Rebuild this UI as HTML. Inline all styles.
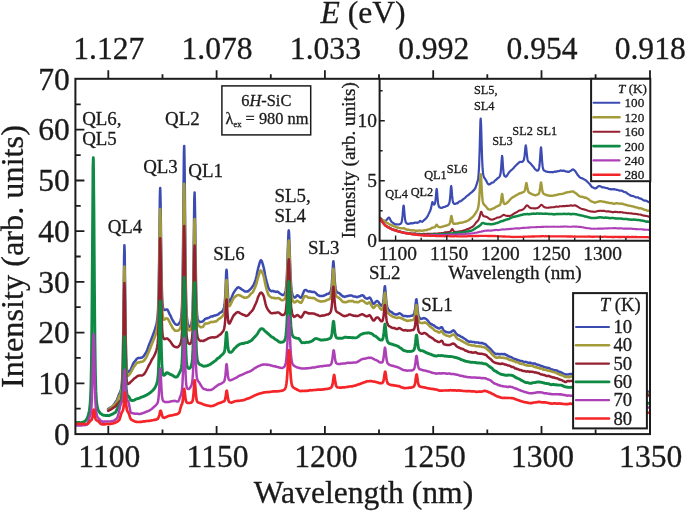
<!DOCTYPE html>
<html lang="en"><head><meta charset="utf-8"><title>6H-SiC photoluminescence spectra</title>
<style>html,body{margin:0;padding:0;background:#fff}body{width:685px;height:512px;overflow:hidden;position:relative}</style></head>
<body>
<svg width="685" height="512" viewBox="0 0 685 512" style="position:absolute;left:0;top:0;font-family:'Liberation Serif',serif" fill="#1a1a1a">
<style>text{stroke:#1a1a1a;stroke-width:.3px;paint-order:stroke}</style>
<rect width="685" height="512" fill="#fff"/>
<defs><clipPath id="cm"><rect x="75.4" y="78.8" width="574.6" height="355.3"/></clipPath><clipPath id="ci"><rect x="379.6" y="78.8" width="270.4" height="162.0"/></clipPath></defs>
<g clip-path="url(#cm)" fill="none" stroke-linejoin="round" stroke-linecap="round">
<path d="M108.1 409.1 L108.6 408.7 L109.1 408.5 L109.6 408.3 L110.1 407.9 L110.6 407.4 L111.1 407.2 L111.6 406.9 L112.1 406.7 L112.6 406.4 L113.1 405.7 L113.6 405.1 L114.1 404.1 L114.6 403.6 L115.1 402.8 L115.6 401.9 L116.1 401.2 L116.6 400.4 L117.1 399.5 L117.6 398.3 L118.1 396.8 L118.6 395.4 L119.1 394.1 L119.6 393.1 L120.1 392.0 L120.6 390.7 L121.1 389.0 L121.6 386.0 L122.1 380.3 L122.6 368.1 L123.1 343.0 L123.6 301.5 L124.1 256.6 L124.2 253.4 L124.4 245.3 L124.6 249.6 L124.7 252.0 L125.1 287.9 L125.6 329.2 L126.1 354.8 L126.6 366.4 L127.1 370.6 L127.6 372.0 L128.1 372.1 L128.6 371.9 L129.1 371.6 L129.6 371.0 L130.1 370.4 L130.6 369.6 L131.1 368.6 L131.6 367.4 L132.1 366.4 L132.6 365.1 L133.1 363.9 L133.6 362.9 L134.1 362.1 L134.6 361.7 L135.1 361.0 L135.6 360.6 L136.1 359.8 L136.6 359.1 L137.1 358.7 L137.6 358.2 L138.1 358.1 L138.6 358.1 L139.1 357.9 L139.6 358.0 L140.1 357.9 L140.6 357.7 L141.1 357.8 L141.6 357.6 L142.1 357.6 L142.6 357.2 L143.1 356.7 L143.6 356.3 L144.1 355.5 L144.6 354.8 L145.1 354.1 L145.6 353.1 L146.1 352.3 L146.6 351.5 L147.1 350.3 L147.6 349.1 L148.1 347.5 L148.6 346.0 L149.1 344.6 L149.6 343.3 L150.1 342.3 L150.6 341.1 L151.1 339.8 L151.6 338.5 L152.1 337.3 L152.6 335.9 L153.1 334.5 L153.6 333.3 L154.1 331.9 L154.6 330.4 L155.1 328.9 L155.6 327.1 L156.1 325.3 L156.6 323.2 L157.1 320.4 L157.6 316.3 L158.1 308.9 L158.6 293.5 L159.1 264.2 L159.6 221.8 L159.9 195.4 L160.1 189.4 L160.2 188.0 L160.4 194.4 L160.6 203.7 L161.1 244.9 L161.6 278.5 L162.1 297.0 L162.6 305.0 L163.1 308.2 L163.6 309.5 L164.1 309.9 L164.6 310.1 L165.1 309.9 L165.6 309.7 L166.1 309.6 L166.6 309.4 L167.1 309.4 L167.6 309.9 L168.1 310.8 L168.6 311.9 L169.1 313.0 L169.6 314.2 L170.1 314.9 L170.6 315.8 L171.1 317.1 L171.6 318.2 L172.1 319.2 L172.6 320.2 L173.1 321.1 L173.6 321.8 L174.1 322.7 L174.6 323.3 L175.1 323.9 L175.6 324.3 L176.1 324.5 L176.6 324.8 L177.1 324.8 L177.6 324.7 L178.1 324.6 L178.6 324.0 L179.1 323.5 L179.6 322.9 L180.1 321.8 L180.6 320.3 L181.1 318.0 L181.6 313.5 L182.1 303.7 L182.6 282.3 L183.1 242.6 L183.6 187.3 L183.9 154.3 L184.1 147.2 L184.2 145.9 L184.4 154.6 L184.6 166.9 L185.1 222.5 L185.6 270.4 L186.1 299.2 L186.6 313.0 L187.1 319.5 L187.6 322.8 L188.1 324.7 L188.6 325.8 L189.1 326.5 L189.6 326.8 L190.1 326.7 L190.6 326.3 L191.1 325.2 L191.6 323.1 L192.1 318.9 L192.6 309.9 L193.1 291.0 L193.6 258.0 L194.1 215.8 L194.3 199.2 L194.6 192.5 L194.8 198.7 L195.1 215.0 L195.6 256.2 L196.1 288.3 L196.6 306.3 L197.1 314.6 L197.6 318.2 L198.1 320.1 L198.6 321.1 L199.1 321.6 L199.6 321.9 L200.1 321.9 L200.6 321.9 L201.1 321.8 L201.6 321.8 L202.1 321.7 L202.6 321.5 L203.1 321.2 L203.6 320.7 L204.1 320.1 L204.6 319.5 L205.1 318.9 L205.6 318.8 L206.1 318.5 L206.6 318.6 L207.1 318.4 L207.6 318.1 L208.1 318.1 L208.6 317.8 L209.1 317.6 L209.6 317.4 L210.1 317.0 L210.6 316.7 L211.1 316.4 L211.6 316.4 L212.1 316.3 L212.6 316.4 L213.1 316.0 L213.6 315.8 L214.1 315.7 L214.6 315.4 L215.1 315.6 L215.6 315.5 L216.1 315.2 L216.6 315.1 L217.1 315.0 L217.6 314.7 L218.1 314.4 L218.6 314.1 L219.1 313.5 L219.6 313.1 L220.1 312.7 L220.6 312.6 L221.1 312.3 L221.6 312.0 L222.1 311.5 L222.6 310.9 L223.1 310.1 L223.6 309.1 L224.1 307.5 L224.6 304.3 L225.1 298.3 L225.6 287.7 L226.1 275.0 L226.2 272.1 L226.5 269.8 L226.6 270.0 L226.8 271.4 L227.1 278.4 L227.6 289.7 L228.1 297.2 L228.6 300.6 L229.1 301.8 L229.6 301.7 L230.1 301.2 L230.6 300.3 L231.1 299.1 L231.6 297.7 L232.1 296.3 L232.6 295.0 L233.1 293.6 L233.6 292.9 L234.1 292.0 L234.6 291.3 L235.1 290.6 L235.6 289.8 L236.1 289.2 L236.6 288.6 L237.1 287.9 L237.6 287.6 L238.1 287.4 L238.6 287.3 L239.1 287.6 L239.6 287.9 L240.1 288.1 L240.6 288.5 L241.1 289.0 L241.6 289.3 L242.1 289.7 L242.6 289.9 L243.1 290.1 L243.6 290.6 L244.1 291.0 L244.6 291.3 L245.1 291.5 L245.6 291.4 L246.1 291.5 L246.6 291.5 L247.1 291.3 L247.6 291.4 L248.1 291.3 L248.6 290.8 L249.1 290.5 L249.6 289.8 L250.1 289.4 L250.6 289.0 L251.1 288.4 L251.6 287.9 L252.1 287.1 L252.6 286.4 L253.1 285.8 L253.6 284.8 L254.1 283.8 L254.6 282.6 L255.1 281.3 L255.6 279.9 L256.1 277.8 L256.6 275.7 L257.1 273.1 L257.6 270.7 L258.1 268.5 L258.6 266.7 L259.1 264.9 L259.6 263.0 L260.1 261.6 L260.6 260.4 L261.1 260.2 L261.6 260.8 L262.1 262.0 L262.6 263.6 L263.1 265.4 L263.6 267.3 L264.1 269.4 L264.6 272.0 L265.1 274.9 L265.6 277.4 L266.1 279.7 L266.6 281.5 L267.1 283.2 L267.6 285.1 L268.1 286.9 L268.6 288.3 L269.1 289.2 L269.6 289.8 L270.1 290.4 L270.6 290.8 L271.1 291.1 L271.6 291.2 L272.1 290.9 L272.6 291.0 L273.1 291.2 L273.6 291.1 L274.1 291.5 L274.6 291.5 L275.1 291.7 L275.6 291.8 L276.1 291.9 L276.6 291.8 L277.1 291.6 L277.6 291.7 L278.1 291.9 L278.6 292.3 L279.1 292.8 L279.6 293.2 L280.1 293.5 L280.6 293.9 L281.1 294.1 L281.6 294.6 L282.1 294.8 L282.6 295.0 L283.1 295.0 L283.6 294.8 L284.1 294.5 L284.6 293.9 L285.1 292.9 L285.6 291.0 L286.1 287.5 L286.6 281.2 L287.1 271.1 L287.6 256.9 L288.1 241.2 L288.5 232.2 L288.6 231.0 L288.8 230.4 L289.0 232.3 L289.1 234.1 L289.6 247.8 L290.1 263.7 L290.6 276.6 L291.1 285.4 L291.6 290.7 L292.1 293.6 L292.6 295.3 L293.1 296.2 L293.6 296.9 L294.1 297.3 L294.6 297.5 L295.1 297.6 L295.6 297.1 L296.1 296.5 L296.6 295.8 L297.1 295.2 L297.6 295.2 L298.1 295.6 L298.6 295.9 L299.1 296.4 L299.6 296.8 L300.1 297.3 L300.6 297.7 L301.1 297.7 L301.6 297.1 L302.1 296.0 L302.6 294.6 L303.1 293.2 L303.6 292.0 L304.1 290.9 L304.6 290.3 L305.1 289.9 L305.6 290.0 L306.1 290.1 L306.6 290.3 L307.1 290.8 L307.6 291.1 L308.1 291.3 L308.6 291.5 L309.1 291.4 L309.6 291.3 L310.1 291.4 L310.6 291.5 L311.1 291.7 L311.6 291.8 L312.1 292.0 L312.6 292.0 L313.1 291.8 L313.6 291.9 L314.1 292.0 L314.6 292.2 L315.1 292.5 L315.6 292.8 L316.1 293.3 L316.6 293.8 L317.1 294.5 L317.6 294.9 L318.1 295.3 L318.6 295.6 L319.1 295.6 L319.6 295.9 L320.1 295.9 L320.6 295.9 L321.1 296.1 L321.6 296.1 L322.1 296.1 L322.6 295.9 L323.1 295.9 L323.6 295.6 L324.1 295.4 L324.6 295.4 L325.1 295.1 L325.6 294.8 L326.1 294.7 L326.6 294.2 L327.1 294.0 L327.6 294.1 L328.1 293.8 L328.6 293.7 L329.1 293.4 L329.6 292.8 L330.1 292.4 L330.6 291.6 L331.1 289.9 L331.6 286.4 L332.1 280.2 L332.6 271.5 L333.1 263.2 L333.1 262.6 L333.4 261.3 L333.6 262.2 L333.6 262.6 L334.1 269.5 L334.6 278.4 L335.1 285.0 L335.6 288.7 L336.1 290.6 L336.6 291.7 L337.1 292.2 L337.6 292.6 L338.1 292.7 L338.6 292.9 L339.1 293.2 L339.6 293.4 L340.1 294.0 L340.6 294.5 L341.1 294.7 L341.6 295.4 L342.1 295.8 L342.6 296.0 L343.1 296.5 L343.6 296.6 L344.1 296.7 L344.6 296.9 L345.1 296.5 L345.6 296.6 L346.1 296.4 L346.6 296.2 L347.1 296.2 L347.6 295.9 L348.1 295.9 L348.6 295.7 L349.1 295.7 L349.6 295.6 L350.1 295.4 L350.6 295.5 L351.1 295.4 L351.6 295.5 L352.1 295.8 L352.6 295.9 L353.1 296.3 L353.6 296.6 L354.1 296.6 L354.6 296.6 L355.1 296.6 L355.6 296.7 L356.1 296.9 L356.6 297.1 L357.1 297.2 L357.6 297.0 L358.1 296.7 L358.6 296.6 L359.1 296.4 L359.6 296.4 L360.1 296.1 L360.6 295.9 L361.1 295.5 L361.6 295.4 L362.1 295.4 L362.6 295.3 L363.1 295.5 L363.6 295.8 L364.1 296.5 L364.6 297.3 L365.1 297.8 L365.6 298.2 L366.1 298.4 L366.6 298.5 L367.1 298.7 L367.6 298.6 L368.1 298.3 L368.6 298.1 L369.1 297.7 L369.6 297.6 L370.1 297.9 L370.6 298.5 L371.1 299.5 L371.6 300.6 L372.1 301.9 L372.6 303.0 L373.1 303.7 L373.6 303.9 L374.1 303.5 L374.6 302.9 L375.1 302.6 L375.6 301.8 L376.1 301.4 L376.6 301.2 L377.1 300.9 L377.6 301.2 L378.1 301.7 L378.6 302.1 L379.1 302.9 L379.6 303.8 L380.1 304.4 L380.6 305.0 L381.1 305.5 L381.6 305.7 L382.1 305.6 L382.6 304.8 L383.1 302.7 L383.6 298.7 L384.1 292.9 L384.6 287.4 L384.6 287.0 L384.9 286.2 L385.1 286.9 L385.1 287.3 L385.6 292.3 L386.1 298.8 L386.6 303.7 L387.1 306.5 L387.6 308.1 L388.1 309.1 L388.6 310.0 L389.1 310.5 L389.6 311.0 L390.1 311.4 L390.6 311.5 L391.1 311.9 L391.6 312.1 L392.1 312.5 L392.6 313.1 L393.1 313.4 L393.6 313.7 L394.1 314.0 L394.6 314.1 L395.1 314.3 L395.6 314.5 L396.1 314.3 L396.6 314.4 L397.1 314.5 L397.6 314.2 L398.1 314.0 L398.6 313.6 L399.1 313.3 L399.6 313.3 L400.1 313.5 L400.6 313.8 L401.1 314.1 L401.6 314.6 L402.1 315.0 L402.6 315.4 L403.1 315.8 L403.6 316.0 L404.1 316.1 L404.6 316.1 L405.1 316.1 L405.6 316.0 L406.1 316.1 L406.6 316.3 L407.1 316.3 L407.6 316.4 L408.1 316.2 L408.6 316.2 L409.1 316.2 L409.6 316.2 L410.1 316.1 L410.6 315.9 L411.1 315.8 L411.6 315.8 L412.1 315.7 L412.6 315.5 L413.1 315.2 L413.6 314.6 L414.1 313.8 L414.6 312.1 L415.1 309.0 L415.6 304.4 L416.1 300.1 L416.1 299.8 L416.4 299.2 L416.6 299.8 L416.6 300.1 L417.1 304.1 L417.6 309.4 L418.1 313.4 L418.6 315.8 L419.1 317.2 L419.6 318.0 L420.1 318.5 L420.6 318.6 L421.1 318.9 L421.6 318.7 L422.1 318.7 L422.6 318.5 L423.1 318.3 L423.6 318.2 L424.1 318.1 L424.6 318.3 L425.1 318.4 L425.6 318.7 L426.1 319.0 L426.6 319.3 L427.1 319.8 L427.6 320.4 L428.1 320.9 L428.6 321.7 L429.1 322.6 L429.6 323.0 L430.1 323.5 L430.6 323.8 L431.1 324.0 L431.6 324.1 L432.1 324.6 L432.6 324.9 L433.1 324.9 L433.6 325.3 L434.1 325.5 L434.6 325.9 L435.1 326.4 L435.6 326.9 L436.1 327.2 L436.6 327.5 L437.1 327.6 L437.6 327.9 L438.1 328.2 L438.6 328.4 L439.1 328.5 L439.6 328.3 L440.1 328.0 L440.6 327.6 L441.1 327.3 L441.6 327.2 L442.1 327.4 L442.6 328.4 L443.1 329.5 L443.6 330.4 L444.1 330.7 L444.6 331.1 L445.1 331.4 L445.6 331.8 L446.1 332.0 L446.6 332.1 L447.1 332.2 L447.6 332.2 L448.1 332.4 L448.6 332.5 L449.1 332.5 L449.6 332.5 L450.1 332.4 L450.6 332.2 L451.1 331.9 L451.6 331.6 L452.1 331.0 L452.6 330.7 L453.1 330.6 L453.6 330.3 L454.1 330.8 L454.6 331.4 L455.1 332.0 L455.6 332.8 L456.1 333.6 L456.6 334.1 L457.1 334.5 L457.6 335.1 L458.1 335.1 L458.6 335.4 L459.1 335.5 L459.6 335.7 L460.1 336.1 L460.6 336.4 L461.1 336.8 L461.6 337.0 L462.1 337.1 L462.6 337.3 L463.1 337.8 L463.6 338.1 L464.1 338.3 L464.6 338.7 L465.1 339.0 L465.6 339.3 L466.1 339.8 L466.6 340.3 L467.1 340.4 L467.6 340.9 L468.1 341.4 L468.6 341.4 L469.1 341.8 L469.6 341.7 L470.1 341.5 L470.6 341.7 L471.1 341.7 L471.6 341.8 L472.1 342.1 L472.6 342.0 L473.1 342.0 L473.6 342.0 L474.1 342.0 L474.6 342.3 L475.1 342.5 L475.6 342.6 L476.1 342.6 L476.6 342.6 L477.1 342.4 L477.6 342.5 L478.1 342.6 L478.6 342.7 L479.1 342.9 L479.6 343.1 L480.1 343.1 L480.6 343.1 L481.1 343.2 L481.6 343.1 L482.1 343.1 L482.6 343.1 L483.1 343.5 L483.6 343.7 L484.1 343.9 L484.6 344.1 L485.1 344.1 L485.6 344.4 L486.1 344.9 L486.6 345.4 L487.1 345.9 L487.6 346.4 L488.1 346.8 L488.6 347.4 L489.1 347.6 L489.6 348.2 L490.1 348.7 L490.6 349.1 L491.1 349.8 L491.6 350.2 L492.1 350.9 L492.6 351.4 L493.1 351.8 L493.6 352.6 L494.1 352.7 L494.6 353.3 L495.1 353.7 L495.6 353.9 L496.1 354.2 L496.6 354.0 L497.1 353.8 L497.6 353.9 L498.1 353.9 L498.6 354.0 L499.1 354.3 L499.6 354.1 L500.1 354.2 L500.6 354.2 L501.1 354.1 L501.6 354.0 L502.1 354.0 L502.6 354.2 L503.1 354.3 L503.6 354.2 L504.1 354.1 L504.6 354.1 L505.1 354.2 L505.6 354.6 L506.1 355.1 L506.6 355.0 L507.1 355.4 L507.6 355.7 L508.1 355.8 L508.6 356.3 L509.1 356.5 L509.6 356.7 L510.1 356.8 L510.6 357.0 L511.1 357.2 L511.6 357.3 L512.1 357.7 L512.6 358.0 L513.1 358.3 L513.6 358.7 L514.1 358.9 L514.6 358.9 L515.1 358.9 L515.6 359.2 L516.1 359.4 L516.6 359.5 L517.1 360.0 L517.6 360.0 L518.1 360.1 L518.6 360.3 L519.1 360.4 L519.6 360.6 L520.1 360.8 L520.6 361.0 L521.1 360.9 L521.6 360.9 L522.1 361.2 L522.6 361.4 L523.1 361.7 L523.6 361.9 L524.1 362.2 L524.6 362.1 L525.1 361.9 L525.6 362.1 L526.1 361.9 L526.6 362.2 L527.1 362.4 L527.6 362.5 L528.1 362.8 L528.6 362.7 L529.1 362.8 L529.6 362.6 L530.1 362.6 L530.6 362.8 L531.1 363.0 L531.6 363.4 L532.1 363.6 L532.6 363.6 L533.1 363.7 L533.6 363.6 L534.1 363.5 L534.6 363.6 L535.1 363.6 L535.6 363.9 L536.1 364.3 L536.6 364.4 L537.1 364.6 L537.6 364.7 L538.1 364.8 L538.6 364.9 L539.1 365.2 L539.6 365.4 L540.1 365.4 L540.6 365.8 L541.1 365.9 L541.6 366.0 L542.1 366.2 L542.6 366.3 L543.1 366.6 L543.6 366.9 L544.1 367.0 L544.6 367.2 L545.1 367.4 L545.6 367.6 L546.1 367.6 L546.6 367.7 L547.1 367.7 L547.6 367.9 L548.1 368.1 L548.6 367.9 L549.1 368.1 L549.6 368.3 L550.1 368.6 L550.6 369.1 L551.1 369.3 L551.6 369.4 L552.1 369.6 L552.6 369.6 L553.1 369.8 L553.6 370.0 L554.1 370.1 L554.6 370.3 L555.1 370.4 L555.6 370.3 L556.1 370.5 L556.6 370.4 L557.1 370.6 L557.6 371.0 L558.1 371.4 L558.6 371.8 L559.1 371.9 L559.6 371.8 L560.1 372.1 L560.6 372.1 L561.1 372.5 L561.6 372.7 L562.1 372.8 L562.6 373.3 L563.1 373.4 L563.6 373.9 L564.1 374.0 L564.6 374.0 L565.1 374.3 L565.6 374.4 L566.1 374.5 L566.6 374.6 L567.1 374.4 L567.6 374.4 L568.1 374.5 L568.6 374.3 L569.1 374.3 L569.6 374.2 L570.1 373.9 L570.6 374.1 L571.1 374.2 L571.6 374.1 L572.1 374.2 L572.6 374.2 L573.1 374.0 L573.6 374.1 L574.1 374.1 L574.6 373.9 L575.1 374.2 L575.6 374.2 L576.1 374.2 L576.6 374.1 L577.1 374.2 L577.6 374.4 L578.1 374.7 L578.6 375.0 L579.1 375.1 L579.6 375.3 L580.1 375.5 L580.6 375.6 L581.1 375.8 L581.6 376.0 L582.1 376.0 L582.6 376.3 L583.1 376.5 L583.6 376.5 L584.1 376.8 L584.6 376.8 L585.1 377.2 L585.6 377.5 L586.1 377.5 L586.6 377.9 L587.1 377.8 L587.6 378.1 L588.1 378.5 L588.6 378.7 L589.1 379.0 L589.6 379.3 L590.1 379.4 L590.6 379.6 L591.1 379.9 L591.6 380.2 L592.1 380.4 L592.6 380.6 L593.1 380.9 L593.6 380.7 L594.1 380.9 L594.6 380.9 L595.1 380.8 L595.6 381.4 L596.1 381.7 L596.6 382.2 L597.1 382.5 L597.6 382.5 L598.1 382.6 L598.6 382.6 L599.1 382.7 L599.6 382.8 L600.1 383.1 L600.6 383.3 L601.1 383.4 L601.6 383.5 L602.1 383.5 L602.6 383.5 L603.1 383.7 L603.6 383.8 L604.1 383.9 L604.6 384.1 L605.1 384.2 L605.6 384.4 L606.1 384.5 L606.6 384.7 L607.1 384.7 L607.6 384.8 L608.1 385.0 L608.6 385.2 L609.1 385.4 L609.6 385.5 L610.1 385.4 L610.6 385.6 L611.1 385.7 L611.6 385.7 L612.1 385.9 L612.6 385.6 L613.1 385.6 L613.6 385.6 L614.1 386.0 L614.6 386.0 L615.1 386.0 L615.6 386.3 L616.1 386.2 L616.6 386.4 L617.1 386.5 L617.6 386.5 L618.1 386.6 L618.6 386.8 L619.1 386.8 L619.6 386.9 L620.1 387.1 L620.6 387.2 L621.1 387.3 L621.6 387.3 L622.1 387.4 L622.6 387.4 L623.1 387.6 L623.6 387.5 L624.1 387.4 L624.6 387.4 L625.1 387.5 L625.6 387.9 L626.1 388.0 L626.6 388.2 L627.1 388.3 L627.6 388.3 L628.1 388.6 L628.6 388.6 L629.1 388.4 L629.6 388.5 L630.1 388.8 L630.6 389.0 L631.1 389.3 L631.6 389.2 L632.1 389.2 L632.6 389.3 L633.1 389.2 L633.6 389.2 L634.1 389.1 L634.6 389.3 L635.1 389.5 L635.6 389.7 L636.1 389.9 L636.6 389.9 L637.1 389.9 L637.6 390.0 L638.1 389.8 L638.6 389.8 L639.1 390.0 L639.6 390.1 L640.1 390.3 L640.6 390.6 L641.1 390.3 L641.6 390.6 L642.1 390.7 L642.6 390.6 L643.1 391.0 L643.6 391.0 L644.1 391.2 L644.6 391.3 L645.1 391.4 L645.6 391.4 L646.1 391.5 L646.6 391.4 L647.1 391.5 L647.6 391.5 L648.1 391.7 L648.6 392.1 L649.1 392.1 L649.6 392.3 L650.1 392.3 L650.6 392.1" stroke="#3c4bb2" stroke-width="2.5"/>
<path d="M108.1 409.6 L108.6 409.4 L109.1 409.2 L109.6 408.9 L110.1 408.6 L110.6 408.1 L111.1 407.7 L111.6 407.2 L112.1 406.8 L112.6 406.6 L113.1 406.0 L113.6 405.5 L114.1 405.1 L114.6 404.5 L115.1 404.1 L115.6 403.5 L116.1 402.8 L116.6 402.0 L117.1 401.1 L117.6 400.1 L118.1 398.9 L118.6 397.6 L119.1 396.4 L119.6 395.5 L120.1 394.5 L120.6 393.4 L121.1 391.7 L121.6 388.9 L122.1 384.0 L122.6 373.4 L123.1 351.6 L123.6 315.5 L124.1 276.3 L124.2 273.6 L124.4 266.5 L124.6 270.1 L124.7 272.2 L125.1 303.2 L125.6 338.9 L126.1 360.9 L126.6 371.1 L127.1 374.8 L127.6 375.7 L128.1 375.8 L128.6 375.3 L129.1 374.8 L129.6 374.3 L130.1 373.6 L130.6 372.8 L131.1 371.9 L131.6 371.1 L132.1 370.1 L132.6 369.1 L133.1 368.1 L133.6 367.3 L134.1 366.6 L134.6 366.0 L135.1 365.3 L135.6 364.5 L136.1 363.8 L136.6 363.2 L137.1 362.9 L137.6 362.6 L138.1 362.4 L138.6 362.4 L139.1 362.5 L139.6 362.3 L140.1 362.1 L140.6 362.0 L141.1 361.8 L141.6 361.8 L142.1 361.8 L142.6 361.6 L143.1 361.3 L143.6 361.0 L144.1 360.5 L144.6 360.0 L145.1 359.3 L145.6 358.6 L146.1 357.8 L146.6 356.7 L147.1 355.6 L147.6 354.5 L148.1 353.3 L148.6 352.2 L149.1 351.0 L149.6 349.7 L150.1 348.6 L150.6 347.2 L151.1 346.0 L151.6 344.7 L152.1 343.5 L152.6 342.3 L153.1 341.1 L153.6 339.8 L154.1 338.5 L154.6 337.3 L155.1 335.9 L155.6 334.5 L156.1 332.8 L156.6 330.9 L157.1 328.4 L157.6 324.8 L158.1 318.2 L158.6 304.3 L159.1 277.9 L159.6 239.6 L159.9 215.7 L160.1 210.3 L160.2 209.1 L160.4 214.9 L160.6 223.3 L161.1 260.6 L161.6 291.0 L162.1 307.6 L162.6 314.8 L163.1 317.7 L163.6 319.0 L164.1 319.7 L164.6 319.6 L165.1 319.2 L165.6 318.8 L166.1 318.3 L166.6 318.4 L167.1 318.5 L167.6 318.7 L168.1 319.3 L168.6 320.0 L169.1 321.1 L169.6 322.0 L170.1 323.1 L170.6 324.1 L171.1 325.0 L171.6 326.0 L172.1 326.9 L172.6 327.9 L173.1 328.5 L173.6 329.1 L174.1 329.8 L174.6 330.1 L175.1 330.8 L175.6 330.8 L176.1 330.8 L176.6 330.8 L177.1 330.6 L177.6 330.8 L178.1 330.6 L178.6 330.3 L179.1 329.9 L179.6 329.2 L180.1 328.3 L180.6 327.1 L181.1 324.9 L181.6 321.1 L182.1 312.9 L182.6 295.4 L183.1 262.9 L183.6 217.8 L183.9 190.8 L184.1 185.0 L184.2 183.8 L184.4 190.9 L184.6 200.8 L185.1 246.0 L185.6 285.0 L186.1 308.3 L186.6 319.5 L187.1 324.7 L187.6 327.5 L188.1 328.8 L188.6 329.8 L189.1 330.4 L189.6 330.4 L190.1 330.2 L190.6 329.6 L191.1 328.6 L191.6 327.0 L192.1 323.6 L192.6 316.3 L193.1 300.7 L193.6 273.4 L194.1 238.5 L194.3 224.6 L194.6 219.1 L194.8 224.3 L195.1 237.8 L195.6 272.0 L196.1 298.7 L196.6 313.7 L197.1 320.4 L197.6 323.3 L198.1 324.7 L198.6 325.6 L199.1 326.2 L199.6 326.6 L200.1 326.8 L200.6 327.1 L201.1 327.1 L201.6 327.1 L202.1 327.1 L202.6 327.0 L203.1 326.7 L203.6 325.9 L204.1 325.0 L204.6 324.1 L205.1 323.5 L205.6 323.4 L206.1 323.5 L206.6 323.6 L207.1 323.5 L207.6 323.4 L208.1 323.2 L208.6 323.2 L209.1 323.0 L209.6 322.7 L210.1 322.4 L210.6 322.1 L211.1 322.0 L211.6 321.9 L212.1 322.1 L212.6 322.0 L213.1 321.9 L213.6 321.9 L214.1 321.6 L214.6 321.6 L215.1 321.6 L215.6 321.4 L216.1 321.4 L216.6 321.1 L217.1 320.6 L217.6 320.1 L218.1 319.5 L218.6 319.1 L219.1 318.7 L219.6 318.5 L220.1 318.3 L220.6 317.9 L221.1 317.5 L221.6 317.1 L222.1 316.6 L222.6 316.0 L223.1 315.4 L223.6 314.6 L224.1 313.2 L224.6 310.5 L225.1 305.1 L225.6 295.8 L226.1 284.6 L226.2 282.0 L226.5 280.0 L226.6 280.1 L226.8 281.3 L227.1 287.2 L227.6 296.7 L228.1 302.9 L228.6 305.6 L229.1 306.2 L229.6 306.1 L230.1 305.3 L230.6 304.6 L231.1 303.4 L231.6 302.2 L232.1 301.1 L232.6 299.9 L233.1 299.0 L233.6 298.2 L234.1 297.6 L234.6 297.1 L235.1 296.8 L235.6 296.3 L236.1 295.9 L236.6 295.6 L237.1 295.3 L237.6 295.2 L238.1 295.1 L238.6 295.0 L239.1 295.0 L239.6 295.3 L240.1 295.5 L240.6 295.7 L241.1 296.1 L241.6 296.3 L242.1 296.6 L242.6 296.9 L243.1 297.0 L243.6 297.3 L244.1 297.6 L244.6 297.6 L245.1 297.7 L245.6 297.8 L246.1 297.7 L246.6 297.5 L247.1 297.3 L247.6 297.1 L248.1 296.8 L248.6 296.5 L249.1 296.1 L249.6 295.4 L250.1 294.7 L250.6 294.0 L251.1 293.5 L251.6 293.2 L252.1 292.9 L252.6 292.3 L253.1 291.6 L253.6 290.7 L254.1 289.5 L254.6 288.4 L255.1 287.4 L255.6 286.1 L256.1 284.5 L256.6 283.1 L257.1 281.0 L257.6 279.1 L258.1 277.5 L258.6 275.8 L259.1 274.1 L259.6 272.5 L260.1 271.1 L260.6 270.4 L261.1 270.6 L261.6 271.1 L262.1 272.1 L262.6 273.3 L263.1 274.6 L263.6 276.2 L264.1 278.3 L264.6 280.7 L265.1 283.1 L265.6 285.6 L266.1 287.5 L266.6 289.3 L267.1 290.9 L267.6 292.4 L268.1 294.0 L268.6 294.9 L269.1 295.7 L269.6 296.2 L270.1 296.5 L270.6 296.9 L271.1 297.3 L271.6 297.7 L272.1 297.7 L272.6 297.8 L273.1 297.9 L273.6 297.8 L274.1 298.2 L274.6 298.1 L275.1 298.1 L275.6 298.4 L276.1 298.2 L276.6 298.2 L277.1 298.2 L277.6 298.2 L278.1 298.0 L278.6 298.2 L279.1 298.4 L279.6 298.5 L280.1 299.1 L280.6 299.4 L281.1 299.8 L281.6 300.1 L282.1 300.3 L282.6 300.3 L283.1 300.1 L283.6 299.9 L284.1 299.5 L284.6 299.0 L285.1 298.2 L285.6 296.5 L286.1 293.3 L286.6 287.5 L287.1 278.1 L287.6 265.0 L288.1 250.6 L288.5 242.2 L288.6 241.2 L288.8 240.6 L289.0 242.4 L289.1 244.0 L289.6 256.6 L290.1 271.1 L290.6 283.1 L291.1 291.2 L291.6 296.0 L292.1 298.8 L292.6 300.3 L293.1 301.2 L293.6 301.8 L294.1 302.4 L294.6 302.4 L295.1 302.3 L295.6 301.9 L296.1 301.5 L296.6 301.0 L297.1 300.8 L297.6 300.9 L298.1 301.1 L298.6 301.6 L299.1 301.9 L299.6 302.3 L300.1 302.5 L300.6 302.7 L301.1 302.8 L301.6 302.2 L302.1 301.4 L302.6 300.3 L303.1 299.1 L303.6 297.9 L304.1 296.9 L304.6 296.1 L305.1 296.0 L305.6 296.3 L306.1 296.2 L306.6 296.4 L307.1 296.7 L307.6 297.1 L308.1 297.6 L308.6 297.7 L309.1 297.8 L309.6 297.6 L310.1 297.7 L310.6 297.8 L311.1 297.9 L311.6 298.0 L312.1 298.1 L312.6 298.2 L313.1 298.0 L313.6 298.0 L314.1 298.1 L314.6 298.3 L315.1 298.8 L315.6 299.3 L316.1 299.5 L316.6 299.9 L317.1 300.3 L317.6 300.4 L318.1 300.7 L318.6 301.0 L319.1 301.1 L319.6 301.1 L320.1 301.4 L320.6 301.5 L321.1 301.6 L321.6 301.4 L322.1 301.4 L322.6 301.4 L323.1 301.2 L323.6 301.3 L324.1 301.2 L324.6 301.0 L325.1 300.9 L325.6 300.8 L326.1 300.5 L326.6 300.2 L327.1 300.0 L327.6 299.7 L328.1 299.6 L328.6 299.5 L329.1 299.3 L329.6 299.0 L330.1 298.4 L330.6 297.4 L331.1 295.7 L331.6 292.3 L332.1 286.5 L332.6 278.4 L333.1 270.6 L333.1 270.1 L333.4 268.8 L333.6 269.5 L333.6 269.9 L334.1 276.3 L334.6 284.5 L335.1 290.5 L335.6 293.9 L336.1 295.6 L336.6 296.5 L337.1 296.8 L337.6 297.3 L338.1 297.4 L338.6 297.6 L339.1 298.0 L339.6 298.4 L340.1 299.0 L340.6 299.3 L341.1 300.0 L341.6 300.6 L342.1 301.0 L342.6 301.6 L343.1 301.9 L343.6 302.0 L344.1 302.2 L344.6 302.2 L345.1 302.1 L345.6 302.1 L346.1 302.3 L346.6 302.1 L347.1 301.9 L347.6 301.7 L348.1 301.3 L348.6 301.0 L349.1 301.3 L349.6 301.0 L350.1 301.2 L350.6 301.2 L351.1 301.0 L351.6 301.1 L352.1 300.9 L352.6 301.1 L353.1 301.3 L353.6 301.5 L354.1 301.9 L354.6 302.0 L355.1 302.1 L355.6 302.0 L356.1 302.0 L356.6 302.1 L357.1 302.3 L357.6 302.2 L358.1 302.3 L358.6 302.2 L359.1 301.6 L359.6 301.4 L360.1 301.1 L360.6 300.8 L361.1 300.8 L361.6 300.7 L362.1 300.5 L362.6 300.7 L363.1 300.8 L363.6 301.1 L364.1 301.6 L364.6 302.1 L365.1 302.5 L365.6 302.8 L366.1 303.2 L366.6 303.4 L367.1 303.7 L367.6 303.6 L368.1 303.0 L368.6 302.7 L369.1 302.3 L369.6 302.5 L370.1 303.1 L370.6 303.8 L371.1 304.8 L371.6 305.7 L372.1 306.7 L372.6 307.2 L373.1 307.8 L373.6 307.9 L374.1 307.5 L374.6 307.0 L375.1 306.3 L375.6 305.6 L376.1 305.3 L376.6 305.1 L377.1 305.1 L377.6 305.3 L378.1 305.5 L378.6 306.1 L379.1 306.7 L379.6 307.6 L380.1 308.4 L380.6 308.8 L381.1 309.5 L381.6 309.7 L382.1 309.6 L382.6 309.0 L383.1 307.2 L383.6 303.7 L384.1 298.6 L384.6 293.8 L384.6 293.5 L384.9 292.8 L385.1 293.4 L385.1 293.7 L385.6 298.2 L386.1 304.0 L386.6 308.4 L387.1 311.0 L387.6 312.3 L388.1 313.1 L388.6 313.7 L389.1 314.1 L389.6 314.6 L390.1 315.0 L390.6 315.3 L391.1 315.7 L391.6 316.0 L392.1 316.2 L392.6 316.6 L393.1 316.8 L393.6 316.9 L394.1 317.2 L394.6 317.2 L395.1 317.4 L395.6 317.6 L396.1 317.8 L396.6 317.9 L397.1 317.9 L397.6 317.8 L398.1 317.6 L398.6 317.5 L399.1 317.5 L399.6 317.7 L400.1 317.7 L400.6 318.0 L401.1 318.2 L401.6 318.3 L402.1 318.5 L402.6 318.8 L403.1 319.1 L403.6 319.4 L404.1 319.7 L404.6 319.9 L405.1 320.1 L405.6 320.1 L406.1 320.4 L406.6 320.7 L407.1 320.7 L407.6 321.0 L408.1 320.8 L408.6 320.7 L409.1 320.6 L409.6 320.5 L410.1 320.5 L410.6 320.3 L411.1 320.3 L411.6 320.3 L412.1 320.1 L412.6 320.1 L413.1 320.0 L413.6 319.6 L414.1 318.8 L414.6 317.2 L415.1 314.2 L415.6 309.9 L416.1 305.9 L416.1 305.6 L416.4 305.1 L416.6 305.6 L416.6 305.9 L417.1 309.6 L417.6 314.4 L418.1 318.1 L418.6 320.3 L419.1 321.6 L419.6 322.4 L420.1 322.7 L420.6 322.9 L421.1 323.0 L421.6 323.0 L422.1 323.1 L422.6 322.9 L423.1 323.0 L423.6 322.8 L424.1 322.6 L424.6 322.6 L425.1 322.4 L425.6 322.6 L426.1 323.0 L426.6 323.2 L427.1 323.6 L427.6 324.0 L428.1 324.4 L428.6 325.2 L429.1 325.7 L429.6 326.2 L430.1 326.7 L430.6 326.9 L431.1 327.3 L431.6 327.7 L432.1 328.1 L432.6 328.4 L433.1 328.8 L433.6 329.3 L434.1 329.9 L434.6 330.4 L435.1 330.8 L435.6 330.9 L436.1 331.0 L436.6 331.1 L437.1 331.5 L437.6 331.7 L438.1 332.0 L438.6 332.5 L439.1 332.4 L439.6 332.4 L440.1 332.1 L440.6 331.5 L441.1 331.1 L441.6 331.0 L442.1 331.4 L442.6 332.3 L443.1 333.2 L443.6 334.0 L444.1 334.3 L444.6 334.4 L445.1 334.7 L445.6 335.2 L446.1 335.4 L446.6 335.6 L447.1 335.8 L447.6 335.7 L448.1 335.9 L448.6 336.1 L449.1 336.3 L449.6 336.4 L450.1 336.3 L450.6 336.1 L451.1 335.6 L451.6 335.2 L452.1 335.0 L452.6 334.7 L453.1 334.5 L453.6 334.5 L454.1 334.7 L454.6 335.1 L455.1 335.7 L455.6 336.6 L456.1 337.3 L456.6 337.8 L457.1 338.4 L457.6 338.8 L458.1 339.1 L458.6 339.3 L459.1 339.6 L459.6 339.8 L460.1 339.9 L460.6 340.5 L461.1 340.6 L461.6 340.8 L462.1 341.2 L462.6 341.3 L463.1 341.8 L463.6 342.1 L464.1 342.3 L464.6 342.6 L465.1 342.8 L465.6 343.1 L466.1 343.4 L466.6 343.7 L467.1 344.0 L467.6 344.2 L468.1 344.4 L468.6 344.7 L469.1 344.8 L469.6 344.8 L470.1 344.9 L470.6 345.1 L471.1 345.2 L471.6 345.5 L472.1 345.6 L472.6 345.5 L473.1 345.6 L473.6 345.4 L474.1 345.5 L474.6 345.6 L475.1 345.8 L475.6 346.1 L476.1 346.1 L476.6 346.3 L477.1 346.2 L477.6 346.2 L478.1 346.2 L478.6 346.1 L479.1 346.4 L479.6 346.3 L480.1 346.4 L480.6 346.5 L481.1 346.5 L481.6 346.7 L482.1 346.9 L482.6 347.0 L483.1 347.1 L483.6 347.2 L484.1 347.3 L484.6 347.5 L485.1 347.5 L485.6 347.9 L486.1 348.2 L486.6 348.8 L487.1 349.3 L487.6 349.6 L488.1 350.3 L488.6 350.5 L489.1 350.8 L489.6 351.6 L490.1 351.8 L490.6 352.6 L491.1 353.2 L491.6 353.7 L492.1 354.4 L492.6 354.7 L493.1 355.3 L493.6 355.7 L494.1 356.1 L494.6 356.7 L495.1 357.2 L495.6 357.4 L496.1 357.5 L496.6 357.7 L497.1 357.6 L497.6 357.8 L498.1 357.6 L498.6 357.3 L499.1 357.2 L499.6 357.1 L500.1 357.3 L500.6 357.8 L501.1 357.7 L501.6 357.7 L502.1 357.8 L502.6 357.6 L503.1 357.8 L503.6 357.9 L504.1 357.8 L504.6 358.1 L505.1 358.2 L505.6 358.2 L506.1 358.4 L506.6 358.4 L507.1 358.4 L507.6 358.8 L508.1 359.1 L508.6 359.3 L509.1 359.6 L509.6 359.9 L510.1 360.0 L510.6 360.2 L511.1 360.2 L511.6 360.1 L512.1 360.4 L512.6 360.8 L513.1 361.0 L513.6 361.1 L514.1 361.2 L514.6 361.3 L515.1 361.7 L515.6 362.0 L516.1 362.2 L516.6 362.2 L517.1 362.1 L517.6 362.3 L518.1 362.4 L518.6 362.8 L519.1 363.2 L519.6 363.3 L520.1 363.7 L520.6 363.7 L521.1 363.7 L521.6 364.1 L522.1 363.9 L522.6 363.9 L523.1 364.0 L523.6 364.1 L524.1 364.6 L524.6 364.9 L525.1 365.1 L525.6 365.2 L526.1 365.2 L526.6 365.3 L527.1 365.5 L527.6 365.6 L528.1 365.6 L528.6 365.6 L529.1 365.6 L529.6 365.6 L530.1 365.6 L530.6 365.6 L531.1 365.7 L531.6 365.7 L532.1 365.9 L532.6 366.1 L533.1 366.3 L533.6 366.5 L534.1 366.7 L534.6 366.8 L535.1 367.0 L535.6 367.2 L536.1 367.4 L536.6 367.4 L537.1 367.6 L537.6 367.6 L538.1 367.8 L538.6 367.9 L539.1 368.0 L539.6 368.5 L540.1 368.4 L540.6 368.5 L541.1 368.4 L541.6 368.4 L542.1 368.8 L542.6 369.0 L543.1 369.5 L543.6 369.8 L544.1 369.7 L544.6 369.7 L545.1 369.6 L545.6 369.7 L546.1 369.9 L546.6 370.2 L547.1 370.4 L547.6 370.5 L548.1 370.5 L548.6 370.6 L549.1 370.8 L549.6 370.9 L550.1 371.1 L550.6 371.1 L551.1 371.2 L551.6 371.4 L552.1 371.7 L552.6 371.8 L553.1 372.0 L553.6 372.1 L554.1 372.2 L554.6 372.3 L555.1 372.4 L555.6 372.5 L556.1 372.8 L556.6 373.2 L557.1 373.5 L557.6 373.8 L558.1 373.8 L558.6 374.0 L559.1 374.3 L559.6 374.5 L560.1 374.8 L560.6 374.9 L561.1 375.1 L561.6 375.1 L562.1 375.4 L562.6 375.5 L563.1 375.6 L563.6 376.0 L564.1 376.3 L564.6 376.7 L565.1 377.0 L565.6 377.0 L566.1 377.1 L566.6 377.0 L567.1 376.8 L567.6 377.0 L568.1 377.0 L568.6 377.1 L569.1 377.3 L569.6 377.0 L570.1 376.8 L570.6 376.7 L571.1 376.5 L571.6 376.5 L572.1 376.6 L572.6 376.7 L573.1 377.0 L573.6 377.0 L574.1 376.9 L574.6 377.0 L575.1 377.0 L575.6 377.2 L576.1 377.4 L576.6 377.2 L577.1 377.5 L577.6 377.6 L578.1 377.9 L578.6 378.0 L579.1 378.0 L579.6 378.2 L580.1 378.2 L580.6 378.3 L581.1 378.4 L581.6 378.3 L582.1 378.5 L582.6 378.8 L583.1 378.9 L583.6 379.4 L584.1 379.6 L584.6 379.9 L585.1 380.1 L585.6 380.1 L586.1 380.3 L586.6 380.3 L587.1 380.6 L587.6 380.8 L588.1 380.7 L588.6 381.0 L589.1 381.4 L589.6 381.7 L590.1 382.2 L590.6 382.4 L591.1 382.5 L591.6 382.6 L592.1 382.6 L592.6 382.6 L593.1 382.8 L593.6 383.0 L594.1 383.2 L594.6 383.5 L595.1 383.7 L595.6 384.0 L596.1 384.1 L596.6 384.1 L597.1 384.1 L597.6 384.4 L598.1 384.7 L598.6 385.0 L599.1 385.2 L599.6 385.1 L600.1 385.1 L600.6 385.3 L601.1 385.5 L601.6 385.7 L602.1 385.8 L602.6 385.9 L603.1 385.9 L603.6 385.9 L604.1 386.2 L604.6 386.2 L605.1 386.6 L605.6 386.7 L606.1 386.8 L606.6 386.9 L607.1 386.8 L607.6 386.8 L608.1 386.8 L608.6 386.8 L609.1 386.9 L609.6 386.9 L610.1 387.1 L610.6 387.5 L611.1 387.5 L611.6 387.7 L612.1 387.8 L612.6 387.8 L613.1 387.9 L613.6 388.1 L614.1 388.3 L614.6 388.5 L615.1 388.6 L615.6 388.6 L616.1 388.5 L616.6 388.4 L617.1 388.4 L617.6 388.5 L618.1 388.8 L618.6 389.1 L619.1 389.4 L619.6 389.3 L620.1 389.3 L620.6 389.4 L621.1 389.4 L621.6 389.6 L622.1 389.7 L622.6 389.7 L623.1 389.7 L623.6 389.9 L624.1 390.0 L624.6 390.1 L625.1 390.2 L625.6 390.3 L626.1 390.3 L626.6 390.3 L627.1 390.4 L627.6 390.5 L628.1 390.6 L628.6 390.7 L629.1 390.7 L629.6 390.8 L630.1 390.7 L630.6 391.0 L631.1 391.1 L631.6 391.2 L632.1 391.5 L632.6 391.4 L633.1 391.5 L633.6 391.7 L634.1 391.9 L634.6 392.0 L635.1 392.2 L635.6 392.2 L636.1 392.0 L636.6 392.1 L637.1 392.1 L637.6 392.2 L638.1 392.4 L638.6 392.4 L639.1 392.1 L639.6 392.2 L640.1 392.1 L640.6 392.2 L641.1 392.5 L641.6 392.6 L642.1 392.9 L642.6 392.8 L643.1 392.9 L643.6 393.0 L644.1 393.1 L644.6 393.3 L645.1 393.4 L645.6 393.4 L646.1 393.5 L646.6 393.5 L647.1 393.7 L647.6 393.8 L648.1 393.6 L648.6 393.7 L649.1 393.6 L649.6 393.6 L650.1 393.9 L650.6 394.0" stroke="#a39b3a" stroke-width="2.6"/>
<path d="M108.1 410.9 L108.6 410.7 L109.1 410.4 L109.6 410.0 L110.1 409.8 L110.6 409.7 L111.1 409.4 L111.6 409.2 L112.1 408.7 L112.6 408.2 L113.1 408.0 L113.6 407.6 L114.1 407.4 L114.6 407.2 L115.1 406.7 L115.6 406.3 L116.1 405.8 L116.6 405.0 L117.1 404.5 L117.6 403.9 L118.1 403.3 L118.6 402.7 L119.1 402.0 L119.6 401.4 L120.1 400.8 L120.6 400.0 L121.1 398.7 L121.6 396.5 L122.1 392.2 L122.6 382.4 L123.1 362.3 L123.6 328.7 L124.1 292.2 L124.2 289.6 L124.4 282.9 L124.6 286.2 L124.7 288.2 L125.1 317.0 L125.6 350.1 L126.1 370.6 L126.6 379.7 L127.1 383.0 L127.6 383.8 L128.1 383.9 L128.6 383.8 L129.1 383.4 L129.6 383.1 L130.1 382.5 L130.6 382.0 L131.1 381.6 L131.6 381.1 L132.1 380.7 L132.6 380.2 L133.1 379.6 L133.6 379.1 L134.1 378.6 L134.6 378.2 L135.1 377.9 L135.6 377.6 L136.1 377.2 L136.6 376.9 L137.1 376.4 L137.6 376.0 L138.1 375.8 L138.6 375.7 L139.1 375.6 L139.6 375.6 L140.1 375.5 L140.6 375.4 L141.1 375.4 L141.6 375.4 L142.1 375.4 L142.6 375.3 L143.1 375.0 L143.6 374.6 L144.1 374.0 L144.6 373.5 L145.1 372.7 L145.6 371.9 L146.1 371.0 L146.6 369.9 L147.1 369.0 L147.6 368.0 L148.1 367.0 L148.6 365.8 L149.1 365.0 L149.6 364.2 L150.1 363.2 L150.6 362.3 L151.1 361.1 L151.6 360.1 L152.1 359.2 L152.6 358.5 L153.1 357.6 L153.6 356.8 L154.1 355.9 L154.6 354.8 L155.1 353.9 L155.6 352.5 L156.1 351.1 L156.6 349.4 L157.1 347.2 L157.6 343.9 L158.1 337.9 L158.6 325.3 L159.1 301.1 L159.6 266.1 L159.9 244.2 L160.1 239.3 L160.2 238.3 L160.4 243.6 L160.6 251.3 L161.1 285.4 L161.6 313.2 L162.1 328.5 L162.6 335.0 L163.1 337.5 L163.6 338.6 L164.1 339.0 L164.6 339.2 L165.1 339.0 L165.6 338.8 L166.1 338.5 L166.6 338.4 L167.1 338.4 L167.6 338.7 L168.1 339.2 L168.6 339.6 L169.1 340.2 L169.6 340.7 L170.1 341.2 L170.6 341.8 L171.1 342.8 L171.6 343.4 L172.1 344.1 L172.6 345.0 L173.1 345.5 L173.6 346.0 L174.1 346.4 L174.6 346.7 L175.1 346.8 L175.6 347.0 L176.1 347.2 L176.6 347.3 L177.1 347.3 L177.6 347.2 L178.1 346.8 L178.6 346.4 L179.1 345.9 L179.6 345.2 L180.1 344.4 L180.6 343.2 L181.1 341.4 L181.6 338.2 L182.1 331.5 L182.6 317.1 L183.1 290.6 L183.6 253.8 L183.9 231.8 L184.1 227.0 L184.2 226.1 L184.4 231.7 L184.6 239.7 L185.1 276.3 L185.6 307.7 L186.1 326.4 L186.6 335.3 L187.1 339.3 L187.6 341.4 L188.1 342.7 L188.6 343.4 L189.1 343.9 L189.6 343.9 L190.1 343.8 L190.6 343.3 L191.1 342.2 L191.6 340.7 L192.1 337.5 L192.6 331.0 L193.1 317.2 L193.6 293.1 L194.1 262.4 L194.3 250.2 L194.6 245.4 L194.8 249.9 L195.1 261.7 L195.6 291.8 L196.1 315.2 L196.6 328.4 L197.1 334.3 L197.6 337.0 L198.1 338.4 L198.6 339.2 L199.1 339.9 L199.6 340.4 L200.1 340.8 L200.6 340.9 L201.1 340.8 L201.6 340.8 L202.1 340.8 L202.6 340.9 L203.1 341.0 L203.6 341.0 L204.1 340.6 L204.6 340.3 L205.1 340.2 L205.6 339.8 L206.1 339.7 L206.6 339.4 L207.1 339.1 L207.6 338.7 L208.1 338.4 L208.6 338.3 L209.1 338.2 L209.6 338.0 L210.1 337.7 L210.6 337.6 L211.1 337.6 L211.6 337.5 L212.1 337.4 L212.6 337.3 L213.1 337.3 L213.6 337.4 L214.1 337.5 L214.6 337.4 L215.1 337.3 L215.6 337.2 L216.1 337.0 L216.6 337.0 L217.1 336.7 L217.6 336.4 L218.1 336.0 L218.6 335.5 L219.1 335.2 L219.6 334.8 L220.1 334.7 L220.6 334.2 L221.1 333.8 L221.6 333.1 L222.1 332.4 L222.6 331.9 L223.1 331.1 L223.6 330.3 L224.1 328.9 L224.6 326.3 L225.1 321.6 L225.6 313.4 L226.1 303.5 L226.2 301.3 L226.5 299.5 L226.6 299.6 L226.8 300.7 L227.1 306.0 L227.6 314.6 L228.1 320.3 L228.6 322.9 L229.1 323.6 L229.6 323.5 L230.1 322.7 L230.6 321.7 L231.1 320.6 L231.6 319.5 L232.1 318.4 L232.6 317.3 L233.1 316.3 L233.6 315.5 L234.1 315.0 L234.6 314.5 L235.1 313.9 L235.6 313.5 L236.1 312.9 L236.6 312.5 L237.1 312.3 L237.6 312.1 L238.1 312.2 L238.6 312.3 L239.1 312.4 L239.6 312.9 L240.1 313.2 L240.6 313.5 L241.1 313.8 L241.6 314.0 L242.1 314.2 L242.6 314.6 L243.1 314.8 L243.6 314.8 L244.1 315.1 L244.6 315.2 L245.1 315.4 L245.6 315.8 L246.1 316.0 L246.6 315.8 L247.1 315.8 L247.6 315.5 L248.1 315.1 L248.6 314.8 L249.1 314.1 L249.6 313.4 L250.1 312.8 L250.6 312.3 L251.1 311.8 L251.6 311.2 L252.1 310.9 L252.6 310.1 L253.1 309.4 L253.6 308.4 L254.1 307.3 L254.6 306.0 L255.1 304.9 L255.6 304.0 L256.1 302.8 L256.6 301.5 L257.1 300.1 L257.6 298.5 L258.1 297.0 L258.6 295.9 L259.1 295.0 L259.6 293.9 L260.1 293.2 L260.6 292.8 L261.1 292.5 L261.6 292.8 L262.1 293.2 L262.6 293.9 L263.1 294.9 L263.6 295.9 L264.1 297.6 L264.6 299.7 L265.1 301.9 L265.6 304.1 L266.1 305.9 L266.6 307.1 L267.1 308.1 L267.6 309.1 L268.1 310.0 L268.6 310.6 L269.1 311.2 L269.6 311.7 L270.1 312.4 L270.6 312.9 L271.1 313.1 L271.6 313.3 L272.1 313.2 L272.6 313.2 L273.1 313.2 L273.6 313.0 L274.1 312.8 L274.6 313.1 L275.1 313.0 L275.6 313.0 L276.1 312.8 L276.6 312.4 L277.1 312.5 L277.6 312.4 L278.1 312.4 L278.6 312.5 L279.1 312.8 L279.6 313.1 L280.1 313.6 L280.6 314.1 L281.1 314.4 L281.6 314.8 L282.1 315.0 L282.6 315.1 L283.1 315.0 L283.6 314.8 L284.1 314.7 L284.6 314.2 L285.1 313.4 L285.6 311.8 L286.1 308.6 L286.6 303.1 L287.1 294.3 L287.6 282.1 L288.1 268.6 L288.5 260.9 L288.6 259.9 L288.8 259.3 L289.0 261.0 L289.1 262.5 L289.6 274.3 L290.1 287.8 L290.6 298.9 L291.1 306.4 L291.6 310.8 L292.1 313.3 L292.6 314.9 L293.1 315.8 L293.6 316.5 L294.1 316.9 L294.6 316.7 L295.1 316.5 L295.6 316.1 L296.1 315.7 L296.6 315.4 L297.1 315.2 L297.6 315.1 L298.1 315.4 L298.6 315.8 L299.1 316.2 L299.6 316.6 L300.1 317.1 L300.6 317.3 L301.1 317.4 L301.6 317.0 L302.1 316.3 L302.6 315.5 L303.1 314.5 L303.6 313.7 L304.1 312.8 L304.6 312.1 L305.1 312.0 L305.6 312.2 L306.1 312.3 L306.6 312.4 L307.1 312.8 L307.6 313.0 L308.1 313.1 L308.6 313.4 L309.1 313.3 L309.6 313.4 L310.1 313.6 L310.6 313.6 L311.1 313.6 L311.6 313.4 L312.1 313.3 L312.6 313.5 L313.1 313.5 L313.6 313.7 L314.1 313.9 L314.6 313.8 L315.1 314.0 L315.6 314.2 L316.1 314.6 L316.6 314.8 L317.1 315.0 L317.6 315.2 L318.1 315.1 L318.6 315.5 L319.1 315.8 L319.6 316.0 L320.1 316.0 L320.6 315.9 L321.1 315.8 L321.6 315.7 L322.1 315.6 L322.6 315.7 L323.1 315.5 L323.6 315.5 L324.1 315.5 L324.6 315.2 L325.1 315.2 L325.6 314.9 L326.1 314.8 L326.6 314.7 L327.1 314.5 L327.6 314.5 L328.1 314.4 L328.6 314.0 L329.1 313.8 L329.6 313.3 L330.1 312.9 L330.6 312.0 L331.1 310.5 L331.6 307.6 L332.1 302.5 L332.6 295.2 L333.1 288.2 L333.1 287.8 L333.4 286.7 L333.6 287.3 L333.6 287.6 L334.1 293.3 L334.6 300.7 L335.1 306.1 L335.6 309.3 L336.1 310.9 L336.6 311.7 L337.1 312.0 L337.6 312.4 L338.1 312.6 L338.6 312.8 L339.1 313.1 L339.6 313.5 L340.1 313.8 L340.6 314.1 L341.1 314.5 L341.6 314.8 L342.1 315.2 L342.6 315.5 L343.1 315.7 L343.6 315.9 L344.1 316.0 L344.6 316.2 L345.1 316.0 L345.6 316.0 L346.1 315.8 L346.6 315.6 L347.1 315.5 L347.6 315.3 L348.1 315.1 L348.6 314.7 L349.1 314.6 L349.6 314.6 L350.1 314.5 L350.6 314.7 L351.1 314.9 L351.6 315.0 L352.1 315.3 L352.6 315.4 L353.1 315.4 L353.6 315.7 L354.1 315.7 L354.6 315.7 L355.1 315.9 L355.6 315.8 L356.1 315.9 L356.6 315.9 L357.1 315.9 L357.6 316.1 L358.1 315.8 L358.6 315.8 L359.1 315.5 L359.6 315.2 L360.1 315.1 L360.6 314.8 L361.1 314.5 L361.6 314.2 L362.1 314.2 L362.6 314.2 L363.1 314.5 L363.6 314.9 L364.1 315.2 L364.6 315.4 L365.1 315.8 L365.6 316.0 L366.1 316.2 L366.6 316.4 L367.1 316.2 L367.6 316.3 L368.1 316.0 L368.6 315.5 L369.1 315.3 L369.6 315.1 L370.1 315.6 L370.6 316.3 L371.1 317.2 L371.6 318.1 L372.1 318.8 L372.6 319.8 L373.1 320.4 L373.6 320.6 L374.1 320.5 L374.6 319.9 L375.1 319.2 L375.6 318.5 L376.1 318.0 L376.6 317.6 L377.1 317.4 L377.6 317.5 L378.1 317.7 L378.6 318.2 L379.1 318.6 L379.6 319.4 L380.1 320.1 L380.6 320.7 L381.1 321.2 L381.6 321.3 L382.1 321.2 L382.6 320.6 L383.1 318.9 L383.6 315.6 L384.1 310.7 L384.6 306.0 L384.6 305.7 L384.9 305.0 L385.1 305.6 L385.1 305.9 L385.6 310.3 L386.1 315.9 L386.6 320.2 L387.1 322.7 L387.6 324.1 L388.1 325.0 L388.6 325.6 L389.1 326.1 L389.6 326.4 L390.1 326.6 L390.6 326.8 L391.1 327.3 L391.6 327.6 L392.1 327.7 L392.6 328.1 L393.1 327.9 L393.6 328.0 L394.1 328.1 L394.6 328.1 L395.1 328.5 L395.6 328.6 L396.1 328.9 L396.6 329.1 L397.1 329.1 L397.6 329.1 L398.1 328.6 L398.6 328.2 L399.1 328.1 L399.6 328.1 L400.1 328.4 L400.6 328.7 L401.1 329.0 L401.6 329.4 L402.1 329.7 L402.6 330.0 L403.1 330.3 L403.6 330.3 L404.1 330.4 L404.6 330.3 L405.1 330.2 L405.6 330.1 L406.1 330.3 L406.6 330.4 L407.1 330.6 L407.6 330.7 L408.1 330.6 L408.6 330.6 L409.1 330.5 L409.6 330.5 L410.1 330.4 L410.6 330.4 L411.1 330.3 L411.6 330.2 L412.1 330.1 L412.6 330.1 L413.1 330.0 L413.6 329.8 L414.1 329.2 L414.6 327.7 L415.1 324.9 L415.6 320.9 L416.1 317.0 L416.1 316.7 L416.4 316.2 L416.6 316.7 L416.6 317.0 L417.1 320.6 L417.6 325.3 L418.1 328.9 L418.6 331.1 L419.1 332.2 L419.6 332.7 L420.1 333.1 L420.6 333.4 L421.1 333.6 L421.6 333.8 L422.1 333.7 L422.6 333.7 L423.1 333.5 L423.6 333.2 L424.1 332.9 L424.6 333.0 L425.1 333.2 L425.6 333.4 L426.1 333.9 L426.6 334.0 L427.1 334.4 L427.6 334.9 L428.1 335.3 L428.6 335.8 L429.1 336.3 L429.6 336.5 L430.1 336.9 L430.6 337.2 L431.1 337.4 L431.6 337.9 L432.1 338.0 L432.6 338.3 L433.1 338.6 L433.6 339.1 L434.1 339.7 L434.6 340.0 L435.1 340.5 L435.6 340.6 L436.1 340.8 L436.6 341.1 L437.1 341.4 L437.6 341.7 L438.1 342.0 L438.6 342.0 L439.1 342.1 L439.6 341.8 L440.1 341.6 L440.6 341.3 L441.1 340.9 L441.6 340.7 L442.1 341.1 L442.6 341.8 L443.1 343.0 L443.6 343.9 L444.1 344.3 L444.6 344.5 L445.1 344.5 L445.6 344.7 L446.1 344.8 L446.6 344.9 L447.1 344.9 L447.6 344.9 L448.1 345.0 L448.6 345.0 L449.1 345.0 L449.6 345.0 L450.1 344.8 L450.6 344.5 L451.1 344.4 L451.6 344.2 L452.1 343.8 L452.6 343.8 L453.1 343.6 L453.6 343.6 L454.1 343.8 L454.6 344.1 L455.1 344.6 L455.6 345.1 L456.1 345.8 L456.6 346.3 L457.1 346.6 L457.6 347.0 L458.1 347.2 L458.6 347.4 L459.1 347.7 L459.6 347.8 L460.1 348.1 L460.6 348.4 L461.1 348.5 L461.6 348.7 L462.1 348.9 L462.6 349.0 L463.1 349.1 L463.6 349.4 L464.1 349.6 L464.6 350.1 L465.1 350.5 L465.6 350.7 L466.1 350.7 L466.6 350.8 L467.1 351.0 L467.6 351.3 L468.1 351.8 L468.6 351.8 L469.1 352.1 L469.6 352.1 L470.1 352.1 L470.6 352.3 L471.1 352.1 L471.6 352.4 L472.1 352.5 L472.6 352.7 L473.1 352.8 L473.6 352.5 L474.1 352.5 L474.6 352.4 L475.1 352.3 L475.6 352.3 L476.1 352.6 L476.6 352.7 L477.1 353.0 L477.6 353.4 L478.1 353.4 L478.6 353.5 L479.1 353.7 L479.6 353.7 L480.1 353.8 L480.6 353.8 L481.1 353.7 L481.6 353.8 L482.1 353.8 L482.6 354.0 L483.1 354.2 L483.6 354.2 L484.1 354.4 L484.6 354.4 L485.1 354.7 L485.6 354.7 L486.1 355.0 L486.6 355.5 L487.1 356.0 L487.6 356.6 L488.1 357.1 L488.6 357.5 L489.1 357.9 L489.6 358.4 L490.1 358.7 L490.6 359.1 L491.1 359.5 L491.6 360.1 L492.1 360.8 L492.6 361.2 L493.1 361.5 L493.6 361.9 L494.1 362.3 L494.6 362.5 L495.1 362.8 L495.6 362.9 L496.1 363.0 L496.6 363.0 L497.1 363.3 L497.6 363.5 L498.1 363.5 L498.6 363.7 L499.1 363.6 L499.6 363.8 L500.1 364.0 L500.6 363.9 L501.1 363.9 L501.6 363.6 L502.1 363.6 L502.6 363.7 L503.1 363.9 L503.6 364.0 L504.1 364.2 L504.6 364.4 L505.1 364.5 L505.6 364.7 L506.1 364.7 L506.6 364.8 L507.1 365.1 L507.6 365.3 L508.1 365.5 L508.6 365.5 L509.1 365.6 L509.6 365.7 L510.1 366.0 L510.6 366.3 L511.1 366.5 L511.6 366.9 L512.1 366.9 L512.6 366.9 L513.1 367.0 L513.6 367.2 L514.1 367.5 L514.6 368.0 L515.1 368.4 L515.6 368.5 L516.1 368.7 L516.6 368.9 L517.1 368.8 L517.6 369.0 L518.1 369.3 L518.6 369.4 L519.1 369.7 L519.6 370.0 L520.1 370.0 L520.6 370.0 L521.1 370.2 L521.6 370.3 L522.1 370.5 L522.6 370.9 L523.1 371.1 L523.6 371.0 L524.1 371.1 L524.6 371.1 L525.1 371.2 L525.6 371.4 L526.1 371.4 L526.6 371.5 L527.1 371.4 L527.6 371.3 L528.1 371.5 L528.6 371.6 L529.1 371.6 L529.6 371.9 L530.1 371.8 L530.6 371.8 L531.1 371.8 L531.6 371.8 L532.1 371.8 L532.6 371.8 L533.1 372.0 L533.6 372.1 L534.1 372.2 L534.6 372.5 L535.1 372.5 L535.6 372.3 L536.1 372.5 L536.6 372.7 L537.1 372.9 L537.6 373.0 L538.1 373.1 L538.6 373.1 L539.1 373.4 L539.6 373.7 L540.1 374.0 L540.6 374.3 L541.1 374.4 L541.6 374.5 L542.1 374.6 L542.6 374.6 L543.1 374.8 L543.6 375.0 L544.1 375.0 L544.6 375.2 L545.1 375.4 L545.6 375.5 L546.1 375.9 L546.6 376.1 L547.1 375.9 L547.6 376.0 L548.1 375.9 L548.6 375.8 L549.1 376.0 L549.6 376.3 L550.1 376.6 L550.6 376.6 L551.1 376.9 L551.6 377.0 L552.1 377.2 L552.6 377.5 L553.1 377.3 L553.6 377.4 L554.1 377.5 L554.6 377.7 L555.1 378.1 L555.6 378.1 L556.1 378.2 L556.6 378.2 L557.1 378.2 L557.6 378.5 L558.1 378.8 L558.6 379.1 L559.1 379.4 L559.6 379.5 L560.1 379.7 L560.6 379.8 L561.1 379.9 L561.6 380.2 L562.1 380.4 L562.6 380.6 L563.1 381.0 L563.6 381.2 L564.1 381.4 L564.6 381.8 L565.1 381.9 L565.6 382.0 L566.1 382.0 L566.6 381.6 L567.1 381.2 L567.6 380.9 L568.1 381.0 L568.6 381.1 L569.1 381.2 L569.6 381.2 L570.1 381.0 L570.6 380.9 L571.1 381.0 L571.6 380.9 L572.1 380.8 L572.6 380.7 L573.1 380.4 L573.6 380.4 L574.1 380.5 L574.6 380.6 L575.1 381.0 L575.6 380.9 L576.1 380.9 L576.6 381.0 L577.1 380.8 L577.6 381.0 L578.1 381.2 L578.6 381.3 L579.1 381.5 L579.6 381.6 L580.1 381.6 L580.6 381.7 L581.1 381.9 L581.6 381.9 L582.1 382.2 L582.6 382.3 L583.1 382.4 L583.6 382.5 L584.1 382.5 L584.6 382.6 L585.1 382.9 L585.6 383.0 L586.1 383.2 L586.6 383.2 L587.1 383.3 L587.6 383.6 L588.1 383.7 L588.6 384.0 L589.1 383.9 L589.6 384.2 L590.1 384.2 L590.6 384.4 L591.1 384.7 L591.6 384.8 L592.1 385.0 L592.6 385.1 L593.1 385.1 L593.6 385.3 L594.1 385.3 L594.6 385.6 L595.1 386.0 L595.6 386.2 L596.1 386.4 L596.6 386.3 L597.1 386.3 L597.6 386.4 L598.1 386.5 L598.6 386.8 L599.1 386.8 L599.6 386.9 L600.1 387.1 L600.6 387.1 L601.1 387.3 L601.6 387.4 L602.1 387.3 L602.6 387.5 L603.1 387.5 L603.6 387.5 L604.1 387.7 L604.6 387.8 L605.1 388.0 L605.6 388.0 L606.1 388.1 L606.6 388.3 L607.1 388.4 L607.6 388.5 L608.1 388.7 L608.6 388.7 L609.1 389.0 L609.6 389.1 L610.1 389.4 L610.6 389.5 L611.1 389.3 L611.6 389.2 L612.1 389.0 L612.6 389.0 L613.1 389.3 L613.6 389.4 L614.1 389.8 L614.6 389.8 L615.1 390.0 L615.6 390.2 L616.1 390.2 L616.6 390.4 L617.1 390.3 L617.6 390.4 L618.1 390.4 L618.6 390.4 L619.1 390.5 L619.6 390.4 L620.1 390.5 L620.6 390.7 L621.1 390.6 L621.6 390.9 L622.1 390.8 L622.6 390.7 L623.1 391.1 L623.6 391.1 L624.1 391.3 L624.6 391.7 L625.1 391.6 L625.6 391.6 L626.1 391.8 L626.6 391.8 L627.1 391.9 L627.6 392.0 L628.1 392.0 L628.6 392.1 L629.1 392.2 L629.6 392.4 L630.1 392.6 L630.6 392.7 L631.1 392.6 L631.6 392.6 L632.1 392.8 L632.6 392.8 L633.1 393.1 L633.6 393.1 L634.1 393.2 L634.6 393.3 L635.1 393.3 L635.6 393.6 L636.1 393.2 L636.6 393.4 L637.1 393.5 L637.6 393.5 L638.1 393.8 L638.6 393.9 L639.1 394.0 L639.6 394.3 L640.1 394.2 L640.6 394.4 L641.1 394.3 L641.6 394.0 L642.1 394.2 L642.6 394.3 L643.1 394.5 L643.6 394.7 L644.1 394.6 L644.6 394.6 L645.1 394.4 L645.6 394.5 L646.1 394.9 L646.6 395.0 L647.1 395.3 L647.6 395.3 L648.1 395.4 L648.6 395.5 L649.1 395.6 L649.6 395.6 L650.1 395.8 L650.6 395.8" stroke="#962032" stroke-width="2.5"/>
<path d="M75.4 422.5 L75.9 422.5 L76.4 422.6 L76.9 422.5 L77.4 422.5 L77.9 422.6 L78.4 422.4 L78.9 422.5 L79.4 422.5 L79.9 422.6 L80.4 422.7 L80.9 422.6 L81.4 422.6 L81.9 422.4 L82.4 422.3 L82.9 422.2 L83.4 421.9 L83.9 421.8 L84.4 421.5 L84.9 421.2 L85.4 420.8 L85.9 420.2 L86.4 419.6 L86.9 418.6 L87.4 417.6 L87.9 416.3 L88.4 414.8 L88.9 412.9 L89.4 410.2 L89.9 406.5 L90.4 400.2 L90.9 388.3 L91.4 364.3 L91.9 320.2 L92.4 253.8 L92.9 183.0 L93.0 168.2 L93.3 157.8 L93.4 159.5 L93.5 168.0 L93.9 208.6 L94.4 281.4 L94.9 339.0 L95.4 373.7 L95.9 391.4 L96.4 400.1 L96.9 404.6 L97.4 407.4 L97.9 409.2 L98.4 410.4 L98.9 411.4 L99.4 412.1 L99.9 412.8 L100.4 413.4 L100.9 413.7 L101.4 414.0 L101.9 414.4 L102.4 414.7 L102.9 415.0 L103.4 415.2 L103.9 415.4 L104.4 415.3 L104.9 415.4 L105.4 415.5 L105.9 415.4 L106.4 415.4 L106.9 415.6 L107.4 415.5 L107.9 415.6 L108.4 415.7 L108.9 415.5 L109.4 415.6 L109.9 415.3 L110.4 415.0 L110.9 414.9 L111.4 414.5 L111.9 414.4 L112.4 414.2 L112.9 413.9 L113.4 413.6 L113.9 413.2 L114.4 413.1 L114.9 412.8 L115.4 412.4 L115.9 411.7 L116.4 410.7 L116.9 409.6 L117.4 408.7 L117.9 407.6 L118.4 406.5 L118.9 405.6 L119.4 404.6 L119.9 403.7 L120.4 402.7 L120.9 401.5 L121.4 400.0 L121.9 397.8 L122.4 393.7 L122.9 385.1 L123.4 369.6 L123.9 348.8 L124.2 340.2 L124.4 336.7 L124.7 339.8 L124.9 347.9 L125.4 367.9 L125.9 382.6 L126.4 390.3 L126.9 393.7 L127.4 395.3 L127.9 396.0 L128.4 396.4 L128.9 396.9 L129.4 397.5 L129.9 398.6 L130.4 399.7 L130.9 400.3 L131.4 400.4 L131.9 400.5 L132.4 400.5 L132.9 400.4 L133.4 400.4 L133.9 400.3 L134.4 400.1 L134.9 399.8 L135.4 399.5 L135.9 399.2 L136.4 399.0 L136.9 398.8 L137.4 398.7 L137.9 398.6 L138.4 398.4 L138.9 398.3 L139.4 398.2 L139.9 397.9 L140.4 397.6 L140.9 397.4 L141.4 397.2 L141.9 397.0 L142.4 396.8 L142.9 396.6 L143.4 396.5 L143.9 396.2 L144.4 396.1 L144.9 395.9 L145.4 395.6 L145.9 395.4 L146.4 395.1 L146.9 394.9 L147.4 394.5 L147.9 394.2 L148.4 393.9 L148.9 393.6 L149.4 393.3 L149.9 392.9 L150.4 392.5 L150.9 392.1 L151.4 391.7 L151.9 391.2 L152.4 390.7 L152.9 390.3 L153.4 389.8 L153.9 389.1 L154.4 388.5 L154.9 387.8 L155.4 386.8 L155.9 385.9 L156.4 384.6 L156.9 383.3 L157.4 381.4 L157.9 378.0 L158.4 371.1 L158.9 356.7 L159.4 333.0 L159.9 307.4 L159.9 305.6 L160.2 301.1 L160.4 303.6 L160.4 305.0 L160.9 325.7 L161.4 349.6 L161.9 364.5 L162.4 371.5 L162.9 374.1 L163.4 375.1 L163.9 375.3 L164.4 375.1 L164.9 374.8 L165.4 374.1 L165.9 373.6 L166.4 372.9 L166.9 372.7 L167.4 372.7 L167.9 373.0 L168.4 373.4 L168.9 373.5 L169.4 374.0 L169.9 374.1 L170.4 374.4 L170.9 374.7 L171.4 374.6 L171.9 374.9 L172.4 375.2 L172.9 375.6 L173.4 376.0 L173.9 376.3 L174.4 376.7 L174.9 376.9 L175.4 377.1 L175.9 377.2 L176.4 377.1 L176.9 376.9 L177.4 376.5 L177.9 375.9 L178.4 374.9 L178.9 373.9 L179.4 372.9 L179.9 371.8 L180.4 371.0 L180.9 369.7 L181.4 367.5 L181.9 363.4 L182.4 354.9 L182.9 337.9 L183.4 311.2 L183.9 283.7 L183.9 281.8 L184.2 277.2 L184.4 280.1 L184.4 281.6 L184.9 304.7 L185.4 332.5 L185.9 351.2 L186.4 360.8 L186.9 365.0 L187.4 367.0 L187.9 367.8 L188.4 368.3 L188.9 368.5 L189.4 368.4 L189.9 368.1 L190.4 367.5 L190.9 366.7 L191.4 365.3 L191.9 363.2 L192.4 358.9 L192.9 349.8 L193.4 332.8 L193.9 307.6 L194.3 286.6 L194.4 285.2 L194.6 282.4 L194.8 286.3 L194.9 287.9 L195.4 311.9 L195.9 335.2 L196.4 349.8 L196.9 357.0 L197.4 360.3 L197.9 361.9 L198.4 362.8 L198.9 363.7 L199.4 364.2 L199.9 364.5 L200.4 364.8 L200.9 364.9 L201.4 365.1 L201.9 365.4 L202.4 365.7 L202.9 366.0 L203.4 366.2 L203.9 366.2 L204.4 366.2 L204.9 366.1 L205.4 366.0 L205.9 366.0 L206.4 366.0 L206.9 365.8 L207.4 365.7 L207.9 365.4 L208.4 365.1 L208.9 365.0 L209.4 364.8 L209.9 364.5 L210.4 364.2 L210.9 363.9 L211.4 363.5 L211.9 363.1 L212.4 362.8 L212.9 362.5 L213.4 362.1 L213.9 361.8 L214.4 361.3 L214.9 361.0 L215.4 360.7 L215.9 360.2 L216.4 359.6 L216.9 359.1 L217.4 358.6 L217.9 358.1 L218.4 358.0 L218.9 357.6 L219.4 357.4 L219.9 356.9 L220.4 356.4 L220.9 355.8 L221.4 355.3 L221.9 354.9 L222.4 354.5 L222.9 354.0 L223.4 353.4 L223.9 352.8 L224.4 351.6 L224.9 349.2 L225.4 344.6 L225.9 337.7 L226.2 333.5 L226.4 332.5 L226.5 332.3 L226.8 333.4 L226.9 335.0 L227.4 341.8 L227.9 347.3 L228.4 350.3 L228.9 351.6 L229.4 352.1 L229.9 352.4 L230.4 352.4 L230.9 352.3 L231.4 352.1 L231.9 351.7 L232.4 351.2 L232.9 350.5 L233.4 349.8 L233.9 349.2 L234.4 348.5 L234.9 348.1 L235.4 347.7 L235.9 347.0 L236.4 346.7 L236.9 346.1 L237.4 345.7 L237.9 345.4 L238.4 345.1 L238.9 344.8 L239.4 344.4 L239.9 344.1 L240.4 344.0 L240.9 343.8 L241.4 343.7 L241.9 343.5 L242.4 343.5 L242.9 343.6 L243.4 343.4 L243.9 343.3 L244.4 343.1 L244.9 342.9 L245.4 342.8 L245.9 342.7 L246.4 342.6 L246.9 342.7 L247.4 342.6 L247.9 342.4 L248.4 342.0 L248.9 341.7 L249.4 341.4 L249.9 341.3 L250.4 341.1 L250.9 340.7 L251.4 340.4 L251.9 339.9 L252.4 339.5 L252.9 338.9 L253.4 338.3 L253.9 337.8 L254.4 337.2 L254.9 336.8 L255.4 336.1 L255.9 335.7 L256.4 335.2 L256.9 334.5 L257.4 333.8 L257.9 333.0 L258.4 332.1 L258.9 331.3 L259.4 330.5 L259.9 329.7 L260.4 329.3 L260.9 328.9 L261.4 328.7 L261.9 328.6 L262.4 328.8 L262.9 329.0 L263.4 329.3 L263.9 330.0 L264.4 330.5 L264.9 331.0 L265.4 331.5 L265.9 331.9 L266.4 332.3 L266.9 332.6 L267.4 333.2 L267.9 333.5 L268.4 333.9 L268.9 334.4 L269.4 334.8 L269.9 335.3 L270.4 335.9 L270.9 336.2 L271.4 336.7 L271.9 337.0 L272.4 337.1 L272.9 337.5 L273.4 337.8 L273.9 338.1 L274.4 338.6 L274.9 339.0 L275.4 339.3 L275.9 339.7 L276.4 339.8 L276.9 340.2 L277.4 340.6 L277.9 341.0 L278.4 341.4 L278.9 341.8 L279.4 342.0 L279.9 342.1 L280.4 342.3 L280.9 342.3 L281.4 342.3 L281.9 342.2 L282.4 342.1 L282.9 342.0 L283.4 341.7 L283.9 341.5 L284.4 340.7 L284.9 339.7 L285.4 338.1 L285.9 335.2 L286.4 330.5 L286.9 322.6 L287.4 311.1 L287.9 297.0 L288.4 284.7 L288.5 283.1 L288.8 281.4 L288.9 281.9 L289.0 282.9 L289.4 290.7 L289.9 304.3 L290.4 316.6 L290.9 325.4 L291.4 330.8 L291.9 333.7 L292.4 335.2 L292.9 336.1 L293.4 336.8 L293.9 337.2 L294.4 337.5 L294.9 337.7 L295.4 337.8 L295.9 338.1 L296.4 338.2 L296.9 338.3 L297.4 338.4 L297.9 338.4 L298.4 338.5 L298.9 338.7 L299.4 339.3 L299.9 339.9 L300.4 340.7 L300.9 341.5 L301.4 342.2 L301.9 342.7 L302.4 342.7 L302.9 342.7 L303.4 342.6 L303.9 342.6 L304.4 342.7 L304.9 342.7 L305.4 342.6 L305.9 342.5 L306.4 342.3 L306.9 342.3 L307.4 342.4 L307.9 342.3 L308.4 342.3 L308.9 342.1 L309.4 342.0 L309.9 341.8 L310.4 341.8 L310.9 341.5 L311.4 341.3 L311.9 341.0 L312.4 340.7 L312.9 340.4 L313.4 339.9 L313.9 339.6 L314.4 339.1 L314.9 338.9 L315.4 338.7 L315.9 338.5 L316.4 338.6 L316.9 338.7 L317.4 338.8 L317.9 339.1 L318.4 339.2 L318.9 339.3 L319.4 339.5 L319.9 339.7 L320.4 340.0 L320.9 340.1 L321.4 340.2 L321.9 340.1 L322.4 339.9 L322.9 339.9 L323.4 340.0 L323.9 339.8 L324.4 339.8 L324.9 339.8 L325.4 339.7 L325.9 339.7 L326.4 339.6 L326.9 339.6 L327.4 339.3 L327.9 339.3 L328.4 339.0 L328.9 338.8 L329.4 338.7 L329.9 338.4 L330.4 338.1 L330.9 337.5 L331.4 336.2 L331.9 333.8 L332.4 329.8 L332.9 324.8 L333.2 322.0 L333.4 321.4 L333.5 321.2 L333.8 321.9 L333.9 322.9 L334.4 327.8 L334.9 332.4 L335.4 335.3 L335.9 336.9 L336.4 337.6 L336.9 338.0 L337.4 338.2 L337.9 338.3 L338.4 338.3 L338.9 338.3 L339.4 338.2 L339.9 338.2 L340.4 338.3 L340.9 338.3 L341.4 338.4 L341.9 338.3 L342.4 338.1 L342.9 338.0 L343.4 337.7 L343.9 337.4 L344.4 337.4 L344.9 337.2 L345.4 337.2 L345.9 337.2 L346.4 337.2 L346.9 337.3 L347.4 337.5 L347.9 337.5 L348.4 337.5 L348.9 337.5 L349.4 337.4 L349.9 337.6 L350.4 337.5 L350.9 337.6 L351.4 337.7 L351.9 337.7 L352.4 337.8 L352.9 337.6 L353.4 337.7 L353.9 337.7 L354.4 337.8 L354.9 337.9 L355.4 337.9 L355.9 337.8 L356.4 337.7 L356.9 337.5 L357.4 337.2 L357.9 336.8 L358.4 336.5 L358.9 336.0 L359.4 335.6 L359.9 335.2 L360.4 334.7 L360.9 334.4 L361.4 334.3 L361.9 334.0 L362.4 333.8 L362.9 333.8 L363.4 333.4 L363.9 333.4 L364.4 333.3 L364.9 333.1 L365.4 333.1 L365.9 333.1 L366.4 333.1 L366.9 333.0 L367.4 333.0 L367.9 332.9 L368.4 332.9 L368.9 332.8 L369.4 333.0 L369.9 333.1 L370.4 333.3 L370.9 333.4 L371.4 333.6 L371.9 333.8 L372.4 334.0 L372.9 334.5 L373.4 335.0 L373.9 335.5 L374.4 335.8 L374.9 336.0 L375.4 336.1 L375.9 336.4 L376.4 336.8 L376.9 337.3 L377.4 337.7 L377.9 338.1 L378.4 338.7 L378.9 339.1 L379.4 339.5 L379.9 339.8 L380.4 340.0 L380.9 340.0 L381.4 340.1 L381.9 340.0 L382.4 339.6 L382.9 338.6 L383.4 336.3 L383.9 332.4 L384.4 327.5 L384.8 324.7 L384.9 324.2 L385.0 324.1 L385.2 324.9 L385.4 326.0 L385.9 331.2 L386.4 336.1 L386.9 339.3 L387.4 341.1 L387.9 342.1 L388.4 342.7 L388.9 343.1 L389.4 343.5 L389.9 343.8 L390.4 343.8 L390.9 344.0 L391.4 344.0 L391.9 344.1 L392.4 344.4 L392.9 344.5 L393.4 344.8 L393.9 345.0 L394.4 345.0 L394.9 345.1 L395.4 345.3 L395.9 345.5 L396.4 345.7 L396.9 345.9 L397.4 346.1 L397.9 346.2 L398.4 346.6 L398.9 346.9 L399.4 347.3 L399.9 347.7 L400.4 348.0 L400.9 348.2 L401.4 348.6 L401.9 349.0 L402.4 349.5 L402.9 349.9 L403.4 350.2 L403.9 350.5 L404.4 350.6 L404.9 350.8 L405.4 350.9 L405.9 351.0 L406.4 351.2 L406.9 351.3 L407.4 351.5 L407.9 351.4 L408.4 351.4 L408.9 351.4 L409.4 351.5 L409.9 351.5 L410.4 351.4 L410.9 351.4 L411.4 351.3 L411.9 351.1 L412.4 351.0 L412.9 350.8 L413.4 350.5 L413.9 349.9 L414.4 348.8 L414.9 346.5 L415.4 342.9 L415.9 338.3 L416.2 335.8 L416.4 335.2 L416.5 335.1 L416.8 335.7 L416.9 336.6 L417.4 341.0 L417.9 345.1 L418.4 347.8 L418.9 349.2 L419.4 350.0 L419.9 350.2 L420.4 350.4 L420.9 350.7 L421.4 350.6 L421.9 350.7 L422.4 350.8 L422.9 350.9 L423.4 351.1 L423.9 351.4 L424.4 351.7 L424.9 351.9 L425.4 352.1 L425.9 352.6 L426.4 352.7 L426.9 352.9 L427.4 353.1 L427.9 353.2 L428.4 353.6 L428.9 353.7 L429.4 353.9 L429.9 354.1 L430.4 354.1 L430.9 354.4 L431.4 354.6 L431.9 354.8 L432.4 354.9 L432.9 355.2 L433.4 355.4 L433.9 355.6 L434.4 355.8 L434.9 355.8 L435.4 356.0 L435.9 356.1 L436.4 356.1 L436.9 355.9 L437.4 355.8 L437.9 355.6 L438.4 355.5 L438.9 355.6 L439.4 355.6 L439.9 355.7 L440.4 355.7 L440.9 355.5 L441.4 355.5 L441.9 355.6 L442.4 355.6 L442.9 355.8 L443.4 355.8 L443.9 355.9 L444.4 356.0 L444.9 356.0 L445.4 356.1 L445.9 356.1 L446.4 356.3 L446.9 356.3 L447.4 356.3 L447.9 356.4 L448.4 356.4 L448.9 356.5 L449.4 356.4 L449.9 356.4 L450.4 356.5 L450.9 356.6 L451.4 356.6 L451.9 356.6 L452.4 356.7 L452.9 356.8 L453.4 357.0 L453.9 357.2 L454.4 357.4 L454.9 357.3 L455.4 357.5 L455.9 357.5 L456.4 357.6 L456.9 357.9 L457.4 358.0 L457.9 358.2 L458.4 358.4 L458.9 358.5 L459.4 358.7 L459.9 358.9 L460.4 359.2 L460.9 359.6 L461.4 359.7 L461.9 359.9 L462.4 360.0 L462.9 360.2 L463.4 360.4 L463.9 360.6 L464.4 360.7 L464.9 361.0 L465.4 361.1 L465.9 361.3 L466.4 361.4 L466.9 361.4 L467.4 361.6 L467.9 361.7 L468.4 361.7 L468.9 361.8 L469.4 361.9 L469.9 362.0 L470.4 362.3 L470.9 362.3 L471.4 362.3 L471.9 362.4 L472.4 362.3 L472.9 362.3 L473.4 362.4 L473.9 362.4 L474.4 362.4 L474.9 362.5 L475.4 362.5 L475.9 362.6 L476.4 362.8 L476.9 362.8 L477.4 363.0 L477.9 362.9 L478.4 362.8 L478.9 363.0 L479.4 363.0 L479.9 363.1 L480.4 363.2 L480.9 363.1 L481.4 363.0 L481.9 363.1 L482.4 363.3 L482.9 363.5 L483.4 363.7 L483.9 363.7 L484.4 363.7 L484.9 363.8 L485.4 363.8 L485.9 364.0 L486.4 364.3 L486.9 364.6 L487.4 364.9 L487.9 365.3 L488.4 365.7 L488.9 366.0 L489.4 366.6 L489.9 366.8 L490.4 367.1 L490.9 367.5 L491.4 367.8 L491.9 368.2 L492.4 368.6 L492.9 369.2 L493.4 369.7 L493.9 370.3 L494.4 370.7 L494.9 370.6 L495.4 371.0 L495.9 371.1 L496.4 371.6 L496.9 372.1 L497.4 372.4 L497.9 372.6 L498.4 372.8 L498.9 373.2 L499.4 373.3 L499.9 373.7 L500.4 374.0 L500.9 374.1 L501.4 374.4 L501.9 374.4 L502.4 374.6 L502.9 374.7 L503.4 374.7 L503.9 374.9 L504.4 375.0 L504.9 375.2 L505.4 375.3 L505.9 375.2 L506.4 375.3 L506.9 375.2 L507.4 375.2 L507.9 375.2 L508.4 375.0 L508.9 375.1 L509.4 375.1 L509.9 375.1 L510.4 375.2 L510.9 375.3 L511.4 375.3 L511.9 375.4 L512.4 375.5 L512.9 375.7 L513.4 375.9 L513.9 376.3 L514.4 376.6 L514.9 377.1 L515.4 377.2 L515.9 377.4 L516.4 377.8 L516.9 377.9 L517.4 378.3 L517.9 378.5 L518.4 378.7 L518.9 378.8 L519.4 379.1 L519.9 379.3 L520.4 379.7 L520.9 380.1 L521.4 380.3 L521.9 380.5 L522.4 380.8 L522.9 381.0 L523.4 381.3 L523.9 381.7 L524.4 381.8 L524.9 382.3 L525.4 382.4 L525.9 382.5 L526.4 382.7 L526.9 382.5 L527.4 382.6 L527.9 382.7 L528.4 382.9 L528.9 383.1 L529.4 383.2 L529.9 383.1 L530.4 383.3 L530.9 383.1 L531.4 383.2 L531.9 383.2 L532.4 382.8 L532.9 382.8 L533.4 382.7 L533.9 382.6 L534.4 382.6 L534.9 382.6 L535.4 382.4 L535.9 382.4 L536.4 382.2 L536.9 382.1 L537.4 382.0 L537.9 381.9 L538.4 382.0 L538.9 382.1 L539.4 382.0 L539.9 382.1 L540.4 382.2 L540.9 382.2 L541.4 382.4 L541.9 382.4 L542.4 382.6 L542.9 382.7 L543.4 382.9 L543.9 383.0 L544.4 383.0 L544.9 383.3 L545.4 383.3 L545.9 383.4 L546.4 383.5 L546.9 383.5 L547.4 383.6 L547.9 383.7 L548.4 383.8 L548.9 383.8 L549.4 384.1 L549.9 384.3 L550.4 384.5 L550.9 384.7 L551.4 384.7 L551.9 384.5 L552.4 384.5 L552.9 384.4 L553.4 384.3 L553.9 384.6 L554.4 384.7 L554.9 384.9 L555.4 384.8 L555.9 384.8 L556.4 384.8 L556.9 385.0 L557.4 385.0 L557.9 385.0 L558.4 385.1 L558.9 385.1 L559.4 385.1 L559.9 385.1 L560.4 385.1 L560.9 385.1 L561.4 385.2 L561.9 385.4 L562.4 385.6 L562.9 385.9 L563.4 386.1 L563.9 386.3 L564.4 386.6 L564.9 386.8 L565.4 386.9 L565.9 386.9 L566.4 387.0 L566.9 387.1 L567.4 387.1 L567.9 387.3 L568.4 387.4 L568.9 387.3 L569.4 387.4 L569.9 387.4 L570.4 387.3 L570.9 387.3 L571.4 387.3 L571.9 387.3 L572.4 387.5 L572.9 387.6 L573.4 387.6 L573.9 387.8 L574.4 387.8 L574.9 388.0 L575.4 388.1 L575.9 388.0 L576.4 388.0 L576.9 388.1 L577.4 388.0 L577.9 388.3 L578.4 388.4 L578.9 388.4 L579.4 388.6 L579.9 388.6 L580.4 388.8 L580.9 389.0 L581.4 389.2 L581.9 389.2 L582.4 389.3 L582.9 389.4 L583.4 389.4 L583.9 389.4 L584.4 389.6 L584.9 389.6 L585.4 389.7 L585.9 389.8 L586.4 389.9 L586.9 390.0 L587.4 390.1 L587.9 390.3 L588.4 390.5 L588.9 390.6 L589.4 390.8 L589.9 390.8 L590.4 390.9 L590.9 391.0 L591.4 391.1 L591.9 391.2 L592.4 391.2 L592.9 391.4 L593.4 391.3 L593.9 391.5 L594.4 391.7 L594.9 391.8 L595.4 392.0 L595.9 392.1 L596.4 392.2 L596.9 392.4 L597.4 392.4 L597.9 392.6 L598.4 392.7 L598.9 392.7 L599.4 393.0 L599.9 393.2 L600.4 393.1 L600.9 393.3 L601.4 393.3 L601.9 393.4 L602.4 393.5 L602.9 393.7 L603.4 393.7 L603.9 393.7 L604.4 393.8 L604.9 394.0 L605.4 394.1 L605.9 394.2 L606.4 394.4 L606.9 394.5 L607.4 394.7 L607.9 394.9 L608.4 395.0 L608.9 395.0 L609.4 395.1 L609.9 395.1 L610.4 395.2 L610.9 395.3 L611.4 395.3 L611.9 395.5 L612.4 395.7 L612.9 395.8 L613.4 396.0 L613.9 395.9 L614.4 396.0 L614.9 396.1 L615.4 396.1 L615.9 396.4 L616.4 396.4 L616.9 396.6 L617.4 396.7 L617.9 396.7 L618.4 396.9 L618.9 396.9 L619.4 397.1 L619.9 397.2 L620.4 397.1 L620.9 397.3 L621.4 397.4 L621.9 397.3 L622.4 397.6 L622.9 397.8 L623.4 398.0 L623.9 398.3 L624.4 398.4 L624.9 398.3 L625.4 398.4 L625.9 398.5 L626.4 398.6 L626.9 398.8 L627.4 398.7 L627.9 398.7 L628.4 398.8 L628.9 398.8 L629.4 399.0 L629.9 399.2 L630.4 399.3 L630.9 399.5 L631.4 399.5 L631.9 399.6 L632.4 399.8 L632.9 399.9 L633.4 400.2 L633.9 400.2 L634.4 400.3 L634.9 400.3 L635.4 400.4 L635.9 400.6 L636.4 400.6 L636.9 400.7 L637.4 400.5 L637.9 400.7 L638.4 401.0 L638.9 401.2 L639.4 401.2 L639.9 401.2 L640.4 401.3 L640.9 401.3 L641.4 401.7 L641.9 401.7 L642.4 402.0 L642.9 402.1 L643.4 402.2 L643.9 402.4 L644.4 402.4 L644.9 402.6 L645.4 402.5 L645.9 402.7 L646.4 402.8 L646.9 402.9 L647.4 403.2 L647.9 403.2 L648.4 403.3 L648.9 403.2 L649.4 403.3 L649.9 403.5 L650.4 403.6 L650.9 403.7" stroke="#0e8a44" stroke-width="2.9"/>
<path d="M75.4 425.6 L75.9 425.6 L76.4 425.6 L76.9 425.4 L77.4 425.6 L77.9 425.5 L78.4 425.5 L78.9 425.5 L79.4 425.4 L79.9 425.5 L80.4 425.6 L80.9 425.6 L81.4 425.5 L81.9 425.5 L82.4 425.2 L82.9 425.1 L83.4 425.1 L83.9 425.1 L84.4 425.2 L84.9 425.1 L85.4 425.0 L85.9 424.8 L86.4 424.7 L86.9 424.6 L87.4 424.0 L87.9 422.8 L88.4 421.1 L88.9 419.2 L89.4 417.6 L89.9 416.1 L90.4 415.0 L90.9 412.8 L91.4 408.3 L91.9 398.8 L92.4 381.5 L92.9 357.2 L93.3 337.7 L93.4 336.4 L93.6 334.0 L93.8 337.7 L93.9 339.3 L94.4 362.3 L94.9 385.7 L95.4 401.3 L95.9 409.5 L96.4 413.4 L96.9 415.4 L97.4 416.6 L97.9 417.4 L98.4 418.1 L98.9 418.7 L99.4 419.3 L99.9 419.9 L100.4 420.3 L100.9 420.8 L101.4 421.3 L101.9 421.5 L102.4 421.7 L102.9 421.6 L103.4 421.7 L103.9 421.7 L104.4 421.6 L104.9 421.6 L105.4 421.5 L105.9 421.5 L106.4 421.5 L106.9 421.5 L107.4 421.6 L107.9 421.4 L108.4 421.5 L108.9 421.4 L109.4 421.4 L109.9 421.5 L110.4 421.4 L110.9 421.4 L111.4 421.2 L111.9 421.1 L112.4 421.1 L112.9 421.0 L113.4 420.9 L113.9 420.6 L114.4 420.3 L114.9 419.9 L115.4 419.6 L115.9 419.1 L116.4 418.8 L116.9 418.3 L117.4 417.6 L117.9 416.3 L118.4 414.2 L118.9 412.0 L119.4 409.7 L119.9 407.2 L120.4 405.3 L120.9 403.7 L121.4 402.7 L121.9 401.8 L122.4 400.2 L122.9 396.9 L123.4 390.5 L123.9 380.3 L124.3 371.6 L124.4 370.9 L124.6 369.7 L124.8 371.4 L124.9 372.1 L125.4 382.0 L125.9 391.2 L126.4 396.7 L126.9 399.2 L127.4 400.4 L127.9 400.9 L128.4 401.8 L128.9 403.8 L129.4 406.3 L129.9 409.1 L130.4 411.4 L130.9 412.7 L131.4 413.0 L131.9 413.1 L132.4 413.2 L132.9 413.3 L133.4 413.3 L133.9 413.5 L134.4 413.5 L134.9 413.7 L135.4 413.8 L135.9 413.7 L136.4 413.8 L136.9 413.7 L137.4 413.6 L137.9 413.8 L138.4 413.9 L138.9 414.0 L139.4 414.0 L139.9 414.0 L140.4 413.8 L140.9 413.7 L141.4 413.6 L141.9 413.5 L142.4 413.3 L142.9 413.1 L143.4 412.9 L143.9 412.7 L144.4 412.6 L144.9 412.5 L145.4 412.2 L145.9 412.0 L146.4 411.7 L146.9 411.5 L147.4 411.3 L147.9 411.2 L148.4 411.0 L148.9 410.8 L149.4 410.5 L149.9 410.1 L150.4 409.8 L150.9 409.5 L151.4 409.2 L151.9 408.8 L152.4 408.3 L152.9 407.9 L153.4 407.4 L153.9 407.0 L154.4 406.6 L154.9 406.2 L155.4 405.8 L155.9 405.2 L156.4 404.6 L156.9 403.9 L157.4 403.2 L157.9 402.0 L158.4 399.3 L158.9 394.0 L159.4 384.6 L159.9 373.1 L160.1 370.6 L160.3 368.6 L160.4 368.9 L160.6 370.4 L160.9 377.1 L161.4 387.9 L161.9 395.3 L162.4 398.9 L162.9 400.5 L163.4 401.2 L163.9 401.5 L164.4 401.8 L164.9 401.9 L165.4 402.0 L165.9 402.2 L166.4 402.1 L166.9 402.1 L167.4 402.0 L167.9 401.9 L168.4 401.9 L168.9 401.9 L169.4 401.8 L169.9 401.7 L170.4 401.5 L170.9 401.4 L171.4 401.3 L171.9 401.3 L172.4 401.2 L172.9 401.1 L173.4 401.1 L173.9 401.0 L174.4 400.8 L174.9 400.9 L175.4 401.0 L175.9 401.2 L176.4 401.3 L176.9 401.5 L177.4 401.6 L177.9 401.6 L178.4 401.2 L178.9 400.2 L179.4 398.9 L179.9 397.5 L180.4 396.2 L180.9 394.9 L181.4 393.2 L181.9 390.5 L182.4 385.1 L182.9 374.7 L183.4 358.6 L183.9 342.1 L183.9 340.9 L184.2 338.0 L184.4 339.6 L184.4 340.5 L184.9 353.8 L185.4 369.8 L185.9 380.5 L186.4 385.8 L186.9 387.9 L187.4 388.7 L187.9 389.0 L188.4 389.0 L188.9 389.0 L189.4 388.6 L189.9 388.0 L190.4 387.3 L190.9 386.4 L191.4 385.2 L191.9 383.6 L192.4 380.6 L192.9 374.7 L193.4 363.6 L193.9 347.3 L194.3 333.8 L194.4 332.9 L194.6 331.1 L194.8 333.4 L194.9 334.4 L195.4 349.5 L195.9 364.1 L196.4 373.3 L196.9 377.8 L197.4 379.7 L197.9 380.8 L198.4 381.4 L198.9 382.1 L199.4 382.7 L199.9 383.6 L200.4 384.5 L200.9 385.2 L201.4 386.1 L201.9 386.9 L202.4 387.6 L202.9 388.2 L203.4 388.8 L203.9 388.9 L204.4 389.0 L204.9 389.3 L205.4 389.3 L205.9 389.5 L206.4 389.8 L206.9 389.8 L207.4 390.0 L207.9 389.9 L208.4 389.8 L208.9 390.0 L209.4 390.0 L209.9 390.1 L210.4 390.1 L210.9 389.9 L211.4 389.8 L211.9 389.5 L212.4 389.3 L212.9 389.0 L213.4 388.6 L213.9 388.2 L214.4 387.7 L214.9 387.3 L215.4 387.0 L215.9 386.5 L216.4 386.2 L216.9 385.8 L217.4 385.4 L217.9 385.1 L218.4 384.7 L218.9 384.5 L219.4 384.3 L219.9 384.1 L220.4 384.1 L220.9 383.8 L221.4 383.5 L221.9 383.2 L222.4 382.8 L222.9 382.5 L223.4 382.2 L223.9 381.7 L224.4 380.8 L224.9 378.9 L225.4 375.4 L225.9 369.8 L226.3 365.0 L226.4 364.7 L226.6 364.1 L226.8 364.9 L226.9 365.3 L227.4 370.6 L227.9 375.5 L228.4 378.4 L228.9 379.7 L229.4 380.2 L229.9 380.3 L230.4 380.3 L230.9 380.2 L231.4 380.0 L231.9 379.8 L232.4 379.5 L232.9 379.3 L233.4 379.1 L233.9 378.8 L234.4 378.5 L234.9 378.3 L235.4 378.1 L235.9 377.9 L236.4 377.7 L236.9 377.4 L237.4 377.0 L237.9 376.6 L238.4 376.3 L238.9 375.9 L239.4 375.8 L239.9 375.5 L240.4 375.3 L240.9 375.2 L241.4 375.0 L241.9 374.7 L242.4 374.6 L242.9 374.3 L243.4 374.1 L243.9 373.9 L244.4 373.6 L244.9 373.3 L245.4 373.1 L245.9 372.9 L246.4 372.7 L246.9 372.5 L247.4 372.3 L247.9 372.0 L248.4 371.9 L248.9 371.8 L249.4 371.6 L249.9 371.4 L250.4 371.1 L250.9 370.9 L251.4 370.5 L251.9 370.3 L252.4 369.9 L252.9 369.5 L253.4 369.2 L253.9 368.7 L254.4 368.4 L254.9 368.2 L255.4 367.9 L255.9 367.6 L256.4 367.2 L256.9 366.9 L257.4 366.8 L257.9 366.4 L258.4 366.2 L258.9 366.0 L259.4 365.8 L259.9 365.6 L260.4 365.4 L260.9 365.1 L261.4 364.9 L261.9 364.8 L262.4 364.6 L262.9 364.7 L263.4 364.6 L263.9 364.5 L264.4 364.5 L264.9 364.4 L265.4 364.4 L265.9 364.6 L266.4 364.6 L266.9 364.8 L267.4 364.9 L267.9 364.7 L268.4 364.8 L268.9 364.8 L269.4 364.9 L269.9 365.2 L270.4 365.4 L270.9 365.5 L271.4 365.5 L271.9 365.6 L272.4 365.8 L272.9 366.1 L273.4 366.2 L273.9 366.2 L274.4 366.2 L274.9 366.3 L275.4 366.3 L275.9 366.7 L276.4 366.8 L276.9 366.8 L277.4 367.0 L277.9 367.1 L278.4 367.2 L278.9 367.5 L279.4 367.5 L279.9 367.7 L280.4 367.8 L280.9 367.8 L281.4 368.0 L281.9 367.9 L282.4 367.9 L282.9 367.8 L283.4 367.5 L283.9 367.1 L284.4 366.6 L284.9 365.8 L285.4 364.6 L285.9 362.5 L286.4 358.6 L286.9 352.2 L287.4 342.7 L287.9 330.7 L288.4 319.8 L288.6 317.7 L288.8 316.3 L288.9 316.5 L289.1 317.6 L289.4 323.4 L289.9 335.2 L290.4 346.2 L290.9 354.3 L291.4 359.3 L291.9 362.2 L292.4 363.7 L292.9 364.6 L293.4 365.2 L293.9 365.6 L294.4 366.0 L294.9 366.3 L295.4 366.5 L295.9 366.8 L296.4 367.1 L296.9 367.3 L297.4 367.4 L297.9 367.6 L298.4 367.7 L298.9 367.8 L299.4 368.1 L299.9 368.2 L300.4 368.3 L300.9 368.3 L301.4 368.4 L301.9 368.4 L302.4 368.5 L302.9 368.5 L303.4 368.6 L303.9 368.5 L304.4 368.5 L304.9 368.5 L305.4 368.3 L305.9 368.3 L306.4 368.3 L306.9 368.4 L307.4 368.3 L307.9 368.3 L308.4 368.3 L308.9 368.1 L309.4 368.1 L309.9 367.9 L310.4 367.9 L310.9 367.9 L311.4 367.8 L311.9 367.7 L312.4 367.5 L312.9 367.4 L313.4 367.5 L313.9 367.5 L314.4 367.5 L314.9 367.4 L315.4 367.3 L315.9 367.1 L316.4 366.9 L316.9 366.8 L317.4 366.8 L317.9 366.7 L318.4 366.7 L318.9 366.6 L319.4 366.4 L319.9 366.4 L320.4 366.2 L320.9 366.3 L321.4 366.3 L321.9 366.3 L322.4 366.3 L322.9 366.1 L323.4 366.0 L323.9 365.9 L324.4 365.7 L324.9 365.7 L325.4 365.7 L325.9 365.8 L326.4 365.7 L326.9 365.6 L327.4 365.6 L327.9 365.5 L328.4 365.5 L328.9 365.5 L329.4 365.4 L329.9 365.1 L330.4 364.8 L330.9 364.4 L331.4 363.6 L331.9 361.9 L332.4 359.1 L332.9 355.0 L333.4 351.2 L333.4 350.9 L333.7 350.3 L333.9 350.6 L333.9 350.8 L334.4 353.9 L334.9 357.9 L335.4 360.8 L335.9 362.5 L336.4 363.3 L336.9 363.6 L337.4 363.8 L337.9 363.9 L338.4 364.0 L338.9 364.1 L339.4 364.0 L339.9 364.0 L340.4 363.9 L340.9 363.7 L341.4 363.7 L341.9 363.7 L342.4 363.6 L342.9 363.5 L343.4 363.4 L343.9 363.5 L344.4 363.5 L344.9 363.5 L345.4 363.3 L345.9 363.2 L346.4 363.1 L346.9 363.0 L347.4 362.9 L347.9 362.7 L348.4 362.8 L348.9 362.7 L349.4 362.8 L349.9 362.9 L350.4 362.9 L350.9 362.8 L351.4 362.8 L351.9 362.8 L352.4 362.7 L352.9 362.7 L353.4 362.6 L353.9 362.6 L354.4 362.5 L354.9 362.5 L355.4 362.6 L355.9 362.4 L356.4 362.4 L356.9 362.2 L357.4 361.8 L357.9 361.7 L358.4 361.4 L358.9 361.0 L359.4 360.8 L359.9 360.4 L360.4 360.0 L360.9 359.7 L361.4 359.4 L361.9 359.3 L362.4 359.1 L362.9 359.1 L363.4 358.9 L363.9 358.7 L364.4 358.8 L364.9 358.6 L365.4 358.5 L365.9 358.5 L366.4 358.3 L366.9 358.1 L367.4 358.0 L367.9 357.9 L368.4 357.8 L368.9 357.8 L369.4 357.9 L369.9 357.8 L370.4 357.8 L370.9 357.8 L371.4 357.8 L371.9 358.1 L372.4 358.3 L372.9 358.6 L373.4 358.9 L373.9 359.0 L374.4 359.4 L374.9 359.6 L375.4 359.8 L375.9 360.1 L376.4 360.2 L376.9 360.5 L377.4 360.7 L377.9 361.0 L378.4 361.5 L378.9 361.8 L379.4 362.2 L379.9 362.3 L380.4 362.4 L380.9 362.5 L381.4 362.5 L381.9 362.5 L382.4 362.1 L382.9 361.1 L383.4 358.9 L383.9 355.3 L384.4 350.8 L384.8 348.2 L384.9 347.7 L385.0 347.6 L385.2 348.4 L385.4 349.3 L385.9 353.9 L386.4 358.3 L386.9 361.2 L387.4 362.8 L387.9 363.6 L388.4 364.1 L388.9 364.5 L389.4 364.8 L389.9 365.1 L390.4 365.2 L390.9 365.4 L391.4 365.6 L391.9 365.7 L392.4 365.8 L392.9 365.9 L393.4 365.8 L393.9 366.1 L394.4 366.3 L394.9 366.4 L395.4 366.7 L395.9 366.7 L396.4 366.8 L396.9 367.0 L397.4 367.1 L397.9 367.3 L398.4 367.5 L398.9 367.7 L399.4 368.0 L399.9 368.3 L400.4 368.5 L400.9 368.8 L401.4 369.1 L401.9 369.4 L402.4 369.7 L402.9 369.9 L403.4 370.0 L403.9 370.2 L404.4 370.3 L404.9 370.2 L405.4 370.3 L405.9 370.4 L406.4 370.6 L406.9 370.7 L407.4 370.7 L407.9 370.6 L408.4 370.5 L408.9 370.4 L409.4 370.4 L409.9 370.5 L410.4 370.6 L410.9 370.6 L411.4 370.5 L411.9 370.4 L412.4 370.1 L412.9 370.1 L413.4 369.8 L413.9 369.2 L414.4 368.2 L414.9 366.2 L415.4 362.9 L415.9 358.8 L416.2 356.5 L416.4 356.0 L416.5 355.9 L416.8 356.4 L416.9 357.2 L417.4 361.1 L417.9 364.7 L418.4 367.1 L418.9 368.4 L419.4 369.1 L419.9 369.3 L420.4 369.6 L420.9 369.6 L421.4 369.7 L421.9 369.9 L422.4 370.0 L422.9 370.3 L423.4 370.3 L423.9 370.4 L424.4 370.4 L424.9 370.5 L425.4 370.8 L425.9 370.9 L426.4 371.1 L426.9 371.1 L427.4 371.2 L427.9 371.4 L428.4 371.5 L428.9 371.6 L429.4 371.8 L429.9 371.9 L430.4 372.0 L430.9 372.3 L431.4 372.4 L431.9 372.7 L432.4 372.8 L432.9 372.9 L433.4 373.0 L433.9 373.1 L434.4 373.2 L434.9 373.3 L435.4 373.4 L435.9 373.5 L436.4 373.7 L436.9 373.6 L437.4 373.5 L437.9 373.4 L438.4 373.3 L438.9 373.3 L439.4 373.4 L439.9 373.3 L440.4 373.4 L440.9 373.5 L441.4 373.4 L441.9 373.2 L442.4 373.4 L442.9 373.2 L443.4 373.3 L443.9 373.3 L444.4 373.3 L444.9 373.3 L445.4 373.4 L445.9 373.5 L446.4 373.6 L446.9 373.7 L447.4 373.7 L447.9 373.7 L448.4 373.6 L448.9 373.5 L449.4 373.6 L449.9 373.5 L450.4 373.8 L450.9 374.0 L451.4 374.0 L451.9 374.0 L452.4 373.9 L452.9 373.9 L453.4 374.0 L453.9 374.1 L454.4 374.2 L454.9 374.3 L455.4 374.5 L455.9 374.5 L456.4 374.7 L456.9 374.7 L457.4 374.7 L457.9 374.9 L458.4 375.1 L458.9 375.2 L459.4 375.5 L459.9 375.7 L460.4 375.7 L460.9 375.7 L461.4 375.7 L461.9 375.9 L462.4 376.0 L462.9 376.1 L463.4 376.4 L463.9 376.3 L464.4 376.5 L464.9 376.7 L465.4 376.8 L465.9 376.8 L466.4 376.8 L466.9 377.0 L467.4 377.0 L467.9 377.2 L468.4 377.2 L468.9 377.2 L469.4 377.2 L469.9 377.3 L470.4 377.3 L470.9 377.4 L471.4 377.5 L471.9 377.5 L472.4 377.5 L472.9 377.5 L473.4 377.5 L473.9 377.5 L474.4 377.4 L474.9 377.5 L475.4 377.6 L475.9 377.6 L476.4 377.7 L476.9 377.7 L477.4 377.7 L477.9 377.8 L478.4 377.8 L478.9 377.8 L479.4 377.7 L479.9 377.8 L480.4 377.9 L480.9 378.0 L481.4 378.1 L481.9 378.2 L482.4 378.2 L482.9 378.1 L483.4 378.1 L483.9 378.2 L484.4 378.3 L484.9 378.3 L485.4 378.3 L485.9 378.4 L486.4 378.7 L486.9 379.0 L487.4 379.3 L487.9 379.3 L488.4 379.5 L488.9 379.7 L489.4 379.9 L489.9 380.1 L490.4 380.4 L490.9 380.6 L491.4 381.0 L491.9 381.6 L492.4 381.9 L492.9 382.4 L493.4 382.8 L493.9 383.1 L494.4 383.5 L494.9 383.6 L495.4 383.8 L495.9 383.9 L496.4 384.1 L496.9 384.3 L497.4 384.5 L497.9 384.9 L498.4 384.9 L498.9 385.1 L499.4 385.4 L499.9 385.4 L500.4 385.7 L500.9 385.9 L501.4 385.9 L501.9 386.1 L502.4 386.1 L502.9 386.2 L503.4 386.3 L503.9 386.4 L504.4 386.5 L504.9 386.5 L505.4 386.5 L505.9 386.5 L506.4 386.7 L506.9 386.9 L507.4 386.9 L507.9 387.0 L508.4 386.9 L508.9 386.6 L509.4 386.7 L509.9 386.7 L510.4 386.8 L510.9 386.9 L511.4 386.9 L511.9 387.0 L512.4 387.2 L512.9 387.4 L513.4 387.6 L513.9 387.9 L514.4 388.1 L514.9 388.3 L515.4 388.4 L515.9 388.5 L516.4 388.6 L516.9 388.8 L517.4 389.2 L517.9 389.5 L518.4 389.6 L518.9 389.8 L519.4 390.0 L519.9 390.1 L520.4 390.5 L520.9 390.7 L521.4 390.9 L521.9 391.0 L522.4 391.0 L522.9 391.2 L523.4 391.5 L523.9 391.8 L524.4 391.9 L524.9 392.0 L525.4 392.1 L525.9 392.2 L526.4 392.4 L526.9 392.6 L527.4 392.7 L527.9 392.8 L528.4 392.9 L528.9 393.1 L529.4 393.3 L529.9 393.3 L530.4 393.3 L530.9 393.2 L531.4 393.2 L531.9 393.2 L532.4 393.2 L532.9 393.2 L533.4 393.0 L533.9 393.0 L534.4 392.9 L534.9 392.8 L535.4 392.7 L535.9 392.7 L536.4 392.5 L536.9 392.3 L537.4 392.3 L537.9 392.3 L538.4 392.3 L538.9 392.4 L539.4 392.3 L539.9 392.2 L540.4 392.3 L540.9 392.3 L541.4 392.5 L541.9 392.6 L542.4 392.6 L542.9 392.7 L543.4 393.0 L543.9 393.2 L544.4 393.2 L544.9 393.4 L545.4 393.3 L545.9 393.2 L546.4 393.3 L546.9 393.4 L547.4 393.5 L547.9 393.7 L548.4 393.7 L548.9 393.8 L549.4 393.9 L549.9 393.8 L550.4 393.9 L550.9 394.1 L551.4 394.1 L551.9 394.3 L552.4 394.3 L552.9 394.3 L553.4 394.3 L553.9 394.3 L554.4 394.3 L554.9 394.2 L555.4 394.2 L555.9 394.2 L556.4 394.2 L556.9 394.3 L557.4 394.3 L557.9 394.3 L558.4 394.2 L558.9 394.3 L559.4 394.4 L559.9 394.3 L560.4 394.4 L560.9 394.3 L561.4 394.4 L561.9 394.5 L562.4 394.6 L562.9 394.8 L563.4 394.9 L563.9 395.0 L564.4 395.1 L564.9 395.1 L565.4 395.2 L565.9 395.4 L566.4 395.4 L566.9 395.6 L567.4 395.7 L567.9 395.6 L568.4 395.5 L568.9 395.4 L569.4 395.4 L569.9 395.6 L570.4 395.7 L570.9 395.7 L571.4 395.8 L571.9 395.8 L572.4 395.8 L572.9 395.8 L573.4 396.0 L573.9 396.1 L574.4 396.3 L574.9 396.4 L575.4 396.5 L575.9 396.6 L576.4 396.5 L576.9 396.6 L577.4 396.4 L577.9 396.6 L578.4 396.7 L578.9 396.7 L579.4 396.9 L579.9 396.9 L580.4 396.9 L580.9 397.1 L581.4 397.1 L581.9 397.2 L582.4 397.3 L582.9 397.3 L583.4 397.4 L583.9 397.6 L584.4 397.7 L584.9 397.8 L585.4 397.8 L585.9 397.9 L586.4 398.1 L586.9 398.1 L587.4 398.3 L587.9 398.2 L588.4 398.3 L588.9 398.5 L589.4 398.7 L589.9 398.8 L590.4 398.9 L590.9 399.0 L591.4 399.0 L591.9 399.0 L592.4 399.1 L592.9 399.2 L593.4 399.2 L593.9 399.4 L594.4 399.5 L594.9 399.6 L595.4 399.8 L595.9 399.7 L596.4 399.8 L596.9 399.9 L597.4 400.0 L597.9 400.2 L598.4 400.3 L598.9 400.4 L599.4 400.5 L599.9 400.5 L600.4 400.6 L600.9 400.6 L601.4 400.6 L601.9 400.8 L602.4 400.9 L602.9 401.0 L603.4 401.1 L603.9 401.0 L604.4 401.1 L604.9 401.3 L605.4 401.3 L605.9 401.4 L606.4 401.5 L606.9 401.6 L607.4 401.7 L607.9 401.8 L608.4 401.9 L608.9 401.8 L609.4 401.9 L609.9 401.9 L610.4 402.0 L610.9 402.2 L611.4 402.3 L611.9 402.3 L612.4 402.4 L612.9 402.3 L613.4 402.5 L613.9 402.6 L614.4 402.6 L614.9 402.7 L615.4 402.7 L615.9 402.9 L616.4 403.1 L616.9 403.2 L617.4 403.1 L617.9 403.0 L618.4 403.0 L618.9 403.1 L619.4 403.2 L619.9 403.3 L620.4 403.4 L620.9 403.5 L621.4 403.6 L621.9 403.7 L622.4 403.9 L622.9 404.0 L623.4 404.3 L623.9 404.2 L624.4 404.2 L624.9 404.1 L625.4 404.1 L625.9 404.3 L626.4 404.4 L626.9 404.3 L627.4 404.4 L627.9 404.4 L628.4 404.6 L628.9 404.8 L629.4 404.9 L629.9 405.0 L630.4 405.1 L630.9 405.2 L631.4 405.2 L631.9 405.2 L632.4 405.2 L632.9 405.3 L633.4 405.3 L633.9 405.4 L634.4 405.3 L634.9 405.5 L635.4 405.6 L635.9 405.7 L636.4 405.9 L636.9 405.9 L637.4 405.9 L637.9 405.9 L638.4 406.0 L638.9 406.2 L639.4 406.2 L639.9 406.2 L640.4 406.3 L640.9 406.4 L641.4 406.5 L641.9 406.6 L642.4 406.7 L642.9 406.7 L643.4 406.8 L643.9 406.9 L644.4 406.8 L644.9 406.9 L645.4 406.9 L645.9 407.0 L646.4 407.1 L646.9 407.2 L647.4 407.5 L647.9 407.6 L648.4 407.6 L648.9 407.6 L649.4 407.5 L649.9 407.8 L650.4 407.8 L650.9 408.0" stroke="#ad40b6" stroke-width="2.5"/>
<path d="M75.4 423.6 L75.9 423.5 L76.4 423.6 L76.9 423.7 L77.4 423.8 L77.9 423.9 L78.4 423.9 L78.9 423.8 L79.4 423.9 L79.9 423.9 L80.4 423.8 L80.9 423.8 L81.4 423.9 L81.9 424.0 L82.4 424.1 L82.9 424.2 L83.4 424.2 L83.9 424.1 L84.4 424.2 L84.9 424.2 L85.4 424.2 L85.9 424.2 L86.4 424.1 L86.9 424.1 L87.4 424.0 L87.9 423.7 L88.4 423.1 L88.9 422.6 L89.4 421.9 L89.9 421.3 L90.4 420.8 L90.9 420.4 L91.4 420.0 L91.9 419.2 L92.4 417.6 L92.9 414.6 L93.4 411.0 L93.5 410.2 L93.8 409.6 L93.9 409.7 L94.0 410.2 L94.4 412.4 L94.9 416.0 L95.4 418.4 L95.9 419.6 L96.4 420.2 L96.9 420.4 L97.4 420.7 L97.9 421.0 L98.4 421.4 L98.9 421.9 L99.4 422.5 L99.9 423.1 L100.4 423.5 L100.9 423.9 L101.4 424.2 L101.9 424.3 L102.4 424.3 L102.9 424.3 L103.4 424.3 L103.9 424.3 L104.4 424.4 L104.9 424.2 L105.4 424.2 L105.9 424.1 L106.4 424.0 L106.9 424.0 L107.4 423.9 L107.9 424.0 L108.4 424.0 L108.9 424.1 L109.4 424.1 L109.9 424.0 L110.4 424.0 L110.9 423.7 L111.4 423.7 L111.9 423.6 L112.4 423.5 L112.9 423.5 L113.4 423.3 L113.9 423.2 L114.4 423.0 L114.9 422.8 L115.4 422.6 L115.9 422.3 L116.4 422.2 L116.9 421.9 L117.4 421.5 L117.9 421.2 L118.4 420.7 L118.9 420.3 L119.4 419.7 L119.9 418.3 L120.4 416.6 L120.9 414.8 L121.4 413.2 L121.9 412.1 L122.4 411.5 L122.9 410.5 L123.4 408.3 L123.9 403.9 L124.4 397.5 L124.8 393.5 L124.9 392.6 L125.0 392.4 L125.2 393.5 L125.4 395.0 L125.9 401.5 L126.4 406.8 L126.9 409.8 L127.4 411.2 L127.9 411.8 L128.4 412.7 L128.9 413.9 L129.4 415.4 L129.9 417.0 L130.4 418.4 L130.9 419.3 L131.4 419.6 L131.9 419.9 L132.4 420.2 L132.9 420.5 L133.4 420.7 L133.9 420.9 L134.4 421.2 L134.9 421.4 L135.4 421.7 L135.9 421.8 L136.4 421.9 L136.9 422.0 L137.4 421.9 L137.9 422.0 L138.4 422.0 L138.9 422.0 L139.4 422.0 L139.9 421.9 L140.4 421.8 L140.9 421.9 L141.4 421.9 L141.9 421.8 L142.4 421.7 L142.9 421.5 L143.4 421.4 L143.9 421.5 L144.4 421.4 L144.9 421.4 L145.4 421.2 L145.9 421.1 L146.4 421.0 L146.9 421.0 L147.4 421.0 L147.9 420.9 L148.4 420.9 L148.9 420.8 L149.4 420.8 L149.9 420.8 L150.4 420.7 L150.9 420.6 L151.4 420.5 L151.9 420.4 L152.4 420.3 L152.9 420.2 L153.4 420.1 L153.9 419.9 L154.4 420.0 L154.9 419.8 L155.4 419.8 L155.9 419.6 L156.4 419.5 L156.9 419.3 L157.4 419.0 L157.9 418.6 L158.4 417.8 L158.9 416.6 L159.4 414.8 L159.9 412.5 L160.3 410.9 L160.4 410.8 L160.6 410.6 L160.8 410.8 L160.9 411.0 L161.4 412.7 L161.9 414.8 L162.4 416.3 L162.9 417.3 L163.4 417.7 L163.9 417.8 L164.4 417.8 L164.9 417.6 L165.4 417.4 L165.9 417.2 L166.4 416.9 L166.9 416.7 L167.4 416.4 L167.9 416.2 L168.4 416.0 L168.9 415.9 L169.4 415.8 L169.9 415.6 L170.4 415.6 L170.9 415.5 L171.4 415.5 L171.9 415.4 L172.4 415.2 L172.9 415.1 L173.4 415.0 L173.9 414.9 L174.4 414.8 L174.9 414.6 L175.4 414.5 L175.9 414.4 L176.4 414.4 L176.9 414.3 L177.4 414.0 L177.9 413.8 L178.4 413.4 L178.9 413.1 L179.4 412.3 L179.9 410.6 L180.4 408.5 L180.9 406.6 L181.4 405.2 L181.9 404.3 L182.4 402.7 L182.9 399.8 L183.4 395.2 L183.9 390.2 L183.9 389.8 L184.2 388.9 L184.4 389.4 L184.4 389.6 L184.9 393.5 L185.4 398.0 L185.9 400.8 L186.4 402.1 L186.9 402.6 L187.4 402.9 L187.9 403.0 L188.4 403.0 L188.9 403.0 L189.4 403.0 L189.9 402.9 L190.4 402.8 L190.9 402.7 L191.4 402.5 L191.9 402.0 L192.4 401.3 L192.9 399.4 L193.4 395.5 L193.9 389.0 L194.4 382.0 L194.4 381.5 L194.7 380.3 L194.9 381.1 L194.9 381.5 L195.4 387.5 L195.9 394.5 L196.4 398.9 L196.9 401.0 L197.4 401.9 L197.9 402.3 L198.4 402.6 L198.9 402.8 L199.4 402.9 L199.9 403.1 L200.4 403.3 L200.9 403.4 L201.4 403.6 L201.9 403.8 L202.4 403.9 L202.9 404.2 L203.4 404.4 L203.9 404.7 L204.4 404.8 L204.9 404.9 L205.4 405.2 L205.9 405.2 L206.4 405.3 L206.9 405.5 L207.4 405.5 L207.9 405.6 L208.4 405.7 L208.9 405.8 L209.4 405.9 L209.9 406.1 L210.4 406.1 L210.9 406.1 L211.4 406.0 L211.9 406.0 L212.4 406.0 L212.9 405.9 L213.4 405.7 L213.9 405.5 L214.4 405.3 L214.9 405.1 L215.4 404.9 L215.9 404.6 L216.4 404.3 L216.9 404.0 L217.4 403.8 L217.9 403.6 L218.4 403.4 L218.9 403.3 L219.4 403.0 L219.9 402.9 L220.4 402.8 L220.9 402.5 L221.4 402.4 L221.9 402.1 L222.4 402.0 L222.9 401.8 L223.4 401.6 L223.9 401.4 L224.4 401.0 L224.9 400.1 L225.4 398.2 L225.9 394.9 L226.4 391.4 L226.4 391.1 L226.7 390.6 L226.9 391.0 L226.9 391.2 L227.4 394.3 L227.9 397.9 L228.4 400.3 L228.9 401.5 L229.4 402.0 L229.9 402.3 L230.4 402.5 L230.9 402.5 L231.4 402.6 L231.9 402.5 L232.4 402.3 L232.9 402.1 L233.4 401.9 L233.9 401.7 L234.4 401.4 L234.9 401.2 L235.4 401.1 L235.9 401.0 L236.4 401.0 L236.9 401.0 L237.4 400.9 L237.9 401.0 L238.4 400.9 L238.9 400.9 L239.4 400.8 L239.9 400.7 L240.4 400.5 L240.9 400.5 L241.4 400.5 L241.9 400.4 L242.4 400.4 L242.9 400.3 L243.4 400.1 L243.9 400.1 L244.4 399.9 L244.9 399.7 L245.4 399.4 L245.9 399.2 L246.4 399.0 L246.9 398.8 L247.4 398.7 L247.9 398.5 L248.4 398.4 L248.9 398.2 L249.4 398.2 L249.9 397.9 L250.4 397.6 L250.9 397.3 L251.4 397.1 L251.9 396.9 L252.4 396.6 L252.9 396.4 L253.4 396.1 L253.9 395.8 L254.4 395.6 L254.9 395.4 L255.4 395.1 L255.9 395.0 L256.4 394.8 L256.9 394.6 L257.4 394.4 L257.9 394.1 L258.4 393.9 L258.9 393.7 L259.4 393.6 L259.9 393.5 L260.4 393.4 L260.9 393.3 L261.4 393.2 L261.9 393.0 L262.4 392.9 L262.9 392.8 L263.4 392.6 L263.9 392.4 L264.4 392.4 L264.9 392.3 L265.4 392.3 L265.9 392.2 L266.4 392.1 L266.9 392.1 L267.4 392.0 L267.9 392.0 L268.4 392.1 L268.9 392.0 L269.4 392.0 L269.9 391.9 L270.4 391.8 L270.9 391.8 L271.4 391.7 L271.9 391.6 L272.4 391.6 L272.9 391.4 L273.4 391.4 L273.9 391.5 L274.4 391.4 L274.9 391.5 L275.4 391.5 L275.9 391.3 L276.4 391.3 L276.9 391.3 L277.4 391.3 L277.9 391.3 L278.4 391.2 L278.9 391.1 L279.4 391.1 L279.9 391.0 L280.4 391.0 L280.9 390.9 L281.4 390.8 L281.9 390.7 L282.4 390.5 L282.9 390.4 L283.4 390.2 L283.9 389.9 L284.4 389.6 L284.9 389.0 L285.4 388.1 L285.9 386.6 L286.4 383.9 L286.9 379.4 L287.4 372.5 L287.9 363.5 L288.4 354.6 L288.6 351.5 L288.9 350.4 L289.1 351.4 L289.4 354.3 L289.9 362.9 L290.4 371.6 L290.9 378.3 L291.4 382.5 L291.9 385.0 L292.4 386.3 L292.9 387.1 L293.4 387.5 L293.9 387.9 L294.4 388.2 L294.9 388.4 L295.4 388.7 L295.9 388.9 L296.4 389.2 L296.9 389.5 L297.4 389.9 L297.9 390.1 L298.4 390.3 L298.9 390.5 L299.4 390.7 L299.9 390.9 L300.4 391.1 L300.9 391.1 L301.4 391.0 L301.9 390.9 L302.4 391.0 L302.9 390.9 L303.4 391.0 L303.9 391.0 L304.4 390.9 L304.9 390.8 L305.4 390.8 L305.9 390.8 L306.4 390.8 L306.9 390.9 L307.4 390.8 L307.9 390.6 L308.4 390.6 L308.9 390.5 L309.4 390.3 L309.9 390.3 L310.4 390.1 L310.9 390.2 L311.4 390.3 L311.9 390.3 L312.4 390.2 L312.9 390.1 L313.4 390.1 L313.9 390.0 L314.4 390.0 L314.9 390.0 L315.4 390.0 L315.9 389.9 L316.4 389.9 L316.9 389.8 L317.4 389.7 L317.9 389.7 L318.4 389.7 L318.9 389.6 L319.4 389.7 L319.9 389.6 L320.4 389.7 L320.9 389.7 L321.4 389.6 L321.9 389.6 L322.4 389.5 L322.9 389.4 L323.4 389.4 L323.9 389.4 L324.4 389.2 L324.9 389.2 L325.4 389.1 L325.9 389.0 L326.4 389.0 L326.9 389.0 L327.4 388.8 L327.9 388.8 L328.4 388.7 L328.9 388.5 L329.4 388.4 L329.9 388.2 L330.4 388.0 L330.9 387.7 L331.4 387.3 L331.9 386.5 L332.4 384.9 L332.9 382.2 L333.4 378.4 L333.9 375.6 L333.9 375.4 L334.1 375.0 L334.4 375.5 L334.4 375.8 L334.9 379.1 L335.4 382.6 L335.9 385.0 L336.4 386.4 L336.9 387.0 L337.4 387.3 L337.9 387.5 L338.4 387.5 L338.9 387.5 L339.4 387.6 L339.9 387.5 L340.4 387.6 L340.9 387.6 L341.4 387.6 L341.9 387.5 L342.4 387.4 L342.9 387.4 L343.4 387.3 L343.9 387.3 L344.4 387.3 L344.9 387.3 L345.4 387.2 L345.9 387.1 L346.4 387.0 L346.9 387.0 L347.4 386.9 L347.9 386.9 L348.4 386.8 L348.9 386.6 L349.4 386.5 L349.9 386.5 L350.4 386.5 L350.9 386.4 L351.4 386.3 L351.9 386.4 L352.4 386.2 L352.9 386.1 L353.4 386.0 L353.9 385.8 L354.4 385.7 L354.9 385.7 L355.4 385.6 L355.9 385.4 L356.4 385.1 L356.9 384.9 L357.4 384.8 L357.9 384.6 L358.4 384.5 L358.9 384.4 L359.4 384.1 L359.9 384.0 L360.4 383.8 L360.9 383.5 L361.4 383.4 L361.9 383.2 L362.4 383.0 L362.9 382.8 L363.4 382.6 L363.9 382.5 L364.4 382.3 L364.9 382.2 L365.4 382.0 L365.9 381.8 L366.4 381.5 L366.9 381.4 L367.4 381.3 L367.9 381.2 L368.4 381.3 L368.9 381.2 L369.4 381.1 L369.9 381.1 L370.4 381.0 L370.9 381.1 L371.4 381.2 L371.9 381.2 L372.4 381.3 L372.9 381.5 L373.4 381.6 L373.9 381.6 L374.4 381.6 L374.9 381.7 L375.4 381.8 L375.9 382.0 L376.4 382.2 L376.9 382.3 L377.4 382.4 L377.9 382.6 L378.4 382.8 L378.9 383.0 L379.4 383.1 L379.9 383.2 L380.4 383.2 L380.9 383.2 L381.4 383.2 L381.9 383.2 L382.4 382.9 L382.9 382.4 L383.4 381.1 L383.9 378.8 L384.4 375.4 L384.9 372.3 L384.9 372.1 L385.2 371.6 L385.4 372.0 L385.4 372.2 L385.9 374.9 L386.4 378.5 L386.9 381.1 L387.4 382.7 L387.9 383.5 L388.4 383.9 L388.9 384.2 L389.4 384.4 L389.9 384.6 L390.4 384.7 L390.9 384.9 L391.4 385.1 L391.9 385.1 L392.4 385.2 L392.9 385.1 L393.4 385.2 L393.9 385.5 L394.4 385.5 L394.9 385.6 L395.4 385.6 L395.9 385.6 L396.4 385.8 L396.9 385.9 L397.4 386.0 L397.9 386.1 L398.4 386.0 L398.9 386.1 L399.4 386.3 L399.9 386.5 L400.4 386.8 L400.9 387.2 L401.4 387.3 L401.9 387.3 L402.4 387.6 L402.9 387.6 L403.4 387.9 L403.9 388.0 L404.4 388.1 L404.9 388.1 L405.4 388.0 L405.9 388.0 L406.4 388.0 L406.9 388.0 L407.4 388.0 L407.9 387.9 L408.4 387.8 L408.9 387.8 L409.4 387.6 L409.9 387.7 L410.4 387.7 L410.9 387.5 L411.4 387.6 L411.9 387.4 L412.4 387.3 L412.9 387.1 L413.4 386.8 L413.9 386.4 L414.4 385.6 L414.9 384.1 L415.4 381.4 L415.9 377.8 L416.4 375.1 L416.4 374.9 L416.6 374.5 L416.9 375.0 L416.9 375.2 L417.4 378.5 L417.9 382.0 L418.4 384.3 L418.9 385.6 L419.4 386.2 L419.9 386.5 L420.4 386.6 L420.9 386.8 L421.4 387.0 L421.9 387.0 L422.4 387.1 L422.9 387.2 L423.4 387.3 L423.9 387.4 L424.4 387.5 L424.9 387.6 L425.4 387.6 L425.9 387.8 L426.4 387.9 L426.9 388.1 L427.4 388.2 L427.9 388.3 L428.4 388.4 L428.9 388.4 L429.4 388.5 L429.9 388.6 L430.4 388.7 L430.9 388.8 L431.4 388.9 L431.9 388.9 L432.4 388.9 L432.9 389.0 L433.4 389.1 L433.9 389.1 L434.4 389.3 L434.9 389.3 L435.4 389.5 L435.9 389.5 L436.4 389.6 L436.9 389.8 L437.4 389.9 L437.9 390.1 L438.4 390.3 L438.9 390.5 L439.4 390.6 L439.9 390.6 L440.4 390.6 L440.9 390.5 L441.4 390.6 L441.9 390.6 L442.4 390.6 L442.9 390.5 L443.4 390.5 L443.9 390.5 L444.4 390.5 L444.9 390.5 L445.4 390.5 L445.9 390.4 L446.4 390.5 L446.9 390.5 L447.4 390.5 L447.9 390.5 L448.4 390.4 L448.9 390.4 L449.4 390.3 L449.9 390.3 L450.4 390.2 L450.9 390.2 L451.4 390.3 L451.9 390.3 L452.4 390.4 L452.9 390.4 L453.4 390.3 L453.9 390.4 L454.4 390.4 L454.9 390.4 L455.4 390.4 L455.9 390.5 L456.4 390.5 L456.9 390.7 L457.4 390.6 L457.9 390.4 L458.4 390.4 L458.9 390.4 L459.4 390.5 L459.9 390.6 L460.4 390.6 L460.9 390.7 L461.4 390.7 L461.9 390.8 L462.4 390.9 L462.9 391.0 L463.4 391.0 L463.9 391.0 L464.4 391.0 L464.9 391.0 L465.4 391.1 L465.9 391.1 L466.4 391.2 L466.9 391.2 L467.4 391.2 L467.9 391.2 L468.4 391.1 L468.9 391.1 L469.4 391.2 L469.9 391.2 L470.4 391.2 L470.9 391.3 L471.4 391.3 L471.9 391.3 L472.4 391.3 L472.9 391.3 L473.4 391.3 L473.9 391.4 L474.4 391.5 L474.9 391.5 L475.4 391.6 L475.9 391.8 L476.4 391.8 L476.9 391.8 L477.4 391.8 L477.9 391.7 L478.4 391.6 L478.9 391.6 L479.4 391.7 L479.9 391.7 L480.4 391.7 L480.9 391.7 L481.4 391.6 L481.9 391.5 L482.4 391.4 L482.9 391.2 L483.4 391.1 L483.9 390.9 L484.4 390.9 L484.9 390.9 L485.4 391.0 L485.9 391.1 L486.4 391.2 L486.9 391.4 L487.4 391.6 L487.9 391.8 L488.4 392.0 L488.9 392.2 L489.4 392.4 L489.9 392.6 L490.4 392.7 L490.9 393.0 L491.4 393.2 L491.9 393.7 L492.4 393.9 L492.9 394.1 L493.4 394.3 L493.9 394.5 L494.4 394.9 L494.9 395.2 L495.4 395.6 L495.9 395.8 L496.4 396.0 L496.9 396.2 L497.4 396.4 L497.9 396.6 L498.4 396.8 L498.9 396.9 L499.4 397.0 L499.9 397.2 L500.4 397.4 L500.9 397.5 L501.4 397.7 L501.9 397.8 L502.4 398.0 L502.9 398.0 L503.4 398.0 L503.9 397.9 L504.4 397.8 L504.9 397.9 L505.4 397.9 L505.9 398.0 L506.4 398.0 L506.9 398.0 L507.4 397.9 L507.9 398.0 L508.4 398.0 L508.9 398.0 L509.4 398.0 L509.9 398.0 L510.4 398.0 L510.9 398.0 L511.4 398.1 L511.9 398.2 L512.4 398.2 L512.9 398.3 L513.4 398.4 L513.9 398.6 L514.4 398.8 L514.9 399.0 L515.4 399.2 L515.9 399.3 L516.4 399.6 L516.9 399.8 L517.4 399.9 L517.9 400.1 L518.4 400.2 L518.9 400.4 L519.4 400.5 L519.9 400.7 L520.4 400.9 L520.9 401.1 L521.4 401.4 L521.9 401.5 L522.4 401.5 L522.9 401.7 L523.4 401.8 L523.9 402.0 L524.4 402.2 L524.9 402.2 L525.4 402.3 L525.9 402.3 L526.4 402.4 L526.9 402.5 L527.4 402.6 L527.9 402.7 L528.4 402.9 L528.9 403.0 L529.4 403.0 L529.9 403.1 L530.4 403.0 L530.9 403.2 L531.4 403.1 L531.9 403.0 L532.4 402.9 L532.9 402.7 L533.4 402.6 L533.9 402.5 L534.4 402.5 L534.9 402.5 L535.4 402.4 L535.9 402.4 L536.4 402.3 L536.9 402.2 L537.4 402.2 L537.9 402.0 L538.4 401.9 L538.9 401.9 L539.4 401.9 L539.9 402.0 L540.4 402.2 L540.9 402.2 L541.4 402.2 L541.9 402.3 L542.4 402.3 L542.9 402.3 L543.4 402.3 L543.9 402.3 L544.4 402.3 L544.9 402.4 L545.4 402.4 L545.9 402.5 L546.4 402.6 L546.9 402.7 L547.4 402.8 L547.9 402.8 L548.4 403.0 L548.9 403.1 L549.4 403.2 L549.9 403.4 L550.4 403.4 L550.9 403.5 L551.4 403.6 L551.9 403.5 L552.4 403.6 L552.9 403.5 L553.4 403.5 L553.9 403.4 L554.4 403.4 L554.9 403.4 L555.4 403.4 L555.9 403.5 L556.4 403.6 L556.9 403.7 L557.4 403.7 L557.9 403.6 L558.4 403.5 L558.9 403.4 L559.4 403.5 L559.9 403.6 L560.4 403.6 L560.9 403.6 L561.4 403.6 L561.9 403.8 L562.4 403.9 L562.9 404.0 L563.4 404.0 L563.9 404.0 L564.4 404.0 L564.9 404.1 L565.4 404.0 L565.9 404.0 L566.4 404.1 L566.9 404.0 L567.4 404.1 L567.9 404.1 L568.4 404.0 L568.9 403.9 L569.4 403.7 L569.9 403.7 L570.4 403.7 L570.9 403.7 L571.4 403.8 L571.9 403.7 L572.4 403.9 L572.9 403.9 L573.4 404.0 L573.9 404.1 L574.4 404.0 L574.9 404.1 L575.4 404.0 L575.9 403.9 L576.4 403.9 L576.9 404.0 L577.4 404.1 L577.9 404.3 L578.4 404.4 L578.9 404.5 L579.4 404.4 L579.9 404.4 L580.4 404.5 L580.9 404.6 L581.4 404.7 L581.9 404.8 L582.4 404.8 L582.9 404.9 L583.4 405.2 L583.9 405.2 L584.4 405.4 L584.9 405.5 L585.4 405.5 L585.9 405.7 L586.4 405.8 L586.9 405.9 L587.4 406.1 L587.9 406.0 L588.4 406.1 L588.9 406.2 L589.4 406.3 L589.9 406.5 L590.4 406.6 L590.9 406.6 L591.4 406.7 L591.9 406.6 L592.4 406.7 L592.9 406.8 L593.4 406.8 L593.9 407.0 L594.4 407.0 L594.9 407.1 L595.4 407.3 L595.9 407.4 L596.4 407.5 L596.9 407.5 L597.4 407.6 L597.9 407.7 L598.4 407.6 L598.9 407.8 L599.4 407.9 L599.9 408.0 L600.4 408.1 L600.9 408.2 L601.4 408.2 L601.9 408.4 L602.4 408.5 L602.9 408.5 L603.4 408.5 L603.9 408.5 L604.4 408.5 L604.9 408.5 L605.4 408.7 L605.9 408.8 L606.4 408.9 L606.9 408.9 L607.4 408.9 L607.9 408.9 L608.4 409.0 L608.9 409.1 L609.4 409.1 L609.9 409.1 L610.4 409.2 L610.9 409.3 L611.4 409.4 L611.9 409.5 L612.4 409.5 L612.9 409.5 L613.4 409.6 L613.9 409.5 L614.4 409.5 L614.9 409.7 L615.4 409.6 L615.9 409.8 L616.4 409.9 L616.9 409.8 L617.4 409.9 L617.9 409.8 L618.4 409.9 L618.9 409.9 L619.4 410.0 L619.9 410.1 L620.4 410.1 L620.9 410.2 L621.4 410.3 L621.9 410.3 L622.4 410.3 L622.9 410.3 L623.4 410.3 L623.9 410.4 L624.4 410.4 L624.9 410.6 L625.4 410.6 L625.9 410.6 L626.4 410.6 L626.9 410.6 L627.4 410.7 L627.9 410.8 L628.4 411.0 L628.9 411.1 L629.4 411.1 L629.9 411.1 L630.4 411.0 L630.9 411.0 L631.4 411.1 L631.9 411.2 L632.4 411.2 L632.9 411.2 L633.4 411.3 L633.9 411.3 L634.4 411.4 L634.9 411.5 L635.4 411.6 L635.9 411.6 L636.4 411.6 L636.9 411.7 L637.4 411.8 L637.9 411.8 L638.4 411.9 L638.9 411.8 L639.4 411.9 L639.9 411.9 L640.4 412.0 L640.9 412.2 L641.4 412.1 L641.9 412.1 L642.4 412.1 L642.9 412.1 L643.4 412.1 L643.9 412.3 L644.4 412.3 L644.9 412.4 L645.4 412.6 L645.9 412.6 L646.4 412.6 L646.9 412.6 L647.4 412.6 L647.9 412.7 L648.4 412.7 L648.9 412.8 L649.4 412.9 L649.9 412.9 L650.4 412.9 L650.9 412.9" stroke="#f42428" stroke-width="2.7"/>
</g>
<rect x="379.6" y="78.8" width="270.4" height="162.0" fill="#fff"/>
<g clip-path="url(#ci)" fill="none" stroke-linejoin="round" stroke-linecap="round">
<path d="M379.6 217.7 L380.1 217.9 L380.6 218.3 L381.1 218.7 L381.6 219.2 L382.1 219.8 L382.6 220.1 L383.1 220.4 L383.6 220.5 L384.1 220.6 L384.6 220.9 L385.1 220.9 L385.6 220.8 L386.1 220.5 L386.6 219.9 L387.1 219.4 L387.6 218.8 L388.1 218.0 L388.6 217.7 L389.1 217.7 L389.6 218.1 L390.1 219.2 L390.6 220.3 L391.1 221.2 L391.6 221.9 L392.1 222.3 L392.6 222.6 L393.1 222.9 L393.6 223.4 L394.1 223.7 L394.6 224.0 L395.1 224.3 L395.6 224.3 L396.1 224.3 L396.6 224.3 L397.1 224.3 L397.6 224.5 L398.1 224.5 L398.6 224.5 L399.1 224.3 L399.6 224.2 L400.1 224.0 L400.6 223.7 L401.1 223.3 L401.6 222.2 L402.1 219.8 L402.6 215.2 L403.1 209.0 L403.4 206.5 L403.6 205.5 L403.9 206.4 L404.1 209.0 L404.6 215.1 L405.1 219.5 L405.6 221.9 L406.1 222.8 L406.6 223.3 L407.1 223.7 L407.6 223.7 L408.1 223.9 L408.6 223.9 L409.1 223.7 L409.6 223.7 L410.1 223.4 L410.6 223.2 L411.1 223.2 L411.6 223.3 L412.1 223.4 L412.6 223.4 L413.1 223.2 L413.6 223.1 L414.1 223.0 L414.6 222.7 L415.1 222.6 L415.6 222.6 L416.1 222.6 L416.6 222.7 L417.1 222.8 L417.6 222.7 L418.1 222.6 L418.6 222.4 L419.1 222.0 L419.6 221.4 L420.1 220.9 L420.6 221.3 L421.1 221.5 L421.6 221.6 L422.1 221.8 L422.6 221.4 L423.1 221.1 L423.6 220.5 L424.1 220.0 L424.6 219.7 L425.1 219.1 L425.6 218.7 L426.1 218.4 L426.6 217.7 L427.1 216.9 L427.6 216.2 L428.1 215.1 L428.6 213.9 L429.1 213.1 L429.6 212.1 L430.1 211.0 L430.6 209.7 L431.1 207.9 L431.6 205.4 L432.1 203.0 L432.1 202.8 L432.3 202.2 L432.6 202.2 L432.6 202.3 L433.1 203.5 L433.6 204.4 L434.1 204.6 L434.6 204.2 L435.1 202.9 L435.6 199.6 L436.1 193.9 L436.4 190.0 L436.6 189.1 L436.7 189.0 L436.9 190.2 L437.1 191.8 L437.6 198.5 L438.1 203.4 L438.6 205.8 L439.1 206.9 L439.6 207.4 L440.1 207.6 L440.6 207.7 L441.1 207.9 L441.6 207.8 L442.1 207.8 L442.6 207.6 L443.1 207.3 L443.6 207.1 L444.1 207.0 L444.6 206.9 L445.1 206.7 L445.6 206.4 L446.1 206.3 L446.6 206.1 L447.1 205.9 L447.6 205.7 L448.1 205.1 L448.6 204.5 L449.1 203.6 L449.6 201.8 L450.1 198.0 L450.6 191.7 L450.9 187.4 L451.1 186.3 L451.2 186.1 L451.4 187.3 L451.6 188.9 L452.1 195.4 L452.6 200.2 L453.1 202.4 L453.6 203.3 L454.1 203.8 L454.6 204.0 L455.1 203.9 L455.6 203.7 L456.1 203.4 L456.6 203.2 L457.1 203.2 L457.6 203.3 L458.1 202.6 L458.6 202.1 L459.1 201.8 L459.6 201.3 L460.1 201.4 L460.6 201.2 L461.1 201.0 L461.6 200.6 L462.1 200.0 L462.6 199.8 L463.1 199.2 L463.6 198.9 L464.1 198.6 L464.6 198.2 L465.1 197.8 L465.6 197.2 L466.1 196.7 L466.6 196.2 L467.1 195.9 L467.6 195.6 L468.1 195.3 L468.6 194.8 L469.1 194.4 L469.6 193.9 L470.1 193.4 L470.6 193.1 L471.1 192.7 L471.6 192.3 L472.1 191.9 L472.6 191.4 L473.1 190.9 L473.6 190.4 L474.1 189.9 L474.6 189.1 L475.1 188.5 L475.6 187.5 L476.1 185.8 L476.6 184.3 L477.1 183.0 L477.6 181.4 L478.1 178.9 L478.6 174.3 L479.1 165.7 L479.6 151.2 L480.1 132.3 L480.4 121.5 L480.6 119.1 L480.7 118.5 L480.9 121.1 L481.1 124.8 L481.6 142.6 L482.1 158.7 L482.6 168.7 L483.1 173.8 L483.6 176.2 L484.1 177.5 L484.6 178.2 L485.1 178.9 L485.6 179.7 L486.1 180.6 L486.6 181.6 L487.1 182.6 L487.6 183.3 L488.1 184.0 L488.6 184.4 L489.1 184.4 L489.6 184.4 L490.1 184.1 L490.6 183.6 L491.1 183.3 L491.6 182.8 L492.1 182.6 L492.6 182.6 L493.1 182.4 L493.6 182.2 L494.1 181.6 L494.6 180.9 L495.1 180.5 L495.6 180.0 L496.1 179.7 L496.6 179.4 L497.1 178.7 L497.6 178.3 L498.1 177.9 L498.6 177.5 L499.1 177.2 L499.6 176.6 L500.1 175.6 L500.6 173.3 L501.1 168.2 L501.6 160.7 L501.9 157.3 L502.1 155.9 L502.4 157.3 L502.6 160.6 L503.1 168.1 L503.6 172.9 L504.1 175.1 L504.6 176.1 L505.1 176.5 L505.6 176.6 L506.1 176.6 L506.6 176.2 L507.1 175.4 L507.6 174.7 L508.1 173.8 L508.6 173.0 L509.1 172.3 L509.6 171.7 L510.1 171.2 L510.6 170.7 L511.1 170.3 L511.6 169.9 L512.1 169.5 L512.6 169.0 L513.1 168.5 L513.6 168.1 L514.1 167.4 L514.6 166.8 L515.1 166.3 L515.6 165.7 L516.1 165.2 L516.6 164.7 L517.1 164.2 L517.6 163.8 L518.1 163.4 L518.6 162.9 L519.1 162.4 L519.6 162.1 L520.1 161.8 L520.6 161.9 L521.1 162.1 L521.6 161.9 L522.1 161.8 L522.6 161.5 L523.1 161.2 L523.6 160.5 L524.1 158.9 L524.6 155.7 L525.1 150.7 L525.5 146.3 L525.6 146.0 L525.8 145.4 L526.0 146.3 L526.1 146.7 L526.6 151.9 L527.1 156.8 L527.6 159.8 L528.1 161.2 L528.6 161.9 L529.1 162.2 L529.6 162.7 L530.1 163.1 L530.6 163.5 L531.1 164.2 L531.6 164.8 L532.1 165.4 L532.6 166.0 L533.1 166.5 L533.6 167.2 L534.1 167.9 L534.6 168.6 L535.1 169.2 L535.6 169.6 L536.1 170.0 L536.6 170.4 L537.1 170.7 L537.6 170.7 L538.1 170.5 L538.6 169.7 L539.1 168.0 L539.6 164.5 L540.1 158.1 L540.6 150.3 L540.8 148.6 L541.0 147.3 L541.1 147.5 L541.2 148.5 L541.6 153.3 L542.1 161.0 L542.6 166.2 L543.1 168.9 L543.6 170.0 L544.1 170.6 L544.6 170.8 L545.1 171.0 L545.6 171.4 L546.1 171.4 L546.6 171.6 L547.1 171.8 L547.6 171.9 L548.1 171.9 L548.6 172.0 L549.1 172.0 L549.6 172.2 L550.1 172.2 L550.6 172.2 L551.1 172.1 L551.6 172.1 L552.1 172.1 L552.6 172.3 L553.1 172.2 L553.6 172.0 L554.1 171.8 L554.6 171.7 L555.1 171.6 L555.6 171.7 L556.1 171.8 L556.6 171.5 L557.1 171.4 L557.6 171.1 L558.1 171.1 L558.6 171.2 L559.1 171.1 L559.6 171.0 L560.1 170.6 L560.6 170.4 L561.1 170.5 L561.6 170.7 L562.1 170.8 L562.6 170.8 L563.1 170.7 L563.6 170.6 L564.1 170.8 L564.6 170.9 L565.1 171.2 L565.6 171.4 L566.1 171.4 L566.6 171.6 L567.1 171.7 L567.6 171.7 L568.1 172.0 L568.6 172.0 L569.1 171.7 L569.6 171.4 L570.1 171.1 L570.6 170.9 L571.1 170.6 L571.6 170.2 L572.1 169.8 L572.6 169.5 L573.1 169.4 L573.6 169.8 L574.1 170.0 L574.6 170.6 L575.1 171.0 L575.6 171.6 L576.1 172.6 L576.6 173.2 L577.1 174.0 L577.6 174.9 L578.1 175.4 L578.6 176.0 L579.1 176.6 L579.6 177.1 L580.1 177.5 L580.6 177.9 L581.1 178.1 L581.6 178.2 L582.1 178.3 L582.6 178.5 L583.1 178.8 L583.6 179.0 L584.1 179.4 L584.6 179.6 L585.1 179.9 L585.6 180.3 L586.1 180.6 L586.6 181.0 L587.1 181.5 L587.6 182.1 L588.1 182.5 L588.6 183.0 L589.1 183.6 L589.6 183.9 L590.1 184.5 L590.6 185.4 L591.1 185.9 L591.6 186.7 L592.1 187.2 L592.6 187.3 L593.1 187.6 L593.6 187.8 L594.1 188.1 L594.6 188.4 L595.1 188.4 L595.6 188.5 L596.1 188.1 L596.6 187.9 L597.1 187.4 L597.6 186.8 L598.1 186.6 L598.6 186.2 L599.1 186.2 L599.6 186.1 L600.1 186.3 L600.6 186.4 L601.1 186.6 L601.6 187.0 L602.1 187.3 L602.6 187.3 L603.1 187.3 L603.6 187.4 L604.1 187.4 L604.6 187.6 L605.1 187.9 L605.6 187.9 L606.1 188.1 L606.6 188.0 L607.1 188.1 L607.6 188.3 L608.1 188.5 L608.6 188.8 L609.1 188.9 L609.6 189.1 L610.1 189.1 L610.6 189.3 L611.1 189.2 L611.6 189.3 L612.1 189.3 L612.6 189.2 L613.1 189.2 L613.6 189.3 L614.1 189.3 L614.6 189.2 L615.1 189.5 L615.6 189.5 L616.1 189.7 L616.6 189.8 L617.1 189.8 L617.6 190.0 L618.1 190.1 L618.6 190.3 L619.1 190.5 L619.6 190.7 L620.1 190.6 L620.6 190.5 L621.1 190.7 L621.6 190.6 L622.1 190.8 L622.6 191.2 L623.1 191.2 L623.6 191.7 L624.1 192.0 L624.6 192.0 L625.1 192.2 L625.6 192.3 L626.1 192.4 L626.6 192.8 L627.1 193.4 L627.6 193.7 L628.1 194.0 L628.6 194.3 L629.1 194.5 L629.6 194.9 L630.1 195.3 L630.6 195.4 L631.1 195.7 L631.6 195.8 L632.1 195.9 L632.6 196.1 L633.1 196.0 L633.6 196.3 L634.1 196.5 L634.6 196.5 L635.1 197.0 L635.6 197.2 L636.1 197.4 L636.6 197.5 L637.1 197.3 L637.6 197.3 L638.1 197.4 L638.6 197.8 L639.1 198.3 L639.6 198.4 L640.1 198.5 L640.6 198.7 L641.1 198.7 L641.6 199.1 L642.1 199.3 L642.6 199.7 L643.1 200.0 L643.6 200.2 L644.1 200.6 L644.6 200.5 L645.1 200.6 L645.6 200.7 L646.1 200.7 L646.6 200.8 L647.1 201.3 L647.6 201.6 L648.1 201.8 L648.6 202.1 L649.1 202.2 L649.6 202.2 L650.1 202.6 L650.6 202.9" stroke="#3c4bb2" stroke-width="2.2"/>
<path d="M379.6 217.7 L380.1 218.0 L380.6 218.5 L381.1 218.8 L381.6 219.2 L382.1 219.7 L382.6 220.0 L383.1 220.3 L383.6 220.6 L384.1 221.0 L384.6 221.2 L385.1 221.6 L385.6 221.9 L386.1 222.2 L386.6 222.5 L387.1 222.8 L387.6 223.0 L388.1 223.4 L388.6 223.8 L389.1 224.0 L389.6 224.5 L390.1 224.6 L390.6 224.8 L391.1 225.0 L391.6 225.1 L392.1 225.4 L392.6 225.7 L393.1 226.0 L393.6 226.2 L394.1 226.3 L394.6 226.5 L395.1 226.7 L395.6 226.9 L396.1 227.0 L396.6 227.3 L397.1 227.4 L397.6 227.6 L398.1 227.8 L398.6 227.8 L399.1 227.9 L399.6 228.0 L400.1 228.1 L400.6 228.1 L401.1 228.3 L401.6 228.4 L402.1 228.4 L402.6 228.4 L403.1 228.3 L403.6 228.2 L403.6 228.2 L403.8 228.2 L404.1 228.3 L404.1 228.3 L404.6 228.7 L405.1 228.9 L405.6 229.2 L406.1 229.3 L406.6 229.5 L407.1 229.6 L407.6 229.7 L408.1 229.6 L408.6 229.7 L409.1 229.9 L409.6 230.0 L410.1 230.1 L410.6 230.2 L411.1 230.2 L411.6 230.4 L412.1 230.6 L412.6 230.5 L413.1 230.4 L413.6 230.4 L414.1 230.3 L414.6 230.5 L415.1 230.7 L415.6 230.7 L416.1 230.8 L416.6 230.8 L417.1 230.7 L417.6 230.7 L418.1 230.6 L418.6 230.6 L419.1 230.5 L419.6 230.4 L420.1 230.5 L420.6 230.6 L421.1 230.6 L421.6 230.7 L422.1 230.7 L422.6 230.6 L423.1 230.6 L423.6 230.5 L424.1 230.3 L424.6 230.3 L425.1 230.1 L425.6 230.1 L426.1 230.2 L426.6 230.0 L427.1 230.0 L427.6 229.6 L428.1 229.4 L428.6 229.4 L429.1 229.3 L429.6 229.3 L430.1 229.1 L430.6 228.7 L431.1 228.4 L431.6 228.1 L432.1 227.8 L432.6 227.7 L433.1 227.5 L433.6 227.4 L434.1 227.4 L434.6 227.3 L435.1 226.9 L435.6 226.3 L436.1 225.4 L436.4 224.9 L436.6 224.8 L436.7 224.8 L436.9 224.9 L437.1 225.1 L437.6 225.9 L438.1 226.5 L438.6 226.9 L439.1 227.0 L439.6 227.1 L440.1 227.2 L440.6 227.1 L441.1 227.1 L441.6 226.9 L442.1 226.7 L442.6 226.6 L443.1 226.5 L443.6 226.3 L444.1 226.1 L444.6 226.0 L445.1 225.9 L445.6 225.7 L446.1 225.7 L446.6 225.5 L447.1 225.2 L447.6 225.2 L448.1 224.9 L448.6 224.7 L449.1 224.5 L449.6 223.8 L450.1 222.5 L450.6 219.8 L451.1 216.7 L451.1 216.5 L451.4 215.9 L451.6 216.2 L451.6 216.4 L452.1 219.0 L452.6 221.6 L453.1 223.0 L453.6 223.7 L454.1 223.8 L454.6 223.8 L455.1 223.9 L455.6 223.7 L456.1 223.6 L456.6 223.6 L457.1 223.5 L457.6 223.6 L458.1 223.4 L458.6 223.2 L459.1 223.1 L459.6 222.9 L460.1 222.7 L460.6 222.7 L461.1 222.6 L461.6 222.6 L462.1 222.7 L462.6 222.5 L463.1 222.3 L463.6 222.2 L464.1 222.0 L464.6 221.8 L465.1 221.8 L465.6 221.7 L466.1 221.4 L466.6 221.2 L467.1 221.0 L467.6 220.7 L468.1 220.5 L468.6 220.3 L469.1 219.8 L469.6 219.4 L470.1 219.1 L470.6 218.7 L471.1 218.3 L471.6 217.9 L472.1 217.5 L472.6 216.9 L473.1 216.5 L473.6 215.9 L474.1 215.2 L474.6 214.6 L475.1 213.8 L475.6 213.1 L476.1 212.2 L476.6 211.4 L477.1 210.5 L477.6 209.4 L478.1 207.9 L478.6 205.3 L479.1 200.4 L479.6 192.4 L480.1 181.9 L480.4 175.9 L480.6 174.5 L480.7 174.2 L480.9 175.4 L481.1 177.4 L481.6 186.7 L482.1 195.1 L482.6 200.4 L483.1 202.9 L483.6 204.0 L484.1 204.7 L484.6 205.1 L485.1 205.7 L485.6 206.2 L486.1 206.7 L486.6 207.4 L487.1 208.1 L487.6 208.5 L488.1 209.2 L488.6 209.3 L489.1 209.5 L489.6 209.6 L490.1 209.6 L490.6 209.6 L491.1 209.4 L491.6 209.2 L492.1 208.9 L492.6 208.7 L493.1 208.5 L493.6 208.3 L494.1 208.2 L494.6 207.8 L495.1 207.5 L495.6 207.1 L496.1 206.7 L496.6 206.6 L497.1 206.4 L497.6 206.1 L498.1 205.9 L498.6 205.6 L499.1 205.4 L499.6 205.3 L500.1 204.7 L500.6 203.3 L501.1 200.7 L501.6 196.5 L501.9 194.7 L502.1 194.0 L502.4 194.6 L502.6 196.3 L503.1 200.1 L503.6 202.6 L504.1 203.6 L504.6 204.1 L505.1 204.0 L505.6 203.8 L506.1 203.5 L506.6 203.1 L507.1 202.7 L507.6 202.3 L508.1 201.8 L508.6 201.3 L509.1 200.9 L509.6 200.2 L510.1 199.7 L510.6 199.1 L511.1 198.5 L511.6 198.1 L512.1 197.7 L512.6 197.4 L513.1 197.0 L513.6 196.9 L514.1 196.6 L514.6 196.3 L515.1 195.9 L515.6 195.5 L516.1 195.3 L516.6 195.0 L517.1 194.9 L517.6 194.5 L518.1 194.3 L518.6 193.9 L519.1 193.6 L519.6 193.4 L520.1 193.2 L520.6 193.2 L521.1 192.9 L521.6 192.9 L522.1 192.6 L522.6 192.3 L523.1 192.1 L523.6 191.9 L524.1 191.6 L524.6 190.9 L525.1 189.3 L525.6 186.6 L526.1 183.6 L526.1 183.4 L526.4 183.0 L526.6 183.3 L526.6 183.5 L527.1 186.1 L527.6 189.1 L528.1 191.1 L528.6 192.1 L529.1 192.6 L529.6 192.9 L530.1 193.1 L530.6 193.4 L531.1 193.8 L531.6 194.0 L532.1 194.2 L532.6 194.5 L533.1 194.7 L533.6 194.9 L534.1 195.0 L534.6 195.1 L535.1 195.2 L535.6 195.2 L536.1 195.1 L536.6 194.9 L537.1 194.7 L537.6 194.5 L538.1 194.3 L538.6 194.0 L539.1 193.2 L539.6 191.3 L540.1 188.0 L540.6 184.1 L540.8 183.2 L541.0 182.5 L541.1 182.6 L541.2 183.1 L541.6 185.4 L542.1 189.2 L542.6 191.8 L543.1 193.1 L543.6 193.7 L544.1 194.0 L544.6 194.3 L545.1 194.5 L545.6 194.6 L546.1 194.8 L546.6 195.1 L547.1 195.2 L547.6 195.4 L548.1 195.5 L548.6 195.5 L549.1 195.6 L549.6 195.7 L550.1 195.8 L550.6 195.7 L551.1 195.8 L551.6 195.8 L552.1 195.8 L552.6 195.7 L553.1 195.6 L553.6 195.5 L554.1 195.4 L554.6 195.3 L555.1 195.2 L555.6 195.1 L556.1 194.9 L556.6 195.0 L557.1 194.8 L557.6 194.6 L558.1 194.5 L558.6 194.3 L559.1 194.2 L559.6 194.1 L560.1 194.1 L560.6 194.1 L561.1 194.1 L561.6 193.9 L562.1 193.9 L562.6 193.9 L563.1 193.7 L563.6 193.5 L564.1 193.3 L564.6 193.1 L565.1 192.8 L565.6 192.9 L566.1 192.7 L566.6 192.5 L567.1 192.4 L567.6 192.2 L568.1 192.1 L568.6 192.1 L569.1 192.1 L569.6 191.9 L570.1 191.8 L570.6 191.7 L571.1 191.6 L571.6 191.6 L572.1 191.5 L572.6 191.4 L573.1 191.4 L573.6 191.7 L574.1 192.1 L574.6 192.5 L575.1 192.9 L575.6 193.2 L576.1 193.4 L576.6 193.8 L577.1 194.4 L577.6 194.7 L578.1 195.2 L578.6 195.6 L579.1 195.9 L579.6 196.3 L580.1 196.5 L580.6 196.7 L581.1 196.7 L581.6 196.7 L582.1 196.7 L582.6 196.9 L583.1 197.1 L583.6 197.4 L584.1 197.4 L584.6 197.7 L585.1 197.5 L585.6 197.6 L586.1 197.9 L586.6 198.0 L587.1 198.4 L587.6 198.6 L588.1 199.0 L588.6 199.3 L589.1 199.6 L589.6 200.1 L590.1 200.5 L590.6 200.8 L591.1 201.3 L591.6 201.5 L592.1 201.7 L592.6 201.9 L593.1 202.0 L593.6 202.2 L594.1 202.4 L594.6 202.7 L595.1 202.6 L595.6 202.4 L596.1 202.4 L596.6 202.1 L597.1 202.0 L597.6 201.8 L598.1 201.7 L598.6 201.6 L599.1 201.4 L599.6 201.3 L600.1 201.1 L600.6 201.1 L601.1 201.3 L601.6 201.3 L602.1 201.5 L602.6 201.7 L603.1 201.7 L603.6 201.8 L604.1 201.9 L604.6 201.8 L605.1 202.1 L605.6 202.2 L606.1 202.3 L606.6 202.5 L607.1 202.4 L607.6 202.5 L608.1 202.5 L608.6 202.8 L609.1 203.0 L609.6 203.0 L610.1 203.2 L610.6 203.0 L611.1 203.0 L611.6 203.1 L612.1 203.2 L612.6 203.4 L613.1 203.6 L613.6 203.7 L614.1 203.7 L614.6 203.7 L615.1 203.6 L615.6 203.4 L616.1 203.3 L616.6 203.3 L617.1 203.3 L617.6 203.4 L618.1 203.5 L618.6 203.6 L619.1 203.6 L619.6 203.6 L620.1 203.5 L620.6 203.6 L621.1 203.7 L621.6 203.6 L622.1 203.7 L622.6 203.8 L623.1 203.9 L623.6 204.3 L624.1 204.4 L624.6 204.5 L625.1 204.6 L625.6 204.7 L626.1 204.9 L626.6 205.1 L627.1 205.2 L627.6 205.4 L628.1 205.5 L628.6 205.6 L629.1 205.7 L629.6 205.8 L630.1 205.9 L630.6 205.9 L631.1 206.0 L631.6 206.2 L632.1 206.3 L632.6 206.4 L633.1 206.5 L633.6 206.6 L634.1 206.7 L634.6 206.9 L635.1 207.2 L635.6 207.3 L636.1 207.4 L636.6 207.4 L637.1 207.6 L637.6 207.6 L638.1 207.9 L638.6 208.2 L639.1 208.2 L639.6 208.4 L640.1 208.3 L640.6 208.2 L641.1 208.5 L641.6 208.5 L642.1 208.7 L642.6 208.9 L643.1 209.1 L643.6 209.4 L644.1 209.6 L644.6 209.8 L645.1 209.9 L645.6 209.9 L646.1 210.1 L646.6 210.4 L647.1 210.6 L647.6 210.8 L648.1 210.8 L648.6 210.7 L649.1 210.9 L649.6 211.0 L650.1 211.2 L650.6 211.3" stroke="#a39b3a" stroke-width="2.4"/>
<path d="M379.6 217.6 L380.1 218.2 L380.6 219.0 L381.1 219.7 L381.6 220.4 L382.1 221.2 L382.6 221.9 L383.1 222.6 L383.6 223.3 L384.1 224.0 L384.6 224.5 L385.1 225.2 L385.6 225.6 L386.1 225.9 L386.6 226.3 L387.1 226.6 L387.6 226.9 L388.1 227.2 L388.6 227.3 L389.1 227.5 L389.6 227.7 L390.1 227.9 L390.6 228.3 L391.1 228.6 L391.6 229.0 L392.1 229.4 L392.6 229.4 L393.1 229.7 L393.6 229.9 L394.1 229.8 L394.6 229.9 L395.1 230.0 L395.6 229.8 L396.1 230.1 L396.6 230.3 L397.1 230.7 L397.6 231.0 L398.1 231.2 L398.6 231.4 L399.1 231.3 L399.6 231.5 L400.1 231.6 L400.6 231.9 L401.1 232.1 L401.6 232.1 L402.1 232.1 L402.6 232.2 L403.1 232.4 L403.6 232.7 L404.1 232.9 L404.6 232.9 L405.1 233.1 L405.6 233.1 L406.1 233.2 L406.6 233.2 L407.1 233.2 L407.6 233.1 L408.1 233.1 L408.6 233.2 L409.1 233.2 L409.6 233.3 L410.1 233.3 L410.6 233.4 L411.1 233.5 L411.6 233.7 L412.1 233.7 L412.6 233.6 L413.1 233.6 L413.6 233.5 L414.1 233.5 L414.6 233.4 L415.1 233.5 L415.6 233.5 L416.1 233.7 L416.6 233.9 L417.1 233.8 L417.6 233.9 L418.1 233.8 L418.6 233.7 L419.1 233.7 L419.6 233.8 L420.1 233.9 L420.6 234.0 L421.1 234.0 L421.6 234.1 L422.1 234.0 L422.6 234.0 L423.1 233.9 L423.6 233.9 L424.1 233.8 L424.6 233.9 L425.1 234.1 L425.6 234.1 L426.1 234.2 L426.6 234.0 L427.1 233.7 L427.6 233.7 L428.1 233.8 L428.6 233.8 L429.1 234.0 L429.6 233.9 L430.1 233.7 L430.6 233.8 L431.1 233.7 L431.6 233.8 L432.1 233.9 L432.6 233.8 L433.1 233.8 L433.6 233.6 L434.1 233.7 L434.6 233.6 L435.1 233.6 L435.6 233.7 L436.1 233.6 L436.6 233.7 L437.1 233.7 L437.6 233.5 L438.1 233.5 L438.6 233.4 L439.1 233.4 L439.6 233.4 L440.1 233.4 L440.6 233.3 L441.1 233.1 L441.6 233.1 L442.1 233.1 L442.6 233.2 L443.1 233.1 L443.6 232.9 L444.1 232.7 L444.6 232.4 L445.1 232.3 L445.6 232.4 L446.1 232.4 L446.6 232.4 L447.1 232.4 L447.6 232.1 L448.1 232.1 L448.6 232.0 L449.1 232.0 L449.6 231.9 L450.1 231.7 L450.6 231.3 L451.1 230.6 L451.6 229.7 L451.9 229.2 L452.1 229.0 L452.2 229.0 L452.4 229.1 L452.6 229.3 L453.1 230.2 L453.6 231.0 L454.1 231.4 L454.6 231.7 L455.1 231.8 L455.6 231.8 L456.1 231.9 L456.6 231.9 L457.1 231.8 L457.6 231.8 L458.1 231.7 L458.6 231.6 L459.1 231.6 L459.6 231.4 L460.1 231.3 L460.6 231.2 L461.1 231.2 L461.6 231.1 L462.1 231.0 L462.6 230.9 L463.1 230.7 L463.6 230.6 L464.1 230.3 L464.6 230.2 L465.1 230.1 L465.6 230.0 L466.1 229.7 L466.6 229.4 L467.1 229.3 L467.6 229.0 L468.1 229.1 L468.6 228.8 L469.1 228.5 L469.6 228.3 L470.1 228.0 L470.6 227.8 L471.1 227.4 L471.6 227.2 L472.1 227.0 L472.6 226.6 L473.1 226.3 L473.6 225.8 L474.1 225.2 L474.6 224.6 L475.1 223.8 L475.6 223.2 L476.1 222.5 L476.6 222.0 L477.1 221.6 L477.6 221.0 L478.1 220.4 L478.6 219.5 L479.1 218.4 L479.6 216.9 L480.1 215.0 L480.6 213.0 L480.9 212.2 L481.1 211.8 L481.4 211.9 L481.6 212.2 L482.1 213.6 L482.6 214.8 L483.1 215.7 L483.6 216.1 L484.1 216.3 L484.6 216.5 L485.1 216.5 L485.6 216.6 L486.1 216.7 L486.6 216.8 L487.1 217.1 L487.6 217.4 L488.1 217.9 L488.6 218.3 L489.1 218.7 L489.6 219.0 L490.1 219.3 L490.6 219.4 L491.1 219.5 L491.6 219.6 L492.1 219.6 L492.6 219.5 L493.1 219.5 L493.6 219.3 L494.1 219.0 L494.6 218.9 L495.1 218.6 L495.6 218.4 L496.1 218.2 L496.6 217.9 L497.1 217.6 L497.6 217.5 L498.1 217.5 L498.6 217.5 L499.1 217.4 L499.6 217.2 L500.1 217.0 L500.6 216.7 L501.1 216.5 L501.6 216.1 L502.1 215.8 L502.6 215.4 L503.1 215.1 L503.4 215.0 L503.6 214.9 L503.9 214.9 L504.1 214.9 L504.6 215.1 L505.1 215.4 L505.6 215.6 L506.1 215.7 L506.6 215.8 L507.1 215.9 L507.6 215.9 L508.1 215.9 L508.6 216.0 L509.1 216.0 L509.6 216.0 L510.1 215.8 L510.6 215.7 L511.1 215.5 L511.6 215.2 L512.1 215.0 L512.6 214.5 L513.1 214.2 L513.6 213.9 L514.1 213.5 L514.6 213.3 L515.1 213.0 L515.6 212.7 L516.1 212.5 L516.6 212.3 L517.1 211.9 L517.6 211.7 L518.1 211.3 L518.6 210.9 L519.1 210.6 L519.6 210.5 L520.1 210.4 L520.6 210.3 L521.1 210.2 L521.6 210.0 L522.1 209.8 L522.6 209.6 L523.1 209.3 L523.6 208.9 L524.1 208.5 L524.6 208.0 L525.1 207.3 L525.6 206.6 L526.1 205.9 L526.6 205.4 L526.6 205.4 L526.9 205.3 L527.1 205.3 L527.1 205.3 L527.6 205.6 L528.1 206.1 L528.6 206.6 L529.1 207.1 L529.6 207.5 L530.1 207.8 L530.6 208.0 L531.1 208.1 L531.6 208.2 L532.1 208.3 L532.6 208.3 L533.1 208.3 L533.6 208.3 L534.1 208.4 L534.6 208.5 L535.1 208.4 L535.6 208.4 L536.1 208.3 L536.6 208.2 L537.1 208.1 L537.6 208.0 L538.1 207.7 L538.6 207.4 L539.1 206.9 L539.6 206.4 L540.1 205.9 L540.6 205.3 L541.1 204.9 L541.1 204.9 L541.4 204.8 L541.6 204.8 L541.6 204.8 L542.1 205.1 L542.6 205.6 L543.1 206.2 L543.6 206.7 L544.1 207.0 L544.6 207.3 L545.1 207.5 L545.6 207.5 L546.1 207.6 L546.6 207.7 L547.1 207.7 L547.6 207.7 L548.1 207.7 L548.6 207.6 L549.1 207.6 L549.6 207.5 L550.1 207.5 L550.6 207.4 L551.1 207.4 L551.6 207.3 L552.1 207.3 L552.6 207.2 L553.1 207.2 L553.6 207.2 L554.1 207.1 L554.6 207.1 L555.1 206.9 L555.6 206.7 L556.1 206.6 L556.6 206.5 L557.1 206.6 L557.6 206.7 L558.1 206.7 L558.6 206.7 L559.1 206.5 L559.6 206.2 L560.1 206.2 L560.6 206.2 L561.1 206.3 L561.6 206.4 L562.1 206.2 L562.6 206.1 L563.1 206.1 L563.6 206.1 L564.1 206.1 L564.6 206.1 L565.1 206.1 L565.6 206.0 L566.1 205.9 L566.6 206.0 L567.1 205.8 L567.6 205.8 L568.1 205.9 L568.6 205.8 L569.1 205.8 L569.6 205.6 L570.1 205.6 L570.6 205.5 L571.1 205.3 L571.6 205.5 L572.1 205.6 L572.6 205.7 L573.1 205.8 L573.6 205.6 L574.1 205.4 L574.6 205.3 L575.1 205.4 L575.6 205.5 L576.1 205.8 L576.6 206.0 L577.1 206.3 L577.6 206.6 L578.1 206.9 L578.6 207.3 L579.1 207.6 L579.6 207.8 L580.1 208.1 L580.6 208.4 L581.1 208.6 L581.6 208.9 L582.1 209.1 L582.6 209.1 L583.1 209.1 L583.6 209.3 L584.1 209.4 L584.6 209.6 L585.1 209.7 L585.6 209.8 L586.1 210.0 L586.6 210.2 L587.1 210.4 L587.6 210.7 L588.1 210.7 L588.6 210.9 L589.1 211.1 L589.6 211.2 L590.1 211.4 L590.6 211.4 L591.1 211.5 L591.6 211.5 L592.1 211.6 L592.6 211.6 L593.1 211.6 L593.6 211.7 L594.1 211.8 L594.6 211.9 L595.1 211.8 L595.6 211.7 L596.1 211.5 L596.6 211.4 L597.1 211.2 L597.6 211.0 L598.1 211.1 L598.6 210.8 L599.1 210.8 L599.6 210.9 L600.1 210.8 L600.6 210.8 L601.1 210.9 L601.6 210.9 L602.1 210.9 L602.6 211.0 L603.1 210.9 L603.6 210.9 L604.1 210.9 L604.6 210.9 L605.1 211.1 L605.6 211.3 L606.1 211.5 L606.6 211.5 L607.1 211.5 L607.6 211.3 L608.1 211.4 L608.6 211.4 L609.1 211.5 L609.6 211.7 L610.1 211.6 L610.6 211.7 L611.1 211.8 L611.6 212.0 L612.1 212.1 L612.6 212.1 L613.1 212.1 L613.6 212.1 L614.1 212.0 L614.6 211.9 L615.1 212.0 L615.6 211.9 L616.1 211.9 L616.6 212.0 L617.1 212.0 L617.6 212.1 L618.1 212.3 L618.6 212.3 L619.1 212.2 L619.6 212.1 L620.1 212.1 L620.6 212.0 L621.1 212.2 L621.6 212.3 L622.1 212.2 L622.6 212.5 L623.1 212.5 L623.6 212.6 L624.1 212.7 L624.6 212.7 L625.1 212.8 L625.6 212.8 L626.1 212.9 L626.6 213.0 L627.1 213.1 L627.6 213.3 L628.1 213.2 L628.6 213.1 L629.1 213.3 L629.6 213.2 L630.1 213.4 L630.6 213.4 L631.1 213.3 L631.6 213.4 L632.1 213.5 L632.6 213.6 L633.1 213.7 L633.6 213.9 L634.1 213.8 L634.6 213.8 L635.1 213.9 L635.6 213.9 L636.1 214.0 L636.6 214.0 L637.1 214.1 L637.6 214.1 L638.1 214.4 L638.6 214.5 L639.1 214.5 L639.6 214.5 L640.1 214.5 L640.6 214.6 L641.1 214.8 L641.6 215.0 L642.1 215.2 L642.6 215.3 L643.1 215.5 L643.6 215.6 L644.1 215.5 L644.6 215.7 L645.1 215.8 L645.6 215.9 L646.1 216.1 L646.6 215.9 L647.1 216.1 L647.6 216.3 L648.1 216.4 L648.6 216.6 L649.1 216.5 L649.6 216.5 L650.1 216.7 L650.6 216.8" stroke="#962032" stroke-width="2.1"/>
<path d="M379.6 217.7 L380.1 218.3 L380.6 219.2 L381.1 220.0 L381.6 220.8 L382.1 221.5 L382.6 222.1 L383.1 222.8 L383.6 223.4 L384.1 224.0 L384.6 224.6 L385.1 225.2 L385.6 225.6 L386.1 226.0 L386.6 226.2 L387.1 226.5 L387.6 227.0 L388.1 227.3 L388.6 227.6 L389.1 227.8 L389.6 227.8 L390.1 228.0 L390.6 228.4 L391.1 228.7 L391.6 228.9 L392.1 229.1 L392.6 229.4 L393.1 229.6 L393.6 229.8 L394.1 229.9 L394.6 230.1 L395.1 230.3 L395.6 230.5 L396.1 230.8 L396.6 230.8 L397.1 230.9 L397.6 231.1 L398.1 231.3 L398.6 231.4 L399.1 231.4 L399.6 231.5 L400.1 231.6 L400.6 231.8 L401.1 232.0 L401.6 232.2 L402.1 232.3 L402.6 232.4 L403.1 232.5 L403.6 232.6 L404.1 232.7 L404.6 232.8 L405.1 232.9 L405.6 233.0 L406.1 233.0 L406.6 233.2 L407.1 233.1 L407.6 233.2 L408.1 233.3 L408.6 233.3 L409.1 233.5 L409.6 233.6 L410.1 233.7 L410.6 233.8 L411.1 233.9 L411.6 234.0 L412.1 234.0 L412.6 234.1 L413.1 234.1 L413.6 233.9 L414.1 233.9 L414.6 234.0 L415.1 234.0 L415.6 234.1 L416.1 234.2 L416.6 234.3 L417.1 234.4 L417.6 234.5 L418.1 234.5 L418.6 234.5 L419.1 234.5 L419.6 234.6 L420.1 234.7 L420.6 234.6 L421.1 234.8 L421.6 234.7 L422.1 234.8 L422.6 234.9 L423.1 234.9 L423.6 235.1 L424.1 234.9 L424.6 234.9 L425.1 234.9 L425.6 234.9 L426.1 235.0 L426.6 235.0 L427.1 234.9 L427.6 234.9 L428.1 235.0 L428.6 234.9 L429.1 234.9 L429.6 234.7 L430.1 234.7 L430.6 234.7 L431.1 234.7 L431.6 234.7 L432.1 234.6 L432.6 234.6 L433.1 234.6 L433.6 234.5 L434.1 234.6 L434.6 234.5 L435.1 234.4 L435.6 234.4 L436.1 234.4 L436.6 234.3 L437.1 234.4 L437.6 234.3 L438.1 234.4 L438.6 234.4 L439.1 234.4 L439.6 234.4 L440.1 234.3 L440.6 234.2 L441.1 234.2 L441.6 234.0 L442.1 233.9 L442.6 234.0 L443.1 234.0 L443.6 234.0 L444.1 234.0 L444.6 233.9 L445.1 233.9 L445.6 233.9 L446.1 233.9 L446.6 233.9 L447.1 233.9 L447.6 233.9 L448.1 233.9 L448.6 233.8 L449.1 233.8 L449.6 233.7 L450.1 233.6 L450.6 233.6 L451.1 233.4 L451.6 233.4 L452.1 233.4 L452.6 233.3 L453.1 233.3 L453.6 233.1 L454.1 233.1 L454.6 233.0 L455.1 233.0 L455.6 232.9 L456.1 232.7 L456.6 232.7 L457.1 232.6 L457.6 232.8 L458.1 232.8 L458.6 232.7 L459.1 232.7 L459.6 232.5 L460.1 232.5 L460.6 232.6 L461.1 232.6 L461.6 232.4 L462.1 232.4 L462.6 232.3 L463.1 232.2 L463.6 232.3 L464.1 232.1 L464.6 232.1 L465.1 231.9 L465.6 231.7 L466.1 231.6 L466.6 231.5 L467.1 231.5 L467.6 231.5 L468.1 231.4 L468.6 231.4 L469.1 231.2 L469.6 231.1 L470.1 231.0 L470.6 230.9 L471.1 230.8 L471.6 230.6 L472.1 230.4 L472.6 230.2 L473.1 229.8 L473.6 229.6 L474.1 229.2 L474.6 228.9 L475.1 228.6 L475.6 228.2 L476.1 227.9 L476.6 227.5 L477.1 227.2 L477.6 227.0 L478.1 226.7 L478.6 226.5 L479.1 226.1 L479.6 225.7 L480.1 225.3 L480.6 224.9 L481.1 224.3 L481.6 223.7 L482.1 223.2 L482.1 223.2 L482.4 223.0 L482.6 223.0 L482.6 223.0 L483.1 223.0 L483.6 223.2 L484.1 223.4 L484.6 223.6 L485.1 223.7 L485.6 223.7 L486.1 223.8 L486.6 223.9 L487.1 223.9 L487.6 224.0 L488.1 224.0 L488.6 224.0 L489.1 224.0 L489.6 224.1 L490.1 224.2 L490.6 224.2 L491.1 224.3 L491.6 224.3 L492.1 224.2 L492.6 224.1 L493.1 224.0 L493.6 224.0 L494.1 223.9 L494.6 223.7 L495.1 223.6 L495.6 223.4 L496.1 223.2 L496.6 223.1 L497.1 223.0 L497.6 222.9 L498.1 222.7 L498.6 222.5 L499.1 222.3 L499.6 222.0 L500.1 221.7 L500.6 221.5 L501.1 221.3 L501.6 221.2 L502.1 221.1 L502.6 221.0 L503.1 220.9 L503.6 220.5 L504.1 220.5 L504.6 220.2 L505.1 220.0 L505.6 220.0 L506.1 219.7 L506.6 219.5 L507.1 219.4 L507.6 219.3 L508.1 219.2 L508.6 219.1 L509.1 218.9 L509.6 218.6 L510.1 218.2 L510.6 218.1 L511.1 217.8 L511.6 217.6 L512.1 217.4 L512.6 217.2 L513.1 217.0 L513.6 216.9 L514.1 216.7 L514.6 216.7 L515.1 216.6 L515.6 216.4 L516.1 216.3 L516.6 216.2 L517.1 216.1 L517.6 215.9 L518.1 215.9 L518.6 215.8 L519.1 215.5 L519.6 215.5 L520.1 215.3 L520.6 215.0 L521.1 215.1 L521.6 214.9 L522.1 214.8 L522.6 214.8 L523.1 214.5 L523.6 214.4 L524.1 214.2 L524.6 214.3 L525.1 214.3 L525.6 214.2 L526.1 214.2 L526.6 214.1 L527.1 214.0 L527.6 214.1 L528.1 214.2 L528.6 214.2 L529.1 214.2 L529.6 214.2 L530.1 213.9 L530.6 213.9 L531.1 213.9 L531.6 213.8 L532.1 213.8 L532.6 213.8 L533.1 213.7 L533.6 213.6 L534.1 213.7 L534.6 213.8 L535.1 213.7 L535.6 213.7 L536.1 213.7 L536.6 213.6 L537.1 213.6 L537.6 213.6 L538.1 213.6 L538.6 213.6 L539.1 213.7 L539.6 213.7 L540.1 213.6 L540.6 213.6 L541.1 213.6 L541.6 213.7 L542.1 213.7 L542.6 213.7 L543.1 213.7 L543.6 213.8 L544.1 213.7 L544.6 213.7 L545.1 213.7 L545.6 213.6 L546.1 213.7 L546.6 213.7 L547.1 213.8 L547.6 213.8 L548.1 213.8 L548.6 214.0 L549.1 213.9 L549.6 213.9 L550.1 214.0 L550.6 214.0 L551.1 214.0 L551.6 214.1 L552.1 214.1 L552.6 214.2 L553.1 214.2 L553.6 214.3 L554.1 214.4 L554.6 214.3 L555.1 214.2 L555.6 214.2 L556.1 214.1 L556.6 214.1 L557.1 214.1 L557.6 214.1 L558.1 214.2 L558.6 214.0 L559.1 214.1 L559.6 214.1 L560.1 214.1 L560.6 214.1 L561.1 214.0 L561.6 214.0 L562.1 214.0 L562.6 214.0 L563.1 213.9 L563.6 213.9 L564.1 213.7 L564.6 213.8 L565.1 213.9 L565.6 213.9 L566.1 214.0 L566.6 214.0 L567.1 214.0 L567.6 213.9 L568.1 213.8 L568.6 213.8 L569.1 213.9 L569.6 214.0 L570.1 214.2 L570.6 214.1 L571.1 214.2 L571.6 214.2 L572.1 214.1 L572.6 214.1 L573.1 213.9 L573.6 214.0 L574.1 213.9 L574.6 214.1 L575.1 214.2 L575.6 214.2 L576.1 214.3 L576.6 214.3 L577.1 214.5 L577.6 214.7 L578.1 214.9 L578.6 215.0 L579.1 215.0 L579.6 215.1 L580.1 215.2 L580.6 215.3 L581.1 215.5 L581.6 215.5 L582.1 215.6 L582.6 215.7 L583.1 215.7 L583.6 216.0 L584.1 216.2 L584.6 216.4 L585.1 216.5 L585.6 216.5 L586.1 216.6 L586.6 216.7 L587.1 216.9 L587.6 217.0 L588.1 217.1 L588.6 217.3 L589.1 217.4 L589.6 217.5 L590.1 217.7 L590.6 217.8 L591.1 217.9 L591.6 218.0 L592.1 218.0 L592.6 218.0 L593.1 218.0 L593.6 218.0 L594.1 218.0 L594.6 218.1 L595.1 218.1 L595.6 217.9 L596.1 217.9 L596.6 217.7 L597.1 217.8 L597.6 217.8 L598.1 217.6 L598.6 217.6 L599.1 217.4 L599.6 217.3 L600.1 217.3 L600.6 217.3 L601.1 217.4 L601.6 217.5 L602.1 217.5 L602.6 217.6 L603.1 217.7 L603.6 217.8 L604.1 217.8 L604.6 217.8 L605.1 217.7 L605.6 217.5 L606.1 217.6 L606.6 217.7 L607.1 217.8 L607.6 217.8 L608.1 217.8 L608.6 217.9 L609.1 218.0 L609.6 218.2 L610.1 218.2 L610.6 218.2 L611.1 218.0 L611.6 217.9 L612.1 218.0 L612.6 218.0 L613.1 218.1 L613.6 218.1 L614.1 218.2 L614.6 218.3 L615.1 218.3 L615.6 218.4 L616.1 218.4 L616.6 218.4 L617.1 218.5 L617.6 218.5 L618.1 218.6 L618.6 218.6 L619.1 218.6 L619.6 218.5 L620.1 218.6 L620.6 218.6 L621.1 218.6 L621.6 218.7 L622.1 218.7 L622.6 218.8 L623.1 218.9 L623.6 219.0 L624.1 219.0 L624.6 219.0 L625.1 218.9 L625.6 218.9 L626.1 219.0 L626.6 219.0 L627.1 219.1 L627.6 219.2 L628.1 219.3 L628.6 219.4 L629.1 219.5 L629.6 219.5 L630.1 219.5 L630.6 219.6 L631.1 219.7 L631.6 219.8 L632.1 219.7 L632.6 219.7 L633.1 219.6 L633.6 219.6 L634.1 219.6 L634.6 219.7 L635.1 219.7 L635.6 219.7 L636.1 219.8 L636.6 219.8 L637.1 220.0 L637.6 220.0 L638.1 220.1 L638.6 220.0 L639.1 220.1 L639.6 220.2 L640.1 220.2 L640.6 220.4 L641.1 220.5 L641.6 220.6 L642.1 220.6 L642.6 220.8 L643.1 220.8 L643.6 220.8 L644.1 221.0 L644.6 221.1 L645.1 221.2 L645.6 221.5 L646.1 221.6 L646.6 221.7 L647.1 221.7 L647.6 221.6 L648.1 221.7 L648.6 221.7 L649.1 221.9 L649.6 221.9 L650.1 222.1 L650.6 222.1" stroke="#0e8a44" stroke-width="2.5"/>
<path d="M379.6 217.9 L380.1 218.6 L380.6 219.2 L381.1 220.0 L381.6 220.7 L382.1 221.4 L382.6 222.0 L383.1 222.7 L383.6 223.4 L384.1 224.1 L384.6 224.6 L385.1 225.1 L385.6 225.5 L386.1 225.9 L386.6 226.4 L387.1 226.7 L387.6 227.0 L388.1 227.2 L388.6 227.5 L389.1 227.9 L389.6 228.3 L390.1 228.4 L390.6 228.7 L391.1 228.8 L391.6 229.0 L392.1 229.3 L392.6 229.4 L393.1 229.6 L393.6 229.9 L394.1 230.1 L394.6 230.2 L395.1 230.5 L395.6 230.5 L396.1 230.8 L396.6 230.9 L397.1 231.0 L397.6 231.2 L398.1 231.2 L398.6 231.4 L399.1 231.6 L399.6 231.6 L400.1 231.8 L400.6 232.0 L401.1 232.0 L401.6 232.2 L402.1 232.3 L402.6 232.4 L403.1 232.5 L403.6 232.6 L404.1 232.7 L404.6 232.7 L405.1 232.9 L405.6 232.9 L406.1 233.0 L406.6 233.1 L407.1 233.1 L407.6 233.3 L408.1 233.4 L408.6 233.5 L409.1 233.7 L409.6 233.7 L410.1 233.7 L410.6 233.7 L411.1 233.9 L411.6 233.9 L412.1 234.0 L412.6 234.1 L413.1 234.1 L413.6 234.2 L414.1 234.2 L414.6 234.3 L415.1 234.4 L415.6 234.4 L416.1 234.5 L416.6 234.6 L417.1 234.8 L417.6 234.9 L418.1 235.0 L418.6 234.9 L419.1 234.9 L419.6 234.9 L420.1 235.0 L420.6 235.1 L421.1 235.1 L421.6 235.0 L422.1 235.0 L422.6 235.0 L423.1 235.2 L423.6 235.2 L424.1 235.2 L424.6 235.2 L425.1 235.1 L425.6 235.2 L426.1 235.2 L426.6 235.1 L427.1 235.3 L427.6 235.2 L428.1 235.2 L428.6 235.3 L429.1 235.2 L429.6 235.2 L430.1 235.2 L430.6 235.1 L431.1 235.0 L431.6 235.1 L432.1 235.1 L432.6 235.0 L433.1 235.0 L433.6 235.0 L434.1 235.0 L434.6 235.0 L435.1 235.1 L435.6 235.1 L436.1 235.1 L436.6 235.1 L437.1 235.1 L437.6 235.2 L438.1 235.1 L438.6 235.1 L439.1 235.1 L439.6 235.0 L440.1 235.0 L440.6 235.0 L441.1 235.0 L441.6 234.9 L442.1 234.9 L442.6 234.9 L443.1 234.9 L443.6 234.9 L444.1 235.0 L444.6 235.0 L445.1 235.0 L445.6 235.0 L446.1 235.0 L446.6 235.0 L447.1 234.9 L447.6 234.9 L448.1 234.9 L448.6 234.8 L449.1 234.7 L449.6 234.7 L450.1 234.6 L450.6 234.5 L451.1 234.5 L451.6 234.5 L452.1 234.5 L452.6 234.6 L453.1 234.6 L453.6 234.5 L454.1 234.5 L454.6 234.6 L455.1 234.7 L455.6 234.7 L456.1 234.7 L456.6 234.6 L457.1 234.5 L457.6 234.5 L458.1 234.4 L458.6 234.2 L459.1 234.2 L459.6 234.1 L460.1 234.1 L460.6 234.1 L461.1 234.2 L461.6 234.2 L462.1 234.1 L462.6 234.2 L463.1 234.3 L463.6 234.3 L464.1 234.4 L464.6 234.2 L465.1 234.1 L465.6 234.0 L466.1 233.8 L466.6 233.8 L467.1 233.8 L467.6 233.7 L468.1 233.6 L468.6 233.6 L469.1 233.6 L469.6 233.6 L470.1 233.7 L470.6 233.7 L471.1 233.5 L471.6 233.5 L472.1 233.4 L472.6 233.4 L473.1 233.4 L473.6 233.3 L474.1 233.1 L474.6 232.9 L475.1 232.8 L475.6 232.8 L476.1 232.7 L476.6 232.7 L477.1 232.5 L477.6 232.4 L478.1 232.3 L478.6 232.1 L479.1 232.0 L479.6 231.9 L480.1 231.8 L480.6 231.8 L481.1 231.7 L481.6 231.5 L482.1 231.4 L482.6 231.3 L483.1 231.1 L483.6 231.1 L484.1 231.0 L484.6 230.8 L485.1 230.7 L485.6 230.7 L486.1 230.6 L486.6 230.6 L487.1 230.6 L487.6 230.6 L488.1 230.4 L488.6 230.5 L489.1 230.6 L489.6 230.7 L490.1 230.7 L490.6 230.6 L491.1 230.6 L491.6 230.5 L492.1 230.5 L492.6 230.4 L493.1 230.3 L493.6 230.3 L494.1 230.2 L494.6 230.1 L495.1 230.1 L495.6 229.9 L496.1 229.9 L496.6 230.0 L497.1 230.0 L497.6 230.1 L498.1 230.1 L498.6 230.0 L499.1 230.0 L499.6 229.9 L500.1 229.8 L500.6 229.7 L501.1 229.7 L501.6 229.5 L502.1 229.5 L502.6 229.4 L503.1 229.4 L503.6 229.5 L504.1 229.5 L504.6 229.5 L505.1 229.4 L505.6 229.4 L506.1 229.2 L506.6 229.2 L507.1 229.1 L507.6 229.2 L508.1 229.2 L508.6 229.1 L509.1 229.1 L509.6 229.0 L510.1 228.9 L510.6 228.9 L511.1 228.9 L511.6 228.9 L512.1 228.8 L512.6 228.7 L513.1 228.7 L513.6 228.6 L514.1 228.5 L514.6 228.5 L515.1 228.5 L515.6 228.4 L516.1 228.5 L516.6 228.4 L517.1 228.4 L517.6 228.4 L518.1 228.4 L518.6 228.4 L519.1 228.5 L519.6 228.4 L520.1 228.3 L520.6 228.2 L521.1 228.1 L521.6 228.0 L522.1 228.0 L522.6 227.9 L523.1 227.9 L523.6 228.0 L524.1 227.9 L524.6 227.9 L525.1 227.8 L525.6 227.7 L526.1 227.8 L526.6 227.8 L527.1 227.7 L527.6 227.6 L528.1 227.6 L528.6 227.6 L529.1 227.7 L529.6 227.5 L530.1 227.4 L530.6 227.3 L531.1 227.3 L531.6 227.3 L532.1 227.3 L532.6 227.2 L533.1 227.2 L533.6 227.2 L534.1 227.3 L534.6 227.3 L535.1 227.3 L535.6 227.2 L536.1 227.0 L536.6 227.0 L537.1 227.1 L537.6 227.0 L538.1 227.0 L538.6 227.0 L539.1 227.0 L539.6 227.0 L540.1 227.0 L540.6 227.1 L541.1 226.9 L541.6 227.0 L542.1 226.9 L542.6 226.8 L543.1 226.9 L543.6 226.9 L544.1 226.8 L544.6 226.8 L545.1 226.7 L545.6 226.7 L546.1 226.6 L546.6 226.7 L547.1 226.8 L547.6 226.8 L548.1 226.9 L548.6 226.7 L549.1 226.8 L549.6 226.7 L550.1 226.7 L550.6 226.8 L551.1 226.7 L551.6 226.8 L552.1 226.7 L552.6 226.7 L553.1 226.7 L553.6 226.6 L554.1 226.7 L554.6 226.7 L555.1 226.7 L555.6 226.7 L556.1 226.7 L556.6 226.7 L557.1 226.7 L557.6 226.7 L558.1 226.7 L558.6 226.8 L559.1 226.8 L559.6 226.8 L560.1 226.7 L560.6 226.6 L561.1 226.6 L561.6 226.7 L562.1 226.7 L562.6 226.6 L563.1 226.6 L563.6 226.5 L564.1 226.5 L564.6 226.6 L565.1 226.5 L565.6 226.5 L566.1 226.5 L566.6 226.5 L567.1 226.6 L567.6 226.7 L568.1 226.8 L568.6 226.8 L569.1 226.8 L569.6 226.8 L570.1 226.7 L570.6 226.7 L571.1 226.7 L571.6 226.7 L572.1 226.7 L572.6 226.5 L573.1 226.5 L573.6 226.5 L574.1 226.5 L574.6 226.6 L575.1 226.5 L575.6 226.6 L576.1 226.6 L576.6 226.6 L577.1 226.7 L577.6 226.7 L578.1 226.8 L578.6 226.9 L579.1 226.9 L579.6 226.9 L580.1 226.9 L580.6 227.0 L581.1 227.0 L581.6 227.1 L582.1 227.2 L582.6 227.2 L583.1 227.4 L583.6 227.5 L584.1 227.6 L584.6 227.7 L585.1 227.8 L585.6 227.9 L586.1 228.0 L586.6 228.0 L587.1 228.1 L587.6 228.2 L588.1 228.2 L588.6 228.3 L589.1 228.3 L589.6 228.4 L590.1 228.5 L590.6 228.6 L591.1 228.6 L591.6 228.7 L592.1 228.7 L592.6 228.7 L593.1 228.7 L593.6 228.7 L594.1 228.6 L594.6 228.7 L595.1 228.7 L595.6 228.8 L596.1 228.8 L596.6 228.7 L597.1 228.7 L597.6 228.6 L598.1 228.5 L598.6 228.6 L599.1 228.5 L599.6 228.6 L600.1 228.6 L600.6 228.6 L601.1 228.7 L601.6 228.6 L602.1 228.6 L602.6 228.6 L603.1 228.6 L603.6 228.5 L604.1 228.5 L604.6 228.5 L605.1 228.4 L605.6 228.5 L606.1 228.5 L606.6 228.5 L607.1 228.4 L607.6 228.4 L608.1 228.4 L608.6 228.3 L609.1 228.3 L609.6 228.3 L610.1 228.3 L610.6 228.3 L611.1 228.3 L611.6 228.3 L612.1 228.3 L612.6 228.3 L613.1 228.2 L613.6 228.1 L614.1 228.1 L614.6 228.0 L615.1 228.0 L615.6 228.2 L616.1 228.2 L616.6 228.2 L617.1 228.4 L617.6 228.4 L618.1 228.4 L618.6 228.5 L619.1 228.4 L619.6 228.4 L620.1 228.3 L620.6 228.3 L621.1 228.4 L621.6 228.4 L622.1 228.5 L622.6 228.5 L623.1 228.5 L623.6 228.6 L624.1 228.6 L624.6 228.5 L625.1 228.6 L625.6 228.5 L626.1 228.6 L626.6 228.6 L627.1 228.7 L627.6 228.6 L628.1 228.7 L628.6 228.6 L629.1 228.6 L629.6 228.7 L630.1 228.6 L630.6 228.6 L631.1 228.6 L631.6 228.7 L632.1 228.9 L632.6 228.9 L633.1 229.0 L633.6 229.0 L634.1 228.9 L634.6 229.0 L635.1 229.0 L635.6 229.1 L636.1 229.1 L636.6 229.1 L637.1 229.1 L637.6 229.2 L638.1 229.3 L638.6 229.3 L639.1 229.3 L639.6 229.3 L640.1 229.3 L640.6 229.2 L641.1 229.3 L641.6 229.2 L642.1 229.3 L642.6 229.4 L643.1 229.6 L643.6 229.7 L644.1 229.6 L644.6 229.6 L645.1 229.6 L645.6 229.7 L646.1 229.7 L646.6 229.8 L647.1 229.8 L647.6 229.7 L648.1 229.9 L648.6 229.9 L649.1 230.0 L649.6 230.0 L650.1 230.0 L650.6 230.0" stroke="#ad40b6" stroke-width="2.1"/>
<path d="M379.6 218.0 L380.1 218.7 L380.6 219.3 L381.1 220.1 L381.6 220.8 L382.1 221.5 L382.6 222.3 L383.1 223.0 L383.6 223.7 L384.1 224.3 L384.6 224.8 L385.1 225.3 L385.6 225.8 L386.1 226.1 L386.6 226.4 L387.1 226.8 L387.6 227.0 L388.1 227.3 L388.6 227.6 L389.1 227.8 L389.6 228.1 L390.1 228.4 L390.6 228.7 L391.1 229.0 L391.6 229.2 L392.1 229.4 L392.6 229.5 L393.1 229.7 L393.6 229.9 L394.1 230.1 L394.6 230.3 L395.1 230.4 L395.6 230.6 L396.1 230.7 L396.6 230.9 L397.1 231.1 L397.6 231.2 L398.1 231.3 L398.6 231.4 L399.1 231.6 L399.6 231.7 L400.1 231.9 L400.6 232.1 L401.1 232.2 L401.6 232.2 L402.1 232.3 L402.6 232.3 L403.1 232.5 L403.6 232.7 L404.1 232.8 L404.6 233.0 L405.1 233.1 L405.6 233.1 L406.1 233.1 L406.6 233.2 L407.1 233.3 L407.6 233.4 L408.1 233.5 L408.6 233.6 L409.1 233.7 L409.6 233.8 L410.1 233.8 L410.6 233.9 L411.1 234.0 L411.6 234.1 L412.1 234.2 L412.6 234.3 L413.1 234.3 L413.6 234.4 L414.1 234.5 L414.6 234.5 L415.1 234.6 L415.6 234.7 L416.1 234.7 L416.6 234.8 L417.1 234.8 L417.6 234.9 L418.1 235.0 L418.6 235.0 L419.1 235.1 L419.6 235.1 L420.1 235.1 L420.6 235.2 L421.1 235.3 L421.6 235.3 L422.1 235.4 L422.6 235.4 L423.1 235.4 L423.6 235.5 L424.1 235.4 L424.6 235.5 L425.1 235.5 L425.6 235.5 L426.1 235.6 L426.6 235.6 L427.1 235.6 L427.6 235.6 L428.1 235.6 L428.6 235.7 L429.1 235.7 L429.6 235.8 L430.1 235.8 L430.6 235.9 L431.1 235.9 L431.6 235.9 L432.1 235.9 L432.6 235.9 L433.1 235.9 L433.6 235.9 L434.1 235.9 L434.6 235.9 L435.1 235.9 L435.6 236.0 L436.1 236.0 L436.6 236.1 L437.1 236.0 L437.6 236.1 L438.1 236.1 L438.6 236.1 L439.1 236.2 L439.6 236.1 L440.1 236.1 L440.6 236.1 L441.1 236.0 L441.6 236.1 L442.1 236.1 L442.6 236.1 L443.1 236.1 L443.6 236.1 L444.1 236.2 L444.6 236.3 L445.1 236.3 L445.6 236.2 L446.1 236.2 L446.6 236.2 L447.1 236.1 L447.6 236.1 L448.1 236.1 L448.6 236.1 L449.1 236.2 L449.6 236.2 L450.1 236.2 L450.6 236.3 L451.1 236.3 L451.6 236.3 L452.1 236.3 L452.6 236.3 L453.1 236.3 L453.6 236.3 L454.1 236.4 L454.6 236.3 L455.1 236.2 L455.6 236.2 L456.1 236.2 L456.6 236.3 L457.1 236.4 L457.6 236.3 L458.1 236.3 L458.6 236.3 L459.1 236.3 L459.6 236.3 L460.1 236.3 L460.6 236.3 L461.1 236.3 L461.6 236.3 L462.1 236.3 L462.6 236.3 L463.1 236.3 L463.6 236.3 L464.1 236.3 L464.6 236.3 L465.1 236.3 L465.6 236.3 L466.1 236.3 L466.6 236.3 L467.1 236.3 L467.6 236.2 L468.1 236.2 L468.6 236.2 L469.1 236.2 L469.6 236.2 L470.1 236.2 L470.6 236.2 L471.1 236.2 L471.6 236.2 L472.1 236.2 L472.6 236.2 L473.1 236.2 L473.6 236.1 L474.1 236.1 L474.6 236.0 L475.1 235.9 L475.6 236.0 L476.1 236.0 L476.6 236.0 L477.1 236.0 L477.6 236.0 L478.1 236.0 L478.6 236.0 L479.1 235.9 L479.6 235.9 L480.1 235.9 L480.6 235.9 L481.1 235.8 L481.6 235.8 L482.1 235.8 L482.6 235.9 L483.1 235.8 L483.6 235.9 L484.1 235.9 L484.6 235.9 L485.1 235.9 L485.6 235.9 L486.1 235.9 L486.6 235.9 L487.1 235.9 L487.6 236.0 L488.1 236.0 L488.6 236.0 L489.1 236.0 L489.6 236.0 L490.1 236.0 L490.6 236.0 L491.1 236.0 L491.6 235.9 L492.1 235.9 L492.6 236.0 L493.1 236.1 L493.6 236.1 L494.1 236.0 L494.6 236.0 L495.1 236.0 L495.6 236.1 L496.1 236.1 L496.6 236.1 L497.1 236.1 L497.6 236.2 L498.1 236.3 L498.6 236.3 L499.1 236.4 L499.6 236.3 L500.1 236.3 L500.6 236.3 L501.1 236.3 L501.6 236.4 L502.1 236.4 L502.6 236.5 L503.1 236.6 L503.6 236.5 L504.1 236.5 L504.6 236.5 L505.1 236.5 L505.6 236.6 L506.1 236.7 L506.6 236.7 L507.1 236.7 L507.6 236.7 L508.1 236.6 L508.6 236.7 L509.1 236.7 L509.6 236.7 L510.1 236.8 L510.6 236.8 L511.1 236.8 L511.6 236.9 L512.1 236.9 L512.6 236.9 L513.1 237.0 L513.6 236.9 L514.1 236.9 L514.6 236.9 L515.1 236.9 L515.6 236.9 L516.1 236.9 L516.6 236.8 L517.1 236.8 L517.6 236.9 L518.1 236.8 L518.6 236.9 L519.1 236.8 L519.6 236.8 L520.1 236.8 L520.6 236.8 L521.1 236.8 L521.6 236.8 L522.1 236.8 L522.6 236.8 L523.1 236.8 L523.6 236.7 L524.1 236.8 L524.6 236.7 L525.1 236.7 L525.6 236.7 L526.1 236.7 L526.6 236.7 L527.1 236.7 L527.6 236.7 L528.1 236.6 L528.6 236.6 L529.1 236.5 L529.6 236.6 L530.1 236.6 L530.6 236.6 L531.1 236.6 L531.6 236.5 L532.1 236.5 L532.6 236.5 L533.1 236.5 L533.6 236.5 L534.1 236.5 L534.6 236.5 L535.1 236.4 L535.6 236.4 L536.1 236.4 L536.6 236.4 L537.1 236.4 L537.6 236.4 L538.1 236.4 L538.6 236.4 L539.1 236.4 L539.6 236.3 L540.1 236.3 L540.6 236.3 L541.1 236.2 L541.6 236.3 L542.1 236.2 L542.6 236.2 L543.1 236.2 L543.6 236.2 L544.1 236.3 L544.6 236.3 L545.1 236.3 L545.6 236.2 L546.1 236.2 L546.6 236.3 L547.1 236.3 L547.6 236.3 L548.1 236.2 L548.6 236.2 L549.1 236.3 L549.6 236.3 L550.1 236.4 L550.6 236.4 L551.1 236.4 L551.6 236.4 L552.1 236.4 L552.6 236.3 L553.1 236.4 L553.6 236.4 L554.1 236.3 L554.6 236.3 L555.1 236.3 L555.6 236.3 L556.1 236.4 L556.6 236.4 L557.1 236.4 L557.6 236.4 L558.1 236.4 L558.6 236.3 L559.1 236.3 L559.6 236.3 L560.1 236.3 L560.6 236.3 L561.1 236.3 L561.6 236.3 L562.1 236.4 L562.6 236.4 L563.1 236.4 L563.6 236.4 L564.1 236.4 L564.6 236.3 L565.1 236.4 L565.6 236.4 L566.1 236.4 L566.6 236.4 L567.1 236.5 L567.6 236.4 L568.1 236.5 L568.6 236.5 L569.1 236.5 L569.6 236.5 L570.1 236.5 L570.6 236.5 L571.1 236.4 L571.6 236.5 L572.1 236.5 L572.6 236.6 L573.1 236.6 L573.6 236.6 L574.1 236.6 L574.6 236.5 L575.1 236.5 L575.6 236.6 L576.1 236.6 L576.6 236.6 L577.1 236.6 L577.6 236.6 L578.1 236.6 L578.6 236.6 L579.1 236.6 L579.6 236.6 L580.1 236.6 L580.6 236.6 L581.1 236.6 L581.6 236.6 L582.1 236.6 L582.6 236.6 L583.1 236.6 L583.6 236.7 L584.1 236.7 L584.6 236.7 L585.1 236.7 L585.6 236.7 L586.1 236.7 L586.6 236.7 L587.1 236.6 L587.6 236.6 L588.1 236.6 L588.6 236.5 L589.1 236.5 L589.6 236.6 L590.1 236.7 L590.6 236.7 L591.1 236.8 L591.6 236.7 L592.1 236.7 L592.6 236.8 L593.1 236.7 L593.6 236.8 L594.1 236.7 L594.6 236.7 L595.1 236.7 L595.6 236.7 L596.1 236.7 L596.6 236.7 L597.1 236.7 L597.6 236.6 L598.1 236.7 L598.6 236.7 L599.1 236.8 L599.6 236.8 L600.1 236.9 L600.6 236.9 L601.1 236.9 L601.6 236.9 L602.1 236.9 L602.6 236.9 L603.1 236.9 L603.6 236.8 L604.1 236.7 L604.6 236.7 L605.1 236.6 L605.6 236.7 L606.1 236.8 L606.6 236.8 L607.1 236.8 L607.6 236.8 L608.1 236.8 L608.6 236.9 L609.1 236.9 L609.6 236.9 L610.1 236.9 L610.6 236.9 L611.1 236.9 L611.6 236.9 L612.1 237.0 L612.6 237.0 L613.1 237.0 L613.6 237.0 L614.1 236.9 L614.6 237.0 L615.1 236.9 L615.6 236.9 L616.1 236.9 L616.6 236.8 L617.1 236.8 L617.6 236.9 L618.1 237.0 L618.6 237.0 L619.1 237.0 L619.6 237.0 L620.1 237.0 L620.6 237.0 L621.1 237.0 L621.6 236.9 L622.1 236.9 L622.6 236.9 L623.1 236.9 L623.6 236.9 L624.1 237.0 L624.6 237.0 L625.1 237.1 L625.6 237.1 L626.1 237.0 L626.6 237.0 L627.1 237.0 L627.6 237.0 L628.1 237.0 L628.6 237.0 L629.1 237.0 L629.6 237.0 L630.1 237.1 L630.6 237.1 L631.1 237.1 L631.6 237.0 L632.1 237.0 L632.6 237.0 L633.1 237.0 L633.6 237.0 L634.1 237.0 L634.6 237.1 L635.1 237.1 L635.6 237.0 L636.1 237.0 L636.6 237.0 L637.1 237.1 L637.6 237.1 L638.1 237.1 L638.6 237.1 L639.1 237.1 L639.6 237.1 L640.1 237.1 L640.6 237.1 L641.1 237.2 L641.6 237.2 L642.1 237.2 L642.6 237.2 L643.1 237.2 L643.6 237.1 L644.1 237.1 L644.6 237.1 L645.1 237.1 L645.6 237.2 L646.1 237.1 L646.6 237.1 L647.1 237.2 L647.6 237.2 L648.1 237.3 L648.6 237.3 L649.1 237.2 L649.6 237.2 L650.1 237.2 L650.6 237.2" stroke="#f42428" stroke-width="2.3"/>
</g>
<g stroke="#1c1c1c" stroke-width="2" fill="none" stroke-linecap="butt">
<rect x="75.4" y="78.8" width="574.6" height="355.3"/>
<path d="M108.3 434.1V426.1M162.5 434.1V429.6M216.6 434.1V426.1M270.8 434.1V429.6M324.9 434.1V426.1M379.0 434.1V429.6M433.2 434.1V426.1M487.3 434.1V429.6M541.5 434.1V426.1M595.6 434.1V429.6M108.3 78.8V70.3M162.5 78.8V74.3M216.6 78.8V70.3M270.8 78.8V74.3M324.9 78.8V70.3M379.0 78.8V74.3M433.2 78.8V70.3M487.3 78.8V74.3M541.5 78.8V70.3M595.6 78.8V74.3M650.0 78.8V70.3M75.4 408.6H80.7M75.4 383.3H84.4M75.4 357.9H80.7M75.4 332.6H84.4M75.4 307.2H80.7M75.4 281.9H84.4M75.4 256.5H80.7M75.4 231.2H84.4M75.4 205.8H80.7M75.4 180.5H84.4M75.4 155.1H80.7M75.4 129.7H84.4M75.4 104.4H80.7" stroke-width="1.8"/>
<path d="M379.6 78.8V240.8H650.0" stroke-width="2"/>
<path d="M395.6 240.8V235.6M421.2 240.8V237.8M446.8 240.8V235.6M472.4 240.8V237.8M498.0 240.8V235.6M523.5 240.8V237.8M549.1 240.8V235.6M574.7 240.8V237.8M600.3 240.8V235.6M625.9 240.8V237.8M379.6 210.8H382.6M379.6 180.8H384.8M379.6 150.8H382.6M379.6 120.8H384.8M379.6 90.8H382.6" stroke-width="1.4"/>
</g>
<rect x="573.1" y="293.1" width="73.8" height="135.3" fill="#fff" stroke="#1c1c1c" stroke-width="2"/>
<text x="640.6" y="311.0" font-size="18.6" text-anchor="end"><tspan font-style="italic">T</tspan> (K)</text>
<path d="M576.0 326.9H609.0" stroke="#3c4bb2" stroke-width="2.0" stroke-linecap="round" fill="none"/>
<text x="613.5" y="333.1" font-size="18.6">10</text>
<path d="M576.0 345.2H609.0" stroke="#a39b3a" stroke-width="2.6" stroke-linecap="round" fill="none"/>
<text x="613.5" y="351.4" font-size="18.6">40</text>
<path d="M576.0 363.6H609.0" stroke="#962032" stroke-width="2.1" stroke-linecap="round" fill="none"/>
<text x="613.5" y="369.8" font-size="18.6">50</text>
<path d="M576.0 381.9H609.0" stroke="#0e8a44" stroke-width="2.9" stroke-linecap="round" fill="none"/>
<text x="613.5" y="388.1" font-size="18.6">60</text>
<path d="M576.0 400.2H609.0" stroke="#ad40b6" stroke-width="2.3" stroke-linecap="round" fill="none"/>
<text x="613.5" y="406.4" font-size="18.6">70</text>
<path d="M576.0 418.5H609.0" stroke="#f42428" stroke-width="2.6" stroke-linecap="round" fill="none"/>
<text x="613.5" y="424.7" font-size="18.6">80</text>
<rect x="591.1" y="78.8" width="59.2" height="102.4" fill="#fff" stroke="#1c1c1c" stroke-width="2"/>
<text x="647.0" y="93.0" font-size="13.2" text-anchor="end"><tspan font-style="italic">T</tspan> (K)</text>
<path d="M593.5 102.8H619.5" stroke="#3c4bb2" stroke-width="1.9" stroke-linecap="round" fill="none"/>
<text x="624.5" y="107.2" font-size="13.2">100</text>
<path d="M593.5 117.3H619.5" stroke="#a39b3a" stroke-width="2.5" stroke-linecap="round" fill="none"/>
<text x="624.5" y="121.7" font-size="13.2">120</text>
<path d="M593.5 131.8H619.5" stroke="#962032" stroke-width="2.0" stroke-linecap="round" fill="none"/>
<text x="624.5" y="136.2" font-size="13.2">160</text>
<path d="M593.5 146.1H619.5" stroke="#0e8a44" stroke-width="2.8" stroke-linecap="round" fill="none"/>
<text x="624.5" y="150.5" font-size="13.2">200</text>
<path d="M593.5 160.4H619.5" stroke="#ad40b6" stroke-width="2.2" stroke-linecap="round" fill="none"/>
<text x="624.5" y="164.8" font-size="13.2">240</text>
<path d="M593.5 174.7H619.5" stroke="#f42428" stroke-width="2.5" stroke-linecap="round" fill="none"/>
<text x="624.5" y="179.1" font-size="13.2">280</text>
<rect x="221.9" y="85.9" width="88.8" height="49" fill="#fff" stroke="#1c1c1c" stroke-width="1.5"/>
<text x="266.3" y="106" font-size="16.4" text-anchor="middle">6<tspan font-style="italic">H</tspan>-SiC</text>
<text x="225.5" y="124" font-size="16.4">λ<tspan font-size="8.5" dy="2.8">ex</tspan><tspan dy="-2.8"> = 980 nm</tspan></text>
<text x="109.3" y="467" font-size="31.6" text-anchor="middle">1100</text>
<text x="217.6" y="467" font-size="31.6" text-anchor="middle">1150</text>
<text x="325.9" y="467" font-size="31.6" text-anchor="middle">1200</text>
<text x="434.2" y="467" font-size="31.6" text-anchor="middle">1250</text>
<text x="542.5" y="467" font-size="31.6" text-anchor="middle">1300</text>
<text x="650.7" y="467" font-size="31.6" text-anchor="middle">1350</text>
<text x="108.8" y="58.6" font-size="31.6" text-anchor="middle">1.127</text>
<text x="217.1" y="58.6" font-size="31.6" text-anchor="middle">1.078</text>
<text x="325.4" y="58.6" font-size="31.6" text-anchor="middle">1.033</text>
<text x="433.7" y="58.6" font-size="31.6" text-anchor="middle">0.992</text>
<text x="542.0" y="58.6" font-size="31.6" text-anchor="middle">0.954</text>
<text x="650.2" y="58.6" font-size="31.6" text-anchor="middle">0.918</text>
<text x="69.8" y="444.7" font-size="31.6" text-anchor="end">0</text>
<text x="69.8" y="394.0" font-size="31.6" text-anchor="end">10</text>
<text x="69.8" y="343.3" font-size="31.6" text-anchor="end">20</text>
<text x="69.8" y="292.6" font-size="31.6" text-anchor="end">30</text>
<text x="69.8" y="241.9" font-size="31.6" text-anchor="end">40</text>
<text x="69.8" y="191.2" font-size="31.6" text-anchor="end">50</text>
<text x="69.8" y="140.4" font-size="31.6" text-anchor="end">60</text>
<text x="69.8" y="89.7" font-size="31.6" text-anchor="end">70</text>
<text x="363.5" y="503" font-size="31.6" text-anchor="middle">Wavelength (nm)</text>
<text x="363" y="22.5" font-size="31.6" text-anchor="middle"><tspan font-style="italic">E</tspan> (eV)</text>
<text transform="translate(22.5 256.5) rotate(-90)" font-size="32.3" text-anchor="middle">Intensity (arb. units)</text>
<text x="397.9" y="260.2" font-size="19.4" text-anchor="middle">1100</text>
<text x="449.1" y="260.2" font-size="19.4" text-anchor="middle">1150</text>
<text x="500.3" y="260.2" font-size="19.4" text-anchor="middle">1200</text>
<text x="551.4" y="260.2" font-size="19.4" text-anchor="middle">1250</text>
<text x="602.6" y="260.2" font-size="19.4" text-anchor="middle">1300</text>
<text x="376.9" y="127.3" font-size="19.4" text-anchor="end">10</text>
<text x="376.9" y="187.3" font-size="19.4" text-anchor="end">5</text>
<text x="376.9" y="247.3" font-size="19.4" text-anchor="end">0</text>
<text x="515" y="278.5" font-size="19.2" text-anchor="middle">Wavelength (nm)</text>
<text transform="translate(355.2 160.3) rotate(-90)" font-size="19.2" text-anchor="middle">Intensity (arb. units)</text>
<text x="82.2" y="124.6" font-size="18.9">QL6,</text>
<text x="82.2" y="144.8" font-size="18.9">QL5</text>
<text x="165.0" y="125.2" font-size="18.9">QL2</text>
<text x="143.2" y="173.2" font-size="18.9">QL3</text>
<text x="188.3" y="176.8" font-size="18.9">QL1</text>
<text x="107.7" y="232.9" font-size="18.9">QL4</text>
<text x="274.4" y="201.8" font-size="18.9">SL5,</text>
<text x="274.4" y="222.3" font-size="18.9">SL4</text>
<text x="308.0" y="253.9" font-size="18.9">SL3</text>
<text x="213.3" y="260.4" font-size="18.9">SL6</text>
<text x="369.0" y="278.5" font-size="18.9">SL2</text>
<text x="421.3" y="310.6" font-size="18.9">SL1</text>
<text x="385.3" y="198.1" font-size="12.3">QL4</text>
<text x="410.7" y="196.0" font-size="12.3">QL2</text>
<text x="424.2" y="178.5" font-size="12.3">QL1</text>
<text x="446.8" y="173.2" font-size="12.3">SL6</text>
<text x="474.0" y="93.7" font-size="12.3">SL5,</text>
<text x="474.0" y="109.8" font-size="12.3">SL4</text>
<text x="492.2" y="144.5" font-size="12.3">SL3</text>
<text x="512.3" y="134.6" font-size="12.3">SL2</text>
<text x="536.6" y="135.2" font-size="12.3">SL1</text>
</svg>
</body></html>
